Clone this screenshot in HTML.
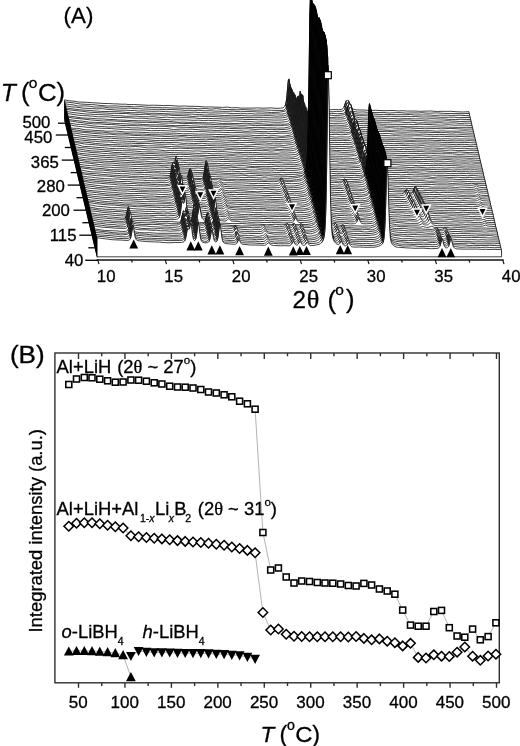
<!DOCTYPE html>
<html><head><meta charset="utf-8"><title>Figure</title>
<style>html,body{margin:0;padding:0;background:#fff}svg{display:block}</style></head>
<body><svg width="520" height="746" viewBox="0 0 520 746">
<rect width="520" height="746" fill="#fff"/>
<g id="waterfall" fill="#fff" stroke="#111" stroke-width="0.80" stroke-linejoin="round">
<path d="M64.5 118.8L64.5 99.9L68.5 100.7L74.0 101.2L78.5 102.0L80.0 102.1L86.5 102.3L104.0 103.5L108.5 103.5L113.5 103.8L117.0 103.9L121.0 104.2L125.5 104.2L129.0 104.6L133.5 104.5L148.5 105.3L153.5 105.2L160.0 105.4L163.5 105.6L168.0 105.4L179.0 106.2L184.5 106.0L190.0 106.3L197.0 106.4L205.5 107.0L209.5 106.9L222.5 107.4L227.5 107.1L231.5 107.7L233.0 107.8L236.0 107.6L241.0 108.1L253.0 108.1L257.5 107.9L263.0 108.2L271.0 107.9L277.0 108.4L280.5 108.2L282.5 107.9L284.0 107.2L284.5 106.7L285.0 106.1L285.5 104.9L286.0 103.0L286.5 100.0L287.0 95.5L288.0 83.9L288.5 79.6L289.0 79.2L289.5 82.9L291.0 99.4L291.5 102.7L292.0 104.9L292.5 106.1L293.0 106.8L293.5 107.2L294.5 107.7L296.0 108.1L299.5 108.6L304.5 109.0L317.0 109.3L322.5 109.2L330.5 109.7L335.0 109.5L338.5 109.7L340.0 109.6L341.5 109.3L342.5 108.9L343.5 107.9L344.5 105.9L346.0 101.4L346.5 100.7L347.0 100.4L347.5 100.4L348.0 100.5L348.5 100.9L349.0 101.9L350.5 106.4L351.5 108.1L352.0 108.6L353.0 109.1L355.0 109.6L357.0 109.9L363.5 110.0L371.0 110.5L375.5 110.3L385.0 110.7L393.0 110.5L398.5 110.9L403.0 110.7L407.5 111.1L414.0 111.0L419.5 111.3L430.5 111.0L437.5 111.5L442.0 111.3L446.5 111.4L450.5 111.3L456.0 111.7L462.5 112.0L469.0 111.7L469.1 118.8Z"/>
<path d="M285.0 106.1L285.5 104.9L286.0 103.0L286.5 100.0L287.0 95.5L288.0 83.9L288.5 79.6L289.0 79.2L289.5 82.9L290.5 94.6L291.0 99.4L291.5 102.7L292.0 104.9L292.5 106.1M344.0 107.1L344.5 105.9L346.0 101.4L346.5 100.7M348.0 100.5L348.5 100.9L349.0 101.9L350.5 106.4L351.0 107.4" fill="none" stroke="#1a1a1a" stroke-width="1.15"/>
<path d="M65.0 120.7L65.0 101.9L73.0 102.8L77.0 103.5L80.5 104.0L87.0 104.4L91.5 104.5L103.0 105.7L108.0 106.0L116.0 105.9L121.0 106.3L128.0 106.4L134.5 106.9L141.0 106.6L145.5 107.1L152.0 107.4L157.5 107.4L162.5 107.8L167.0 107.7L171.0 108.0L179.0 108.1L183.0 108.3L192.5 108.3L198.5 108.8L205.5 108.5L211.0 109.1L216.5 108.6L218.0 108.8L222.5 109.4L228.5 109.5L237.5 109.8L243.0 109.6L256.5 110.2L261.0 110.0L265.5 110.0L271.5 110.3L282.0 110.5L283.5 110.2L285.0 109.4L285.5 108.9L286.0 108.0L286.5 106.4L287.0 103.9L287.5 100.2L289.0 84.9L289.5 83.2L290.0 85.7L291.5 101.1L292.0 104.6L292.5 106.9L293.0 108.3L293.5 109.1L294.0 109.6L295.0 110.2L296.5 110.6L306.5 111.1L311.5 111.2L322.5 111.0L332.0 111.8L336.5 111.4L340.0 111.4L342.0 111.2L343.0 110.9L344.0 110.2L344.5 109.5L345.0 108.4L346.5 104.1L347.0 103.2L347.5 102.8L348.0 102.7L348.5 102.8L349.0 103.0L349.5 103.8L351.5 109.4L352.0 110.2L352.5 110.8L353.0 111.2L354.0 111.5L357.5 112.0L359.0 112.1L363.0 111.9L367.5 112.3L376.0 112.6L383.0 112.4L389.0 113.0L395.5 112.6L401.0 112.7L406.5 113.1L414.0 112.9L418.0 113.0L422.0 112.7L428.0 113.2L437.5 112.9L443.5 113.4L463.0 113.7L467.0 113.5L469.5 113.6L469.6 120.7Z"/>
<path d="M286.0 108.0L286.5 106.4L287.0 103.9L287.5 100.2L289.0 84.9L289.5 83.2L290.0 85.7L291.5 101.1L292.0 104.6L292.5 106.9L293.0 108.3M344.5 109.5L345.0 108.4L346.5 104.1L347.0 103.2L347.5 102.8M348.5 102.8L349.0 103.0L349.5 103.8L351.0 108.2L351.5 109.4" fill="none" stroke="#1a1a1a" stroke-width="1.15"/>
<path d="M65.4 122.7L65.4 103.8L69.4 104.5L73.4 104.9L76.9 105.8L78.4 106.0L84.9 105.9L89.9 106.3L94.9 107.1L96.9 107.1L102.4 106.9L104.9 107.2L108.4 107.8L109.9 107.9L114.9 107.8L123.9 108.3L129.9 108.1L134.9 108.6L138.9 108.7L143.4 109.0L146.9 109.0L151.4 109.3L159.9 109.3L166.4 109.6L171.4 109.5L181.4 110.0L184.9 110.4L188.9 110.2L193.4 110.4L198.4 110.3L202.9 110.7L211.4 110.8L214.9 111.1L218.9 111.1L222.9 111.4L233.4 111.2L240.4 111.7L243.9 111.6L252.4 111.6L257.9 112.0L262.4 111.9L271.4 112.5L279.4 112.2L283.9 111.4L285.4 111.0L285.9 110.6L286.4 109.9L286.9 108.7L287.4 106.6L287.9 103.3L289.4 88.0L289.9 85.4L290.4 86.7L291.9 101.7L292.4 105.5L292.9 108.1L293.4 109.6L293.9 110.5L294.4 111.0L295.4 111.6L296.9 112.0L301.9 112.8L303.4 113.0L310.9 113.3L315.4 113.1L326.4 113.5L331.4 113.4L337.4 113.7L342.4 113.5L343.4 113.3L344.4 112.7L345.4 111.3L346.9 107.5L347.4 106.6L347.9 106.1L348.9 106.0L349.4 106.1L349.9 106.6L351.9 111.2L352.9 112.6L353.9 113.2L354.9 113.5L359.4 114.2L372.4 114.0L379.9 114.5L383.4 114.4L386.9 114.6L391.4 114.5L396.9 114.7L405.9 114.7L410.4 114.5L414.9 115.0L423.9 114.9L430.4 115.1L434.9 115.4L440.9 115.1L443.9 115.3L447.4 115.2L451.4 115.5L455.9 115.3L460.4 115.3L465.9 115.6L469.9 115.7L470.0 122.7Z"/>
<path d="M286.4 109.9L286.9 108.7L287.4 106.6L287.9 103.3L289.4 88.0L289.9 85.4L290.4 86.7L291.9 101.7L292.4 105.5L292.9 108.1L293.4 109.6L293.9 110.5M345.4 111.3L346.9 107.5L347.4 106.6L347.9 106.1M349.4 106.1L349.9 106.6L350.4 107.6L351.9 111.2" fill="none" stroke="#1a1a1a" stroke-width="1.15"/>
<path d="M65.9 124.6L65.9 105.9L71.9 106.9L75.4 107.1L83.9 108.2L91.9 108.6L96.9 108.9L102.4 108.7L106.9 109.3L118.4 110.1L125.9 110.2L130.4 110.5L134.4 110.5L138.4 111.0L142.9 110.9L151.9 111.3L159.4 111.2L165.4 111.6L178.4 112.1L182.9 112.1L186.9 112.4L194.9 112.2L200.4 112.6L206.4 112.7L209.9 113.0L215.4 112.9L221.9 113.2L226.4 113.1L233.4 113.5L240.4 113.7L244.4 113.6L247.4 113.8L250.9 113.6L255.4 114.1L261.4 113.8L267.4 114.0L271.4 113.9L276.9 113.9L280.4 114.1L281.9 114.1L284.4 113.7L285.9 113.2L286.4 112.9L286.9 112.3L287.4 111.2L287.9 109.4L288.4 106.4L289.9 91.2L290.4 87.6L290.9 87.7L291.4 91.5L292.9 106.7L293.4 109.6L293.9 111.4L294.4 112.4L294.9 112.9L295.4 113.3L296.9 113.9L298.9 114.4L303.9 114.6L307.4 114.9L311.9 114.8L321.9 115.2L327.9 114.9L334.4 115.6L337.4 115.5L342.9 114.9L344.4 114.5L344.9 114.1L345.4 113.5L346.4 111.2L347.9 106.4L348.4 105.6L348.9 105.4L349.4 105.4L349.9 105.5L350.4 106.0L350.9 107.1L352.4 112.1L352.9 113.2L353.4 114.0L353.9 114.5L354.9 115.0L358.9 115.7L362.9 115.7L385.4 116.5L390.4 116.3L400.9 116.7L407.9 116.4L411.4 116.6L415.4 116.5L422.9 117.0L433.9 116.9L440.9 117.3L448.4 117.3L453.4 117.2L458.4 117.6L470.4 117.4L470.5 124.6Z"/>
<path d="M286.9 112.3L287.4 111.2L287.9 109.4L288.4 106.4L288.9 102.1L289.9 91.2L290.4 87.6L290.9 87.7L291.4 91.5L292.4 102.4L292.9 106.7L293.4 109.6L293.9 111.4L294.4 112.4M345.4 113.5L345.9 112.6L346.4 111.2L347.9 106.4L348.4 105.6L348.9 105.4M349.9 105.5L350.4 106.0L350.9 107.1L351.9 110.6L352.4 112.1L352.9 113.2" fill="none" stroke="#1a1a1a" stroke-width="1.15"/>
<path d="M66.3 126.6L66.3 108.0L79.8 109.8L86.8 110.3L90.3 110.4L93.8 110.9L97.3 111.1L100.3 111.4L116.8 111.7L121.8 112.0L126.3 112.4L131.3 112.7L140.8 112.7L149.3 113.3L156.3 113.3L171.3 114.0L178.8 114.1L183.3 114.0L186.8 114.2L191.3 114.1L195.3 114.4L199.3 114.4L204.8 115.0L211.3 114.8L218.3 115.1L224.3 115.6L231.8 115.2L235.8 115.5L241.3 115.5L248.3 115.9L252.8 115.8L256.8 115.9L263.8 115.7L270.8 115.7L276.8 116.2L283.8 115.8L285.8 115.4L286.8 114.9L287.3 114.3L287.8 113.4L288.3 111.7L288.8 108.9L289.3 104.8L290.8 89.1L291.3 88.0L291.8 91.0L293.3 107.2L293.8 110.7L294.3 112.9L294.8 114.3L295.3 115.0L295.8 115.5L296.8 116.0L298.3 116.3L304.3 116.8L313.8 117.1L318.3 117.0L323.8 117.7L332.3 117.5L336.8 117.2L340.8 117.3L343.3 117.0L344.8 116.4L345.3 116.0L345.8 115.3L346.3 114.1L346.8 112.5L348.3 105.9L348.8 104.6L349.3 104.1L349.8 104.0L350.3 104.1L350.8 104.6L351.3 105.8L352.8 112.4L353.3 114.1L353.8 115.3L354.3 116.0L354.8 116.5L355.8 116.9L359.8 117.8L364.8 118.1L368.8 118.0L373.3 118.4L377.8 118.1L388.3 118.7L393.8 118.5L398.8 118.9L407.3 118.6L415.8 118.9L421.3 118.8L425.8 119.1L430.8 118.7L440.8 119.0L444.8 119.0L448.8 119.4L451.8 119.4L455.3 119.5L460.3 119.3L470.8 119.5L470.9 126.6Z"/>
<path d="M287.3 114.3L287.8 113.4L288.3 111.7L288.8 108.9L289.3 104.8L290.3 93.7L290.8 89.1L291.3 88.0L291.8 91.0L293.3 107.2L293.8 110.7L294.3 112.9L294.8 114.3M345.8 115.3L346.3 114.1L346.8 112.5L348.3 105.9L348.8 104.6L349.3 104.1M350.3 104.1L350.8 104.6L351.3 105.8L352.8 112.4L353.3 114.1L353.8 115.3" fill="none" stroke="#1a1a1a" stroke-width="1.15"/>
<path d="M66.8 128.5L66.8 109.4L70.8 110.1L82.8 111.3L88.3 112.1L101.3 112.9L106.8 113.1L110.3 113.4L114.3 113.3L118.3 113.5L125.8 113.5L134.3 114.3L139.8 114.5L145.8 114.2L151.3 114.9L153.8 115.0L159.3 114.9L163.3 115.2L168.3 114.9L174.3 115.5L186.8 115.8L192.8 116.5L199.3 116.1L204.3 116.4L211.8 116.4L223.8 117.1L229.8 117.0L244.8 117.6L254.3 117.7L263.3 117.6L278.8 118.0L282.3 117.8L285.8 117.3L287.3 116.7L287.8 116.3L288.3 115.5L288.8 114.0L289.3 111.6L289.8 108.0L291.3 91.9L291.8 89.5L292.3 91.3L293.8 107.3L294.3 111.2L294.8 113.7L295.3 115.3L295.8 116.2L296.3 116.8L297.8 117.5L299.8 118.0L309.3 118.8L313.8 118.6L317.8 118.8L321.3 118.8L325.8 119.0L332.3 118.9L340.3 119.1L344.3 118.7L345.3 118.4L345.8 118.1L346.3 117.5L346.8 116.6L347.3 115.3L348.8 109.6L349.3 108.1L349.8 107.5L350.3 107.4L350.8 107.4L351.3 107.7L351.8 108.6L353.8 115.9L354.3 117.1L354.8 117.9L355.3 118.4L356.3 118.9L361.3 119.8L363.3 119.9L370.3 119.7L377.8 120.2L390.8 120.4L409.3 120.1L414.8 120.6L422.3 120.6L425.8 120.9L435.8 121.1L441.3 121.1L448.3 120.7L452.3 121.1L455.8 121.2L459.8 121.5L471.3 121.2L471.4 128.5Z"/>
<path d="M287.8 116.3L288.3 115.5L288.8 114.0L289.3 111.6L289.8 108.0L291.3 91.9L291.8 89.5L292.3 91.3L293.8 107.3L294.3 111.2L294.8 113.7L295.3 115.3L295.8 116.2M346.8 116.6L347.3 115.3L347.8 113.6L348.8 109.6L349.3 108.1L349.8 107.5M350.8 107.4L351.3 107.7L351.8 108.6L352.3 110.2L353.3 114.3L353.8 115.9L354.3 117.1" fill="none" stroke="#1a1a1a" stroke-width="1.15"/>
<path d="M67.2 130.5L67.2 111.5L71.2 112.3L86.7 114.1L90.7 114.1L94.7 114.5L98.7 114.6L109.7 115.1L114.7 115.7L120.2 115.7L125.7 116.3L134.7 116.2L138.7 116.4L142.2 116.7L148.7 116.8L153.2 116.7L161.2 117.5L166.7 117.1L170.2 117.5L177.7 117.8L186.7 117.7L193.2 117.9L195.2 118.0L200.2 118.5L208.7 118.4L213.7 118.7L219.2 118.7L224.2 119.1L229.7 118.9L242.2 119.2L246.2 119.5L253.2 119.5L258.7 119.8L263.7 119.7L274.7 120.1L282.7 120.0L286.2 119.4L287.7 118.9L288.2 118.5L288.7 117.8L289.2 116.5L289.7 114.4L290.2 111.0L291.7 94.7L292.2 91.2L292.7 91.9L293.2 96.3L294.2 107.9L294.7 112.3L295.2 115.3L295.7 117.1L296.2 118.2L296.7 118.8L297.7 119.4L299.7 119.9L301.7 120.2L307.2 120.5L311.2 120.8L315.2 120.9L319.7 121.2L326.7 120.9L340.2 121.2L345.2 120.8L346.2 120.5L346.7 120.1L347.2 119.4L348.2 117.0L349.7 112.0L350.2 111.3L350.7 111.1L351.2 111.1L351.7 111.2L352.2 111.8L352.7 113.0L354.2 118.1L354.7 119.3L355.2 120.1L356.2 120.9L357.7 121.3L365.2 121.9L370.7 121.8L382.2 122.3L386.7 122.3L393.7 121.9L398.7 121.9L406.2 122.5L412.2 122.2L417.7 123.0L423.7 122.7L429.2 123.0L439.2 122.7L444.7 123.1L450.2 122.8L456.2 123.0L460.7 123.5L464.7 123.1L471.7 123.3L471.8 130.5Z"/>
<path d="M288.7 117.8L289.2 116.5L289.7 114.4L290.2 111.0L290.7 106.3L291.7 94.7L292.2 91.2L292.7 91.9L293.2 96.3L294.2 107.9L294.7 112.3L295.2 115.3L295.7 117.1L296.2 118.2M347.2 119.4L347.7 118.4L348.2 117.0L349.2 113.5L349.7 112.0L350.2 111.3M351.7 111.2L352.2 111.8L352.7 113.0L353.7 116.6L354.2 118.1L354.7 119.3" fill="none" stroke="#1a1a1a" stroke-width="1.15"/>
<path d="M67.7 132.4L67.7 113.6L78.2 115.2L83.2 115.6L87.2 115.8L92.7 116.2L98.2 116.8L107.2 116.8L115.2 117.5L123.2 117.5L126.2 117.7L130.2 117.8L136.7 118.3L142.2 118.2L145.7 118.4L149.7 118.9L155.7 118.9L164.2 119.5L167.7 119.5L171.7 120.0L176.2 119.8L186.2 119.9L193.2 120.3L198.7 120.2L203.7 120.6L208.2 120.3L212.2 120.6L216.7 120.6L222.2 121.2L228.2 121.2L235.2 120.9L241.7 121.4L247.7 121.4L255.7 122.0L258.2 122.0L263.7 121.6L270.7 122.1L278.7 122.3L281.2 122.2L286.2 121.7L287.7 121.3L288.7 120.7L289.2 120.1L289.7 119.0L290.2 117.1L290.7 114.2L292.7 94.0L293.2 93.4L293.7 96.8L295.2 113.2L295.7 116.5L296.2 118.7L296.7 119.9L297.2 120.6L297.7 121.0L299.2 121.7L301.2 122.2L302.7 122.4L308.2 122.6L313.2 122.4L319.2 122.7L325.2 123.1L333.7 123.4L339.2 123.2L343.2 123.3L344.7 123.1L345.7 122.9L346.7 122.5L347.2 122.1L347.7 121.5L348.7 119.3L350.2 114.1L350.7 113.1L351.2 112.8L351.7 112.7L352.2 112.8L352.7 113.2L353.2 114.3L354.7 119.5L355.7 121.7L356.2 122.3L357.2 122.9L360.2 123.5L363.7 123.7L368.2 123.6L372.2 123.8L376.2 123.8L383.2 124.3L387.7 124.2L400.2 124.4L408.7 124.3L413.2 124.6L419.2 124.2L433.7 124.7L441.7 125.2L448.7 124.7L454.2 125.2L464.2 125.1L468.2 125.4L472.2 125.4L472.3 132.4Z"/>
<path d="M289.2 120.1L289.7 119.0L290.2 117.1L290.7 114.2L291.2 109.8L292.2 98.3L292.7 94.0L293.2 93.4L293.7 96.8L294.7 108.4L295.2 113.2L295.7 116.5L296.2 118.7L296.7 119.9M348.2 120.6L348.7 119.3L350.2 114.1L350.7 113.1L351.2 112.8M352.2 112.8L352.7 113.2L353.2 114.3L354.7 119.5L355.2 120.8" fill="none" stroke="#1a1a1a" stroke-width="1.15"/>
<path d="M68.2 134.3L68.2 116.0L73.2 116.6L81.7 117.9L87.2 118.2L91.2 118.3L98.2 118.9L102.2 118.9L109.7 119.5L113.7 119.5L118.7 120.0L124.2 120.1L127.7 120.4L133.7 120.5L138.7 120.8L147.2 120.8L152.7 121.2L158.7 121.2L168.2 121.4L179.2 122.3L182.7 122.1L188.7 122.4L193.7 122.3L198.2 122.6L202.2 122.6L208.2 122.9L214.2 122.7L222.7 123.5L228.2 123.3L234.2 123.5L239.7 123.5L246.2 123.2L252.7 123.9L258.2 123.7L263.7 123.9L269.7 124.3L275.2 124.1L280.7 124.1L284.2 124.2L285.7 124.1L287.7 123.7L288.7 123.3L289.2 123.0L289.7 122.4L290.2 121.4L290.7 119.7L291.2 116.9L291.7 112.6L293.2 94.8L293.7 92.7L294.2 95.3L295.7 113.2L296.2 117.4L296.7 120.0L297.2 121.6L297.7 122.5L298.2 123.0L299.2 123.5L300.7 123.9L309.2 124.8L314.7 125.0L318.7 124.8L325.7 125.4L332.7 125.3L336.2 125.1L341.7 125.4L344.7 125.2L347.2 124.6L348.2 123.8L348.7 123.1L349.2 122.0L350.7 117.1L351.2 115.9L351.7 115.4L352.7 115.3L353.2 115.5L353.7 116.3L355.2 121.3L356.2 123.7L356.7 124.4L357.2 124.8L358.2 125.3L359.2 125.4L363.2 125.7L368.7 125.6L372.2 125.9L375.7 125.8L379.7 126.0L383.2 125.9L387.7 126.3L391.7 126.2L395.7 126.3L399.2 126.2L407.2 126.7L419.2 126.7L424.2 126.9L436.2 126.8L440.7 127.1L448.2 127.1L452.2 127.3L458.7 127.4L466.2 127.3L472.7 127.4L472.8 134.3Z"/>
<path d="M290.2 121.4L290.7 119.7L291.2 116.9L291.7 112.6L293.2 94.8L293.7 92.7L294.2 95.3L295.7 113.2L296.2 117.4L296.7 120.0L297.2 121.6M348.7 123.1L349.2 122.0L349.7 120.5L350.7 117.1L351.2 115.9L351.7 115.4M352.7 115.3L353.2 115.5L353.7 116.3L355.7 122.7" fill="none" stroke="#1a1a1a" stroke-width="1.15"/>
<path d="M68.6 136.3L68.6 117.3L75.1 118.3L82.1 118.9L90.6 119.9L102.1 120.9L103.6 121.0L107.6 120.8L113.1 120.9L120.6 121.4L126.1 121.5L131.1 121.9L142.1 122.4L146.6 122.3L152.1 122.6L156.1 122.5L164.1 123.2L168.6 123.1L173.1 123.2L177.6 123.0L182.6 123.6L189.6 123.5L197.6 123.9L209.6 124.2L217.1 124.7L222.1 124.8L228.1 124.7L242.6 125.3L249.1 125.0L255.6 125.6L261.1 125.3L273.6 125.7L280.1 125.7L284.6 125.3L287.6 125.2L289.1 124.9L290.1 124.2L290.6 123.4L291.1 122.0L291.6 119.6L292.1 115.7L293.6 98.0L294.1 94.7L294.6 96.0L296.1 113.6L296.6 118.2L297.1 121.2L297.6 123.1L298.1 124.2L298.6 124.8L299.6 125.4L301.1 125.9L308.6 126.7L312.6 126.5L317.1 126.8L323.1 126.7L328.6 126.8L332.1 127.0L335.6 127.0L340.1 127.1L343.1 127.0L347.1 126.7L348.1 126.4L348.6 126.0L349.1 125.4L350.1 123.2L351.6 118.9L352.1 118.3L353.1 118.1L353.6 118.2L354.1 118.8L354.6 119.9L356.1 124.5L357.1 126.3L358.1 127.1L359.6 127.5L366.6 127.6L375.6 127.9L382.1 128.0L390.6 127.7L395.1 128.1L399.6 128.2L409.1 127.9L414.1 128.3L420.1 128.5L424.6 128.7L436.6 128.5L441.6 128.8L450.1 128.4L463.6 129.1L473.1 129.1L473.2 136.3Z"/>
<path d="M290.6 123.4L291.1 122.0L291.6 119.6L292.1 115.7L293.6 98.0L294.1 94.7L294.6 96.0L295.1 101.1L296.1 113.6L296.6 118.2L297.1 121.2L297.6 123.1L298.1 124.2M349.6 124.5L350.1 123.2L351.1 120.2L351.6 118.9L352.1 118.3M353.6 118.2L354.1 118.8L354.6 119.9L355.6 123.1L356.1 124.5L356.6 125.6" fill="none" stroke="#1a1a1a" stroke-width="1.15"/>
<path d="M69.1 138.2L69.1 119.5L76.1 120.6L82.6 121.2L88.6 122.1L107.1 122.9L116.6 123.5L127.1 123.8L132.1 124.2L137.6 124.1L142.6 124.5L150.6 124.8L161.1 124.8L169.1 125.4L175.6 125.7L186.6 125.4L191.1 125.9L195.6 125.9L200.6 126.3L207.6 126.2L213.1 126.3L221.1 126.8L227.1 126.6L235.1 127.2L240.1 127.0L244.6 127.0L251.1 127.6L258.1 127.4L267.1 127.8L272.6 127.8L277.6 128.1L284.6 127.9L288.1 127.2L289.6 126.7L290.6 125.9L291.1 125.1L291.6 123.8L292.1 121.6L292.6 118.0L294.1 99.7L294.6 95.1L295.1 95.0L295.6 99.6L296.6 113.0L297.1 118.4L297.6 122.2L298.1 124.6L298.6 126.0L299.1 126.8L299.6 127.3L300.1 127.6L301.1 128.0L302.6 128.2L306.6 128.2L310.6 128.6L316.1 128.5L320.1 128.9L324.1 129.0L328.1 128.9L332.6 129.1L336.6 128.9L341.1 129.0L345.6 128.9L347.6 128.7L348.6 128.4L349.1 128.0L349.6 127.4L350.6 125.2L352.1 120.3L352.6 119.4L353.1 119.2L353.6 119.1L354.1 119.2L354.6 119.7L355.1 120.7L356.6 125.7L357.1 126.9L357.6 127.7L358.1 128.3L358.6 128.6L359.6 129.0L363.6 129.5L365.6 129.7L370.6 129.5L391.6 130.3L395.6 130.2L401.6 129.9L405.6 130.2L413.6 130.2L417.1 130.6L421.1 130.6L424.1 130.8L429.6 130.7L435.6 131.1L438.6 131.1L442.6 130.9L446.1 131.1L457.1 131.2L462.1 130.9L465.1 130.8L470.6 131.2L473.6 131.2L473.7 138.2Z"/>
<path d="M290.6 125.9L291.1 125.1L291.6 123.8L292.1 121.6L292.6 118.0L293.1 112.9L294.1 99.7L294.6 95.1L295.1 95.0L295.6 99.6L296.6 113.0L297.1 118.4L297.6 122.2L298.1 124.6L298.6 126.0M350.1 126.5L350.6 125.2L352.1 120.3L352.6 119.4L353.1 119.2M354.1 119.2L354.6 119.7L355.1 120.7L356.6 125.7L357.1 126.9" fill="none" stroke="#1a1a1a" stroke-width="1.15"/>
<path d="M69.5 140.2L69.5 120.9L72.5 121.3L77.5 122.2L82.0 122.6L85.5 123.2L90.0 123.4L93.5 123.9L95.0 124.0L99.0 123.8L107.0 124.5L111.5 124.4L122.0 125.5L126.5 125.5L139.5 125.8L143.5 125.8L155.5 126.4L159.5 126.3L164.5 126.4L170.0 126.9L174.0 126.7L179.0 127.2L187.0 127.3L192.0 127.6L197.0 127.4L202.5 127.8L206.0 127.7L209.5 128.0L213.5 128.0L218.5 128.4L224.0 128.1L228.5 128.4L242.5 128.8L248.5 128.8L255.0 129.4L264.0 129.1L268.0 129.5L272.0 129.3L276.5 129.7L285.5 129.4L288.0 129.1L290.0 128.5L291.0 127.9L291.5 127.3L292.0 126.3L292.5 124.5L293.0 121.6L293.5 117.3L295.0 100.1L295.5 98.7L296.0 101.8L297.5 119.4L298.0 123.2L298.5 125.7L299.0 127.2L299.5 128.0L300.5 128.8L302.0 129.3L309.0 130.2L319.5 130.1L327.5 130.9L336.5 130.8L341.0 131.0L347.5 130.6L349.0 130.2L350.0 129.5L351.0 127.8L352.5 123.5L353.0 122.5L353.5 122.1L354.0 122.1L354.5 122.1L355.0 122.3L355.5 123.0L357.5 128.5L358.5 130.0L359.0 130.4L360.0 130.9L362.0 131.2L365.5 131.4L371.0 131.3L377.5 131.6L387.5 131.3L395.0 131.9L405.0 132.2L414.5 131.9L423.5 132.3L428.0 132.2L432.0 132.5L436.0 132.4L440.5 132.6L445.5 132.6L451.5 133.0L456.5 132.7L464.0 132.9L470.0 133.2L474.0 133.1L474.1 140.2Z"/>
<path d="M291.5 127.3L292.0 126.3L292.5 124.5L293.0 121.6L293.5 117.3L295.0 100.1L295.5 98.7L296.0 101.8L297.0 114.0L297.5 119.4L298.0 123.2L298.5 125.7L299.0 127.2L299.5 128.0M350.5 128.8L351.0 127.8L352.5 123.5L353.0 122.5L353.5 122.1M355.0 122.3L355.5 123.0L357.5 128.5" fill="none" stroke="#1a1a1a" stroke-width="1.15"/>
<path d="M70.0 142.1L70.0 123.2L76.5 124.3L80.5 124.4L83.5 124.7L86.5 124.9L92.0 125.8L100.0 126.5L104.5 126.7L108.5 127.0L114.0 126.9L120.0 127.3L126.5 127.3L132.0 127.9L137.0 127.9L145.5 128.4L150.5 128.3L154.5 128.6L158.5 128.4L166.5 128.5L168.5 128.7L171.5 129.3L173.5 129.5L181.5 129.1L186.5 129.3L191.0 129.2L202.0 130.0L207.0 130.0L217.5 130.5L223.0 130.2L228.0 130.5L233.0 130.5L237.0 130.8L241.0 130.8L246.0 131.4L251.5 131.0L261.0 131.6L268.5 131.7L274.0 131.4L280.0 131.8L287.0 131.4L290.0 130.8L291.5 130.1L292.0 129.5L292.5 128.6L293.0 127.0L293.5 124.4L294.0 120.3L295.5 102.2L296.0 99.4L296.5 101.2L298.0 119.3L298.5 123.8L299.0 126.7L299.5 128.5L300.0 129.5L300.5 130.1L301.0 130.5L302.0 131.0L304.5 131.7L307.0 132.0L311.5 132.3L315.5 132.2L319.0 132.4L323.0 132.3L328.0 132.7L331.5 132.6L335.5 132.8L339.5 132.7L345.5 132.8L348.5 132.5L350.0 132.1L350.5 131.7L351.0 131.1L352.0 128.8L353.5 124.4L354.0 123.7L355.0 123.6L355.5 123.7L356.0 124.3L358.0 130.3L358.5 131.3L359.0 132.0L359.5 132.5L360.5 132.9L361.5 133.1L368.0 133.2L373.5 133.7L382.0 133.7L387.0 133.4L389.5 133.5L394.0 134.1L402.0 133.9L407.5 134.2L414.0 134.1L418.5 134.3L423.5 134.1L434.0 134.7L439.5 134.4L451.0 134.9L458.0 134.9L463.0 134.6L467.5 134.9L474.5 135.1L474.6 142.1Z"/>
<path d="M292.0 129.5L292.5 128.6L293.0 127.0L293.5 124.4L294.0 120.3L295.5 102.2L296.0 99.4L296.5 101.2L298.0 119.3L298.5 123.8L299.0 126.7L299.5 128.5L300.0 129.5M351.0 131.1L351.5 130.1L352.0 128.8L353.0 125.6L353.5 124.4L354.0 123.7M355.5 123.7L356.0 124.3L356.5 125.6L357.5 128.9L358.0 130.3L358.5 131.3" fill="none" stroke="#1a1a1a" stroke-width="1.15"/>
<path d="M70.5 144.1L70.5 124.9L74.5 125.8L78.5 126.4L82.5 126.7L87.0 127.3L91.0 127.4L94.0 127.8L99.0 128.2L102.5 128.4L106.5 128.4L111.5 128.6L116.5 129.0L123.5 129.4L128.0 129.5L133.0 129.8L145.0 130.1L151.5 130.7L160.5 130.5L169.5 130.9L174.0 131.3L178.0 131.1L182.0 131.3L186.0 131.3L192.5 131.6L203.5 131.6L211.5 132.2L216.5 132.1L230.5 132.6L241.0 132.6L245.0 132.9L253.0 133.0L257.5 133.3L265.5 133.2L271.0 133.7L281.0 133.2L289.0 133.2L290.5 132.9L292.0 132.1L292.5 131.6L293.0 130.8L293.5 129.4L294.0 126.9L294.5 123.0L296.0 103.5L296.5 99.1L297.0 99.6L297.5 104.7L298.5 118.6L299.0 123.9L299.5 127.5L300.0 129.8L300.5 131.1L301.0 131.9L302.0 132.7L304.0 133.3L306.5 133.7L310.0 134.1L314.0 134.1L329.0 134.7L336.0 134.3L340.5 134.7L342.5 134.7L347.5 134.3L349.5 134.0L350.5 133.4L351.0 132.9L351.5 132.0L352.0 130.6L352.5 128.6L354.0 121.2L354.5 119.9L355.0 119.5L355.5 119.5L356.0 119.6L356.5 120.2L357.0 121.9L358.5 129.4L359.0 131.2L359.5 132.5L360.0 133.3L361.0 134.1L362.5 134.7L364.5 135.1L367.0 135.3L377.0 135.4L381.5 135.6L386.0 135.6L391.0 135.8L396.5 135.7L402.5 136.0L411.0 136.0L414.5 135.8L421.5 135.9L426.5 136.3L430.5 136.2L434.5 136.5L438.0 136.3L444.5 136.4L454.5 136.8L461.0 136.4L465.0 136.7L475.0 137.0L475.1 144.1Z"/>
<path d="M292.5 131.6L293.0 130.8L293.5 129.4L294.0 126.9L294.5 123.0L295.0 117.4L296.0 103.5L296.5 99.1L297.0 99.6L297.5 104.7L298.5 118.6L299.0 123.9L299.5 127.5L300.0 129.8L300.5 131.1L301.0 131.9M351.0 132.9L351.5 132.0L352.0 130.6L352.5 128.6L354.0 121.2L354.5 119.9L355.0 119.5M356.0 119.6L356.5 120.2L357.0 121.9L358.5 129.4L359.0 131.2L359.5 132.5" fill="none" stroke="#1a1a1a" stroke-width="1.15"/>
<path d="M70.9 146.0L70.9 127.8L73.4 128.3L76.4 128.3L77.9 128.4L85.9 129.9L90.4 129.9L94.4 130.4L101.4 130.7L106.9 131.2L110.4 131.2L115.4 131.0L125.4 132.0L137.4 132.1L141.9 132.4L146.4 132.5L150.9 132.9L159.4 132.8L176.4 133.3L183.4 133.8L190.4 133.7L198.4 134.1L204.4 134.0L208.4 134.3L211.9 134.3L228.9 134.8L233.4 135.1L239.9 134.9L245.4 135.1L249.4 135.0L255.9 135.7L262.9 135.3L264.9 135.4L268.4 135.9L273.9 135.6L280.9 136.2L282.9 136.2L285.4 135.9L289.9 135.2L291.9 134.5L292.9 133.7L293.4 133.0L293.9 131.6L294.4 129.3L294.9 125.4L296.9 98.1L297.4 96.9L297.9 101.3L299.4 123.1L299.9 127.8L300.4 130.7L300.9 132.4L301.4 133.4L301.9 134.0L302.9 134.8L303.9 135.3L306.4 136.1L308.9 136.4L312.9 136.2L317.4 136.5L321.4 136.4L325.9 136.7L331.4 136.7L335.9 137.1L340.4 136.8L346.9 137.0L348.4 136.9L349.9 136.6L350.9 136.0L351.4 135.5L351.9 134.7L352.4 133.3L352.9 131.4L354.4 123.6L354.9 121.9L355.4 121.3L355.9 121.1L356.4 121.2L356.9 121.6L357.4 123.0L358.9 130.7L359.9 134.3L360.4 135.3L360.9 135.9L361.4 136.3L362.4 136.8L363.4 137.0L367.9 137.2L371.4 137.7L373.4 137.9L378.4 137.5L382.9 137.9L386.9 137.8L391.4 138.0L400.4 137.9L406.4 138.2L409.9 138.1L414.4 138.4L421.9 138.4L427.4 138.7L434.9 138.5L440.4 138.9L447.4 138.7L451.9 139.1L457.4 138.8L460.9 139.0L465.4 138.9L470.9 139.1L475.4 139.1L475.5 146.0Z"/>
<path d="M292.9 133.7L293.4 133.0L293.9 131.6L294.4 129.3L294.9 125.4L295.4 119.6L296.4 104.2L296.9 98.1L297.4 96.9L297.9 101.3L298.9 116.7L299.4 123.1L299.9 127.8L300.4 130.7L300.9 132.4L301.4 133.4M351.9 134.7L352.4 133.3L352.9 131.4L354.4 123.6L354.9 121.9L355.4 121.3M356.4 121.2L356.9 121.6L357.4 123.0L358.9 130.7L359.4 132.8L359.9 134.3" fill="none" stroke="#1a1a1a" stroke-width="1.15"/>
<path d="M71.4 148.0L71.4 129.4L76.9 130.1L82.9 131.1L86.9 131.6L92.4 131.7L98.4 132.2L102.4 132.1L109.9 133.0L114.9 133.2L122.4 133.2L134.4 134.1L143.9 134.1L151.4 134.7L157.9 134.7L161.9 134.9L169.4 134.7L173.4 135.1L177.4 135.2L180.9 135.5L188.4 135.4L192.4 135.7L198.9 135.9L210.9 136.1L215.4 136.5L219.4 136.4L222.4 136.5L226.4 136.3L230.4 136.6L235.9 136.5L241.4 136.8L247.9 136.7L249.9 136.8L254.4 137.4L262.9 137.3L266.9 137.6L271.4 137.5L276.4 137.9L281.4 137.5L284.4 137.4L291.4 136.7L292.9 136.3L293.4 135.9L293.9 135.3L294.4 134.2L294.9 132.1L295.4 128.7L295.9 123.5L297.4 101.3L297.9 98.4L298.4 101.3L299.9 123.4L300.4 128.5L300.9 131.9L301.4 133.9L301.9 135.0L302.4 135.7L302.9 136.1L303.9 136.6L305.9 137.3L307.4 137.5L311.4 137.8L315.9 138.5L318.9 138.7L328.9 138.6L336.9 138.9L341.4 138.8L345.9 139.1L347.9 139.0L349.4 138.6L350.4 138.3L351.4 137.8L351.9 137.3L352.4 136.5L352.9 135.4L353.4 133.6L354.9 125.9L355.4 123.9L355.9 123.0L356.4 122.8L356.9 122.9L357.4 123.2L357.9 124.3L359.9 134.3L360.4 135.9L360.9 137.0L361.4 137.7L361.9 138.1L362.9 138.6L364.4 138.9L368.9 139.2L373.9 139.2L378.4 139.6L385.4 139.8L394.4 139.7L411.9 140.3L416.9 140.0L423.4 140.2L428.9 140.1L436.9 140.5L441.4 140.4L445.9 140.7L449.9 140.7L454.4 140.9L459.9 140.7L464.4 140.9L470.4 140.6L473.9 140.9L475.9 140.9L476.0 148.0Z"/>
<path d="M293.9 135.3L294.4 134.2L294.9 132.1L295.4 128.7L295.9 123.5L297.4 101.3L297.9 98.4L298.4 101.3L299.9 123.4L300.4 128.5L300.9 131.9L301.4 133.9L301.9 135.0L302.4 135.7M352.4 136.5L352.9 135.4L353.4 133.6L354.9 125.9L355.4 123.9L355.9 123.0L356.4 122.8L356.9 122.9L357.4 123.2L357.9 124.3L358.4 126.5L359.4 132.0L359.9 134.3L360.4 135.9L360.9 137.0" fill="none" stroke="#1a1a1a" stroke-width="1.15"/>
<path d="M71.8 149.9L71.8 130.9L74.3 131.4L79.3 132.0L85.3 132.5L90.3 133.1L104.8 134.2L109.3 134.1L117.8 135.0L123.3 134.9L129.8 135.1L133.8 135.4L138.8 135.5L142.3 135.8L146.8 135.7L161.3 136.3L164.8 136.5L170.8 136.6L175.8 137.0L180.3 136.8L182.3 136.8L189.8 137.5L196.3 137.4L201.8 137.9L206.3 137.8L212.8 138.1L216.8 137.9L226.3 137.9L235.3 138.6L242.3 138.2L252.3 139.1L258.3 139.0L262.8 139.2L267.8 139.1L279.8 139.5L286.3 139.3L289.8 139.0L292.3 138.4L293.3 137.9L293.8 137.5L294.3 136.8L294.8 135.8L295.3 133.9L295.8 130.6L296.3 125.5L297.8 100.8L298.3 96.0L298.8 97.3L300.3 121.5L300.8 127.9L301.3 132.2L301.8 134.9L302.3 136.4L302.8 137.3L303.8 138.2L305.3 138.9L308.3 139.4L313.3 140.0L323.8 140.5L328.3 140.4L332.3 140.4L336.3 140.6L343.8 140.4L347.8 140.6L350.8 140.3L351.8 139.9L352.3 139.5L352.8 138.9L353.3 137.9L354.3 134.4L355.8 127.1L356.3 125.9L356.8 125.5L357.3 125.5L357.8 125.7L358.3 126.4L358.8 128.1L360.3 135.5L360.8 137.3L361.3 138.5L361.8 139.4L362.3 139.9L363.3 140.4L364.3 140.6L368.8 141.0L373.3 141.0L377.3 141.3L382.3 141.2L395.8 141.5L402.3 141.9L409.8 141.6L432.3 142.2L437.3 142.0L442.3 142.4L447.3 142.4L455.8 142.7L464.3 142.5L470.3 142.6L474.3 142.8L476.3 142.8L476.4 149.9Z"/>
<path d="M293.8 137.5L294.3 136.8L294.8 135.8L295.3 133.9L295.8 130.6L296.3 125.5L296.8 118.2L297.8 100.8L298.3 96.0L298.8 97.3L299.3 104.2L300.3 121.5L300.8 127.9L301.3 132.2L301.8 134.9L302.3 136.4L302.8 137.3M352.8 138.9L353.3 137.9L353.8 136.4L354.3 134.4L355.8 127.1L356.3 125.9L356.8 125.5M357.8 125.7L358.3 126.4L358.8 128.1L360.3 135.5L360.8 137.3L361.3 138.5" fill="none" stroke="#1a1a1a" stroke-width="1.15"/>
<path d="M72.3 151.8L72.3 133.0L76.3 133.3L83.8 134.6L103.8 136.3L111.3 136.5L118.3 137.0L125.3 137.1L130.3 137.5L152.3 138.1L160.3 138.6L169.8 138.5L180.8 139.2L193.8 139.3L205.8 139.9L210.8 139.4L214.3 139.7L218.3 139.8L222.3 140.1L226.8 140.1L233.3 140.6L239.3 140.3L242.8 140.5L247.8 140.6L255.8 141.0L265.8 141.2L274.8 141.3L278.8 141.5L283.3 141.2L288.8 141.3L290.3 141.1L291.8 140.7L292.8 140.3L294.3 139.4L294.8 138.8L295.3 137.8L295.8 136.1L296.3 133.2L296.8 128.4L297.3 121.4L298.3 103.3L298.8 96.7L299.3 96.1L299.8 101.9L301.3 127.4L301.8 132.6L302.3 135.9L302.8 137.8L303.3 138.9L303.8 139.6L304.8 140.4L306.8 141.2L309.3 141.7L312.3 141.9L323.8 142.2L329.3 142.5L334.8 142.4L338.8 142.6L342.8 142.5L348.8 142.7L350.8 142.5L351.8 142.2L352.8 141.7L353.3 141.2L353.8 140.5L354.3 139.3L354.8 137.6L356.3 130.8L356.8 129.3L357.3 128.8L357.8 128.7L358.3 128.8L358.8 129.2L359.3 130.5L360.8 137.5L361.3 139.3L361.8 140.6L362.3 141.4L362.8 141.9L363.8 142.4L364.8 142.6L370.8 143.0L374.8 142.9L381.3 143.0L384.8 143.3L389.8 143.4L393.8 143.7L398.8 143.5L404.8 143.9L410.8 143.7L416.3 144.0L424.8 143.8L430.3 144.1L438.3 144.0L442.3 144.3L447.3 144.2L456.3 144.7L460.8 144.4L464.8 144.4L470.8 144.9L476.8 144.5L476.9 151.8Z"/>
<path d="M294.3 139.4L294.8 138.8L295.3 137.8L295.8 136.1L296.3 133.2L296.8 128.4L297.3 121.4L298.3 103.3L298.8 96.7L299.3 96.1L299.8 101.9L300.8 120.0L301.3 127.4L301.8 132.6L302.3 135.9L302.8 137.8L303.3 138.9L303.8 139.6M353.8 140.5L354.3 139.3L354.8 137.6L356.3 130.8L356.8 129.3L357.3 128.8M358.3 128.8L358.8 129.2L359.3 130.5L360.8 137.5L361.3 139.3L361.8 140.6" fill="none" stroke="#1a1a1a" stroke-width="1.15"/>
<path d="M72.7 153.8L72.7 134.8L80.7 136.2L89.2 137.0L91.7 137.2L96.2 137.2L104.7 138.2L110.7 138.2L119.2 138.9L128.2 139.1L132.7 139.7L143.7 139.5L155.2 140.4L160.2 140.6L163.7 140.6L168.7 140.4L175.7 140.7L179.7 140.6L184.2 140.9L189.2 141.0L193.7 141.3L203.2 141.5L206.2 141.7L209.2 141.6L213.7 141.9L219.7 141.8L226.2 142.3L231.7 142.1L239.2 142.6L245.2 142.6L250.2 142.4L257.2 143.0L265.2 142.9L269.7 143.4L273.7 143.1L278.7 143.3L283.7 143.1L289.2 143.1L291.2 142.9L293.7 142.2L294.7 141.6L295.2 141.1L295.7 140.3L296.2 138.9L296.7 136.3L297.2 132.0L297.7 125.6L299.2 99.7L299.7 97.0L300.2 101.2L301.7 127.3L302.2 133.2L302.7 137.0L303.2 139.3L303.7 140.6L304.2 141.4L305.2 142.2L307.2 143.0L309.7 143.5L311.7 143.7L316.7 143.8L320.2 144.2L324.2 144.1L327.7 144.4L331.2 144.3L341.2 144.6L345.7 144.4L349.2 144.4L352.2 144.1L353.2 143.7L353.7 143.3L354.2 142.6L354.7 141.5L355.2 139.9L356.7 132.7L357.2 130.9L357.7 130.1L358.2 130.0L358.7 130.0L359.2 130.3L359.7 131.4L361.7 140.5L362.2 142.0L362.7 143.0L363.2 143.6L364.2 144.2L368.2 144.8L370.2 145.0L374.7 145.0L384.2 145.5L388.2 145.3L393.7 145.6L399.2 145.3L417.2 146.0L422.2 145.5L427.2 146.2L433.2 146.0L439.2 146.2L443.2 146.0L453.7 146.4L461.7 146.3L473.7 146.6L477.2 146.9L477.3 153.8Z"/>
<path d="M295.2 141.1L295.7 140.3L296.2 138.9L296.7 136.3L297.2 132.0L297.7 125.6L299.2 99.7L299.7 97.0L300.2 101.2L301.7 127.3L302.2 133.2L302.7 137.0L303.2 139.3L303.7 140.6L304.2 141.4M354.2 142.6L354.7 141.5L355.2 139.9L356.7 132.7L357.2 130.9L357.7 130.1M358.7 130.0L359.2 130.3L359.7 131.4L361.7 140.5L362.2 142.0L362.7 143.0" fill="none" stroke="#1a1a1a" stroke-width="1.15"/>
<path d="M73.2 155.7L73.2 137.2L81.2 138.1L85.7 138.9L92.7 139.5L98.2 139.6L103.2 140.2L106.7 140.2L110.7 140.5L114.7 140.5L119.2 140.9L122.7 141.0L127.2 141.3L131.2 141.4L138.7 142.0L151.2 141.7L159.2 142.5L165.7 142.4L178.2 142.7L183.7 143.4L188.2 143.2L193.7 143.6L198.7 143.4L202.2 143.3L207.2 143.8L211.2 143.9L220.7 143.9L228.2 144.3L239.7 144.3L246.7 145.0L256.2 144.5L264.7 145.0L269.2 145.0L273.7 145.3L279.7 145.1L283.7 145.5L285.2 145.4L288.2 144.9L291.2 144.7L292.7 144.5L293.7 144.2L294.7 143.7L295.7 142.7L296.2 141.9L296.7 140.4L297.2 137.9L297.7 133.6L298.2 126.8L299.7 96.5L300.2 91.4L300.7 94.1L302.2 124.2L302.7 131.8L303.2 136.8L303.7 139.9L304.2 141.7L304.7 142.7L305.7 143.7L306.7 144.3L307.7 144.6L310.7 145.4L316.2 145.9L319.2 146.0L325.2 145.9L334.2 146.6L342.2 146.5L349.2 146.7L350.7 146.6L352.2 146.3L353.2 145.9L354.2 145.1L354.7 144.4L355.2 143.3L356.2 139.2L357.7 131.1L358.2 129.8L358.7 129.4L359.2 129.4L359.7 129.6L360.2 130.5L360.7 132.5L362.2 141.0L362.7 142.9L363.2 144.3L363.7 145.1L364.2 145.7L365.2 146.2L366.2 146.5L373.2 147.1L381.7 147.1L389.2 147.6L395.2 147.7L399.2 147.5L404.2 147.7L409.2 147.6L413.7 147.9L419.7 147.7L423.2 147.8L427.2 148.2L432.7 148.0L441.7 148.4L449.2 148.0L456.2 148.5L464.7 148.3L469.7 148.7L474.7 148.8L477.7 148.7L477.8 155.7Z"/>
<path d="M295.2 143.3L295.7 142.7L296.2 141.9L296.7 140.4L297.2 137.9L297.7 133.6L298.2 126.8L299.7 96.5L300.2 91.4L300.7 94.1L302.2 124.2L302.7 131.8L303.2 136.8L303.7 139.9L304.2 141.7L304.7 142.7L305.2 143.3M354.7 144.4L355.2 143.3L355.7 141.6L357.7 131.1L358.2 129.8L358.7 129.4L359.2 129.4L359.7 129.6L360.2 130.5L360.7 132.5L362.2 141.0L362.7 142.9L363.2 144.3" fill="none" stroke="#1a1a1a" stroke-width="1.15"/>
<path d="M73.7 157.7L73.7 138.8L79.2 139.8L91.2 141.1L95.7 141.3L100.7 141.9L109.2 142.0L118.7 143.0L122.7 142.9L126.7 143.2L131.2 143.2L135.2 143.5L145.7 143.5L152.2 143.7L156.7 144.1L163.2 144.3L169.7 144.2L171.7 144.3L174.7 144.8L176.2 145.0L181.2 144.7L186.7 145.1L197.2 145.2L202.2 145.5L207.7 145.4L216.7 145.9L224.7 145.8L229.7 146.2L236.2 146.3L243.7 146.7L251.2 146.5L262.7 147.2L267.2 147.1L272.7 147.4L280.2 146.9L284.7 147.4L286.2 147.4L288.7 147.3L290.7 147.0L293.7 146.3L294.7 145.9L295.7 145.3L296.7 144.2L297.2 143.0L297.7 141.0L298.2 137.5L298.7 131.9L300.2 103.6L300.7 96.9L301.2 97.2L301.7 104.3L303.2 132.4L303.7 137.9L304.2 141.3L304.7 143.2L305.2 144.4L305.7 145.1L306.7 145.9L308.2 146.6L313.7 147.7L316.2 148.1L317.7 148.1L321.2 148.0L326.2 148.4L331.2 148.2L339.2 148.5L346.7 148.4L353.7 147.7L354.7 147.2L355.2 146.7L355.7 145.8L356.2 144.5L356.7 142.5L358.2 134.8L358.7 133.2L359.2 132.7L359.7 132.6L360.2 132.6L360.7 133.2L361.2 134.7L362.7 142.5L363.2 144.4L363.7 145.9L364.2 146.8L364.7 147.4L365.2 147.7L366.2 148.1L367.7 148.4L371.2 148.8L376.2 148.7L383.2 149.3L388.2 149.4L392.7 149.3L398.2 149.7L404.2 149.3L415.7 149.9L423.2 150.0L428.2 149.9L433.7 150.2L439.2 149.9L445.2 150.4L450.7 150.0L455.7 150.5L458.2 150.6L467.2 150.3L473.7 150.3L478.2 150.5L478.3 157.7Z"/>
<path d="M296.2 144.9L296.7 144.2L297.2 143.0L297.7 141.0L298.2 137.5L298.7 131.9L299.2 123.8L300.2 103.6L300.7 96.9L301.2 97.2L301.7 104.3L302.7 124.5L303.2 132.4L303.7 137.9L304.2 141.3L304.7 143.2L305.2 144.4L305.7 145.1M355.7 145.8L356.2 144.5L356.7 142.5L358.2 134.8L358.7 133.2L359.2 132.7M360.2 132.6L360.7 133.2L361.2 134.7L362.7 142.5L363.2 144.4L363.7 145.9L364.2 146.8" fill="none" stroke="#1a1a1a" stroke-width="1.15"/>
<path d="M74.1 159.6L74.1 141.0L81.6 142.1L85.1 142.2L90.1 142.6L95.6 143.5L100.6 143.8L104.1 144.2L110.1 144.6L117.6 144.7L122.6 145.0L129.6 145.1L133.6 145.4L139.1 145.2L148.1 145.9L153.6 145.8L156.6 146.0L161.1 146.0L167.1 146.5L171.6 146.5L175.1 146.8L179.1 146.7L186.6 147.2L190.6 147.1L195.1 147.3L203.1 147.3L208.6 147.6L214.1 147.6L217.6 147.8L222.1 147.6L230.1 148.3L236.1 148.1L240.6 148.5L248.1 148.4L255.1 148.8L260.6 148.8L265.1 149.2L273.1 149.0L279.6 149.5L289.1 149.1L293.6 148.6L294.6 148.3L295.6 147.9L296.6 147.1L297.1 146.4L297.6 145.3L298.1 143.4L298.6 140.1L299.1 134.7L299.6 126.7L301.1 96.2L301.6 94.2L302.1 100.1L303.6 131.2L304.1 137.8L304.6 142.0L305.1 144.5L305.6 145.9L306.1 146.8L306.6 147.3L307.6 148.0L309.6 148.8L311.1 149.2L312.6 149.4L322.1 149.9L329.1 149.8L336.6 150.6L341.6 150.4L346.1 150.5L354.1 149.9L355.1 149.5L355.6 149.0L356.1 148.2L356.6 146.9L357.1 145.1L358.6 137.2L359.1 135.3L359.6 134.4L360.1 134.3L360.6 134.3L361.1 134.6L361.6 135.8L363.6 145.7L364.1 147.3L364.6 148.4L365.1 149.1L366.1 149.8L367.1 150.2L368.6 150.5L374.6 151.2L378.6 151.0L385.6 151.1L389.6 151.1L403.6 151.5L407.6 151.4L411.1 151.6L416.1 151.7L420.6 151.5L426.1 152.0L440.1 151.8L446.6 152.3L452.6 152.4L454.6 152.4L459.1 152.0L469.6 152.6L474.6 152.3L478.6 152.4L478.7 159.6Z"/>
<path d="M296.6 147.1L297.1 146.4L297.6 145.3L298.1 143.4L298.6 140.1L299.1 134.7L299.6 126.7L300.6 105.0L301.1 96.2L301.6 94.2L302.1 100.1L303.1 121.8L303.6 131.2L304.1 137.8L304.6 142.0L305.1 144.5L305.6 145.9L306.1 146.8L306.6 147.3M356.1 148.2L356.6 146.9L357.1 145.1L358.6 137.2L359.1 135.3L359.6 134.4L360.1 134.3L360.6 134.3L361.1 134.6L361.6 135.8L363.6 145.7L364.1 147.3L364.6 148.4" fill="none" stroke="#1a1a1a" stroke-width="1.15"/>
<path d="M74.6 161.6L74.6 142.6L79.1 143.0L84.6 144.0L88.1 144.3L92.1 144.5L95.6 144.9L98.6 145.1L102.6 145.7L107.6 145.8L112.6 146.3L116.1 146.2L120.6 146.5L124.6 146.5L129.6 146.9L135.6 146.5L140.1 146.9L148.6 148.0L155.1 147.7L158.6 147.8L162.1 147.7L171.6 148.5L180.1 148.2L185.6 148.5L189.6 148.5L195.1 148.9L203.1 148.9L207.6 149.2L211.1 149.2L217.6 149.8L222.6 149.9L228.1 149.6L243.6 150.4L252.1 150.5L257.6 150.4L262.1 150.7L266.1 150.6L271.1 151.1L277.1 150.6L282.1 151.0L285.6 151.0L291.1 150.8L293.1 150.5L294.6 150.1L296.1 149.5L297.1 148.7L297.6 148.1L298.1 147.2L298.6 145.6L299.1 142.8L299.6 138.2L300.1 131.0L301.6 100.2L302.1 95.8L302.6 99.6L304.1 130.5L304.6 137.9L305.1 142.8L305.6 145.7L306.1 147.4L306.6 148.3L307.1 148.9L308.1 149.7L310.6 150.7L313.1 151.3L315.6 151.6L323.1 151.6L328.6 152.0L338.1 151.9L343.1 152.4L349.6 152.2L353.1 151.9L354.6 151.6L355.6 151.2L356.1 150.8L356.6 150.1L357.1 149.1L358.1 145.5L359.6 138.3L360.1 137.2L360.6 136.9L361.1 136.9L361.6 137.1L362.1 138.0L362.6 139.8L364.1 147.3L364.6 149.0L365.1 150.2L365.6 150.9L366.6 151.7L367.6 152.0L369.1 152.3L372.6 152.6L380.6 152.8L390.1 153.2L400.6 153.4L406.6 153.3L426.1 153.8L431.6 153.6L441.6 153.8L446.6 153.7L452.6 153.9L456.1 154.2L460.6 154.4L466.6 153.9L472.1 154.2L479.1 154.3L479.2 161.6Z"/>
<path d="M297.1 148.7L297.6 148.1L298.1 147.2L298.6 145.6L299.1 142.8L299.6 138.2L300.1 131.0L301.6 100.2L302.1 95.8L302.6 99.6L304.1 130.5L304.6 137.9L305.1 142.8L305.6 145.7L306.1 147.4L306.6 148.3L307.1 148.9M356.6 150.1L357.1 149.1L357.6 147.6L359.6 138.3L360.1 137.2L360.6 136.9L361.1 136.9L361.6 137.1L362.1 138.0L362.6 139.8L364.1 147.3L364.6 149.0L365.1 150.2" fill="none" stroke="#1a1a1a" stroke-width="1.15"/>
<path d="M75.0 163.5L75.0 144.5L77.5 144.7L82.5 146.2L84.5 146.5L90.0 146.6L94.0 147.1L100.0 147.6L104.5 147.7L109.5 148.4L116.5 148.7L121.0 148.6L126.5 148.9L131.5 149.2L138.0 149.2L150.0 150.0L155.0 149.7L157.0 149.8L165.5 150.7L170.5 150.5L174.5 150.6L179.0 150.6L183.0 150.8L188.0 150.7L193.0 151.1L197.5 150.9L205.0 151.4L212.0 151.4L217.5 151.7L223.0 151.6L233.5 152.4L237.0 152.3L241.0 152.5L248.5 152.4L252.5 152.6L256.0 152.5L261.0 153.0L272.0 153.0L277.0 153.3L282.0 152.9L286.5 153.1L292.5 152.7L294.5 152.5L296.5 151.8L297.5 151.1L298.0 150.5L298.5 149.7L299.0 148.2L299.5 145.7L300.0 141.4L300.5 134.6L302.0 101.8L302.5 95.0L303.0 96.4L303.5 105.3L304.5 128.4L305.0 137.2L305.5 143.2L306.0 146.8L306.5 149.0L307.0 150.3L308.0 151.6L309.5 152.4L311.5 152.9L316.0 153.6L321.5 153.9L328.5 153.9L333.0 154.2L336.5 154.0L340.0 154.2L348.0 154.2L351.5 154.3L353.0 154.2L354.5 154.0L355.5 153.7L356.5 153.0L357.0 152.4L357.5 151.5L358.0 150.0L358.5 148.0L360.0 140.1L360.5 138.6L361.0 138.1L361.5 138.0L362.0 138.1L362.5 138.7L363.0 140.4L364.5 148.4L365.0 150.4L365.5 151.8L366.0 152.7L366.5 153.2L367.0 153.6L369.0 154.1L375.0 154.8L382.5 155.1L389.0 155.2L393.0 155.1L397.0 155.4L402.5 155.5L407.0 155.5L414.0 155.8L422.5 155.5L429.5 156.0L434.0 155.7L437.5 155.9L452.5 156.4L458.0 156.1L471.0 156.4L477.0 156.1L479.5 156.2L479.6 163.5Z"/>
<path d="M297.5 151.1L298.0 150.5L298.5 149.7L299.0 148.2L299.5 145.7L300.0 141.4L300.5 134.6L302.0 101.8L302.5 95.0L303.0 96.4L303.5 105.3L304.5 128.4L305.0 137.2L305.5 143.2L306.0 146.8L306.5 149.0L307.0 150.3L307.5 151.0M357.0 152.4L357.5 151.5L358.0 150.0L358.5 148.0L360.0 140.1L360.5 138.6L361.0 138.1M362.0 138.1L362.5 138.7L363.0 140.4L364.5 148.4L365.0 150.4L365.5 151.8" fill="none" stroke="#1a1a1a" stroke-width="1.15"/>
<path d="M75.5 165.4L75.5 146.8L81.0 147.7L85.5 147.9L92.0 148.8L97.0 149.1L106.5 150.0L115.5 150.4L119.5 150.6L122.5 150.6L126.0 150.8L130.5 150.8L138.0 151.3L142.5 151.8L164.5 152.1L169.0 152.5L183.0 152.9L186.5 152.9L199.0 153.4L203.0 153.2L207.5 153.3L213.0 153.8L217.0 153.7L224.0 153.9L232.0 154.3L239.0 153.9L244.5 154.4L249.0 154.2L252.5 154.4L258.0 154.4L263.5 154.7L276.0 154.8L280.0 155.1L283.5 154.9L288.0 155.1L293.0 154.7L295.5 154.4L297.0 154.0L298.0 153.4L298.5 152.9L299.0 152.2L299.5 151.1L300.0 149.1L300.5 145.7L301.0 140.1L303.0 102.2L303.5 101.1L304.0 107.7L305.5 138.2L306.0 144.4L306.5 148.4L307.0 150.7L307.5 152.0L308.0 152.8L309.0 153.6L311.0 154.5L313.5 155.2L316.0 155.6L321.0 155.8L325.0 156.2L330.0 156.0L334.0 156.2L343.5 156.3L349.5 156.1L354.5 155.7L356.0 155.5L357.0 155.0L357.5 154.5L358.0 153.7L358.5 152.4L359.0 150.5L360.5 142.2L361.0 140.3L361.5 139.5L362.0 139.4L362.5 139.4L363.0 139.8L363.5 141.1L365.5 151.4L366.0 153.1L366.5 154.1L367.0 154.8L368.0 155.6L369.5 156.1L372.0 156.6L374.0 156.8L379.0 156.9L384.5 156.8L388.0 157.1L391.5 157.1L394.5 157.3L404.5 157.1L407.0 157.2L411.5 157.7L416.0 157.5L425.5 157.7L429.0 157.6L434.0 158.0L442.0 157.9L450.0 158.1L460.0 157.9L471.0 158.3L475.0 158.2L480.0 158.4L480.1 165.4Z"/>
<path d="M298.5 152.9L299.0 152.2L299.5 151.1L300.0 149.1L300.5 145.7L301.0 140.1L301.5 131.9L302.5 110.3L303.0 102.2L303.5 101.1L304.0 107.7L305.0 129.3L305.5 138.2L306.0 144.4L306.5 148.4L307.0 150.7L307.5 152.0L308.0 152.8M358.0 153.7L358.5 152.4L359.0 150.5L360.5 142.2L361.0 140.3L361.5 139.5M362.5 139.4L363.0 139.8L363.5 141.1L365.0 149.2L365.5 151.4L366.0 153.1L366.5 154.1" fill="none" stroke="#1a1a1a" stroke-width="1.15"/>
<path d="M75.9 167.4L75.9 148.8L77.9 149.1L81.9 149.4L86.4 150.2L91.4 150.9L99.4 151.3L102.9 151.4L108.4 151.6L114.9 152.6L118.9 152.5L123.9 152.9L129.4 152.7L134.4 153.1L139.9 153.3L144.4 153.8L149.9 153.4L160.9 154.1L164.9 154.0L168.4 154.3L175.4 154.5L180.4 154.3L183.9 154.5L188.4 154.5L194.9 155.2L199.4 155.2L206.9 155.5L217.4 155.5L224.9 156.0L232.9 155.7L234.4 155.8L237.9 156.2L245.4 156.1L248.9 156.3L256.4 156.3L267.4 156.9L271.4 156.8L276.9 157.0L280.9 156.9L284.9 157.1L288.4 157.0L291.9 157.1L293.9 156.9L296.4 156.1L298.4 155.1L299.4 154.1L299.9 153.2L300.4 151.5L300.9 148.7L301.4 143.9L301.9 136.5L303.4 106.3L303.9 102.9L304.4 107.5L305.9 137.8L306.4 144.8L306.9 149.2L307.4 151.9L307.9 153.4L308.4 154.3L309.4 155.3L311.4 156.2L314.4 156.9L317.4 157.5L319.9 157.7L323.9 157.8L327.4 158.1L332.4 157.9L335.9 158.1L339.4 158.1L343.4 158.3L348.9 158.2L352.9 158.5L354.4 158.4L355.9 158.1L356.9 157.7L357.9 157.0L358.4 156.3L358.9 155.1L359.9 151.1L360.9 145.7L361.4 143.5L361.9 142.5L362.4 142.2L362.9 142.3L363.4 142.5L363.9 143.5L364.4 145.5L365.9 153.3L366.4 155.0L366.9 156.2L367.4 157.0L368.4 157.7L369.4 158.1L370.9 158.4L375.9 158.7L379.9 158.7L392.9 159.2L400.4 159.1L406.9 159.4L413.9 159.3L418.9 159.6L423.4 159.5L428.9 159.6L436.9 160.0L446.9 159.5L453.9 160.1L458.4 159.9L463.9 160.2L469.4 159.9L480.4 160.4L480.5 167.4Z"/>
<path d="M298.9 154.7L299.4 154.1L299.9 153.2L300.4 151.5L300.9 148.7L301.4 143.9L301.9 136.5L303.4 106.3L303.9 102.9L304.4 107.5L305.9 137.8L306.4 144.8L306.9 149.2L307.4 151.9L307.9 153.4L308.4 154.3L308.9 154.9M358.4 156.3L358.9 155.1L359.4 153.4L360.9 145.7L361.4 143.5L361.9 142.5L362.4 142.2L362.9 142.3L363.4 142.5L363.9 143.5L364.4 145.5L365.9 153.3L366.4 155.0L366.9 156.2" fill="none" stroke="#1a1a1a" stroke-width="1.15"/>
<path d="M76.4 169.3L76.4 150.5L83.4 151.6L87.4 151.9L92.9 152.6L98.9 152.9L102.9 153.4L107.4 153.6L112.9 154.0L116.9 154.0L126.4 154.7L139.9 155.0L145.4 155.4L153.4 155.4L158.4 155.8L164.4 155.8L169.9 156.3L175.9 156.3L179.4 156.5L183.4 156.4L188.9 156.7L196.4 156.9L202.4 156.7L209.4 157.4L219.9 157.4L225.9 157.9L230.4 157.9L240.9 158.1L244.9 158.4L248.4 158.2L253.4 158.3L256.9 158.6L268.9 158.5L275.4 158.8L284.4 159.0L288.9 158.9L295.4 158.5L296.9 158.3L297.9 158.0L298.9 157.5L299.9 156.5L300.4 155.6L300.9 154.2L301.4 151.6L301.9 147.2L302.4 140.4L303.9 109.2L304.4 103.5L304.9 105.8L306.4 136.7L306.9 144.7L307.4 150.0L307.9 153.3L308.4 155.2L308.9 156.2L309.4 156.9L310.4 157.7L312.4 158.5L315.4 159.3L318.4 159.6L330.4 159.5L335.4 159.9L340.4 159.9L345.4 160.1L352.9 160.1L355.4 159.9L356.9 159.6L357.9 159.2L358.4 158.8L358.9 158.2L359.4 157.2L359.9 155.6L360.4 153.5L361.9 145.3L362.4 143.9L362.9 143.4L363.4 143.3L363.9 143.5L364.4 144.1L364.9 145.9L366.4 154.1L366.9 156.1L367.4 157.6L367.9 158.5L368.9 159.4L369.9 159.9L371.4 160.2L379.9 161.0L384.4 160.8L390.9 161.1L398.9 161.0L402.4 161.2L416.4 161.2L421.4 161.6L428.4 161.4L430.9 161.4L434.4 161.8L438.4 161.6L444.4 161.8L448.9 161.6L456.4 162.1L460.9 162.0L466.4 162.1L470.9 161.9L474.9 162.2L480.9 162.2L481.0 169.3Z"/>
<path d="M299.9 156.5L300.4 155.6L300.9 154.2L301.4 151.6L301.9 147.2L302.4 140.4L302.9 131.0L303.9 109.2L304.4 103.5L304.9 105.8L305.4 114.9L306.4 136.7L306.9 144.7L307.4 150.0L307.9 153.3L308.4 155.2L308.9 156.2L309.4 156.9M358.9 158.2L359.4 157.2L359.9 155.6L360.4 153.5L361.9 145.3L362.4 143.9L362.9 143.4M363.9 143.5L364.4 144.1L364.9 145.9L366.4 154.1L366.9 156.1L367.4 157.6L367.9 158.5" fill="none" stroke="#1a1a1a" stroke-width="1.15"/>
<path d="M76.9 171.3L76.9 152.6L79.9 153.2L86.4 154.0L91.4 154.3L97.9 155.0L100.9 155.4L106.4 155.5L110.4 155.8L114.4 155.7L121.4 156.6L127.4 156.5L135.4 157.3L140.4 157.2L146.9 157.5L156.4 157.6L160.9 158.1L165.9 157.7L172.9 158.4L183.4 158.6L192.9 159.0L196.4 158.9L203.9 159.0L206.9 158.9L212.4 159.2L217.9 159.2L223.4 159.6L226.9 159.6L230.4 159.9L236.9 159.9L243.4 160.2L248.4 160.0L252.9 160.2L258.4 160.6L271.4 160.6L278.9 161.0L283.4 160.7L291.4 160.9L297.4 160.1L299.4 159.4L300.4 158.7L300.9 158.0L301.4 156.8L301.9 154.7L302.4 151.0L302.9 145.2L304.4 115.3L304.9 108.0L305.4 107.9L305.9 115.1L307.4 144.8L307.9 150.7L308.4 154.4L308.9 156.5L309.4 157.7L309.9 158.5L310.4 159.1L311.4 159.8L313.4 160.7L315.4 161.1L322.4 161.8L334.4 161.6L335.9 161.6L339.9 162.2L345.4 162.0L349.9 162.4L355.4 162.1L356.9 161.9L357.9 161.5L358.9 160.8L359.4 160.2L359.9 159.3L360.4 157.9L360.9 155.9L362.4 147.9L362.9 146.1L363.4 145.5L363.9 145.4L364.4 145.5L364.9 146.0L365.4 147.4L366.9 155.6L367.4 157.8L367.9 159.4L368.4 160.4L368.9 161.0L369.9 161.6L371.4 161.9L379.4 162.6L383.4 162.5L386.4 162.7L391.9 162.9L396.9 162.7L401.9 162.8L406.9 163.2L417.9 163.1L423.4 163.5L429.4 163.6L433.4 163.8L443.9 163.7L451.9 163.8L458.4 164.1L465.9 163.8L471.4 164.1L476.9 163.8L481.4 164.1L481.5 171.3Z"/>
<path d="M300.4 158.7L300.9 158.0L301.4 156.8L301.9 154.7L302.4 151.0L302.9 145.2L303.4 136.8L304.4 115.3L304.9 108.0L305.4 107.9L305.9 115.1L306.9 136.4L307.4 144.8L307.9 150.7L308.4 154.4L308.9 156.5L309.4 157.7L309.9 158.5M359.4 160.2L359.9 159.3L360.4 157.9L360.9 155.9L362.4 147.9L362.9 146.1L363.4 145.5M364.4 145.5L364.9 146.0L365.4 147.4L366.9 155.6L367.4 157.8L367.9 159.4L368.4 160.4" fill="none" stroke="#1a1a1a" stroke-width="1.15"/>
<path d="M77.3 173.2L77.3 154.2L79.8 154.5L83.8 155.4L87.8 155.9L100.8 157.1L115.8 157.9L121.8 158.4L127.8 158.2L133.3 158.8L137.8 158.9L141.8 159.2L151.3 159.2L160.3 159.7L167.8 160.0L179.3 160.1L186.8 160.5L190.8 160.3L194.8 160.7L200.8 160.7L205.3 161.1L210.3 161.0L214.3 161.3L218.3 161.2L222.3 161.5L227.3 161.5L238.8 161.8L243.8 162.0L247.8 162.0L252.8 162.5L259.8 162.2L267.8 162.5L281.3 162.7L285.8 163.0L293.8 162.8L296.3 162.5L299.3 161.7L300.3 161.1L300.8 160.6L301.3 160.0L301.8 158.9L302.3 157.1L302.8 153.9L303.3 148.6L303.8 140.7L305.3 109.6L305.8 107.0L306.3 112.6L307.8 144.1L308.3 151.0L308.8 155.4L309.3 158.0L309.8 159.5L310.3 160.3L311.3 161.4L312.3 162.0L313.3 162.4L314.8 162.8L317.3 163.1L329.8 164.0L336.3 164.1L339.8 163.9L344.3 163.8L349.3 164.1L355.8 163.7L357.3 163.5L358.3 163.2L359.3 162.7L359.8 162.2L360.3 161.3L360.8 160.0L361.8 155.4L362.8 149.0L363.3 146.7L363.8 145.5L364.3 145.3L364.8 145.3L365.3 145.6L365.8 146.8L367.8 158.3L368.3 160.3L368.8 161.6L369.3 162.4L370.3 163.1L371.8 163.6L374.3 164.2L376.3 164.5L380.3 164.6L389.8 164.5L396.8 164.6L405.8 165.4L412.8 165.3L418.3 165.7L426.3 165.5L433.8 165.6L438.8 165.3L443.8 165.7L451.3 165.5L462.3 166.1L466.3 166.0L470.8 166.1L475.3 165.9L481.8 166.2L481.9 173.2Z"/>
<path d="M300.8 160.6L301.3 160.0L301.8 158.9L302.3 157.1L302.8 153.9L303.3 148.6L303.8 140.7L305.3 109.6L305.8 107.0L306.3 112.6L307.3 134.6L307.8 144.1L308.3 151.0L308.8 155.4L309.3 158.0L309.8 159.5L310.3 160.3L310.8 160.9M359.8 162.2L360.3 161.3L360.8 160.0L361.3 158.0L362.8 149.0L363.3 146.7L363.8 145.5L364.3 145.3L364.8 145.3L365.3 145.6L365.8 146.8L366.3 149.3L367.8 158.3L368.3 160.3L368.8 161.6" fill="none" stroke="#1a1a1a" stroke-width="1.15"/>
<path d="M77.8 175.2L77.8 156.7L80.3 157.1L85.8 157.7L90.8 158.4L103.3 159.3L108.8 159.3L114.8 160.0L119.8 160.1L130.8 160.7L137.8 161.2L144.3 161.1L150.8 161.7L156.8 161.8L163.8 161.7L170.3 162.3L172.8 162.4L176.8 162.2L180.3 162.4L183.8 162.3L188.3 162.8L191.8 162.7L195.8 163.0L202.8 162.8L209.8 163.3L217.3 163.4L222.3 163.8L227.3 163.5L231.8 164.0L235.3 163.7L240.3 163.9L245.3 163.7L252.3 164.4L254.8 164.6L266.8 164.6L271.3 164.4L276.3 164.9L279.3 164.8L282.8 164.9L286.8 164.7L294.8 164.7L297.8 164.4L299.3 164.0L300.3 163.5L301.3 162.8L301.8 162.2L302.3 161.3L302.8 159.8L303.3 157.2L303.8 152.7L304.3 145.7L305.8 115.2L306.3 110.5L306.8 113.9L308.3 144.3L308.8 151.8L309.3 156.7L309.8 159.6L310.3 161.3L310.8 162.2L311.3 162.8L312.3 163.6L315.3 164.8L316.8 165.2L318.3 165.5L322.8 165.8L331.3 165.8L335.8 165.9L340.8 165.7L351.8 166.1L356.3 166.0L358.8 165.7L359.8 165.3L360.3 165.0L360.8 164.4L361.3 163.4L362.3 159.8L363.8 152.0L364.3 150.7L364.8 150.3L365.3 150.2L365.8 150.3L366.3 151.1L366.8 152.8L368.3 160.7L368.8 162.5L369.3 163.8L369.8 164.7L370.8 165.5L371.8 165.8L373.8 166.2L379.8 166.7L383.8 166.7L387.3 166.9L390.3 166.8L394.3 167.1L400.8 166.9L410.8 167.6L415.8 167.2L417.8 167.2L427.3 167.9L431.8 167.7L436.3 167.8L440.3 167.7L445.3 168.0L451.3 167.7L455.3 167.9L460.8 167.8L465.8 168.1L474.8 167.9L482.3 168.2L482.4 175.2Z"/>
<path d="M301.8 162.2L302.3 161.3L302.8 159.8L303.3 157.2L303.8 152.7L304.3 145.7L305.8 115.2L306.3 110.5L306.8 113.9L308.3 144.3L308.8 151.8L309.3 156.7L309.8 159.6L310.3 161.3L310.8 162.2L311.3 162.8M361.3 163.4L361.8 161.9L362.3 159.8L363.8 152.0L364.3 150.7L364.8 150.3M365.8 150.3L366.3 151.1L366.8 152.8L368.3 160.7L368.8 162.5L369.3 163.8" fill="none" stroke="#1a1a1a" stroke-width="1.15"/>
<path d="M78.2 177.1L78.2 158.4L85.7 159.8L87.2 159.9L90.7 159.9L95.7 160.5L99.7 160.9L108.2 161.4L115.2 161.6L125.7 162.4L131.7 162.3L135.7 162.8L139.7 162.8L144.7 163.2L150.2 163.4L157.2 163.3L165.7 163.9L169.2 163.8L173.2 164.2L183.2 164.5L187.7 164.5L191.2 164.4L195.7 164.7L199.7 164.5L205.7 164.9L214.2 165.1L218.7 165.4L225.7 165.4L229.2 165.6L233.2 166.0L237.7 165.7L244.2 165.7L254.7 166.7L261.2 166.5L265.7 166.6L275.7 166.4L280.2 166.7L289.7 166.7L293.2 166.5L299.2 165.9L300.2 165.7L301.2 165.2L302.2 164.3L302.7 163.5L303.2 162.1L303.7 159.7L304.2 155.7L304.7 149.2L306.2 117.5L306.7 110.5L307.2 111.4L309.2 151.0L309.7 156.9L310.2 160.6L310.7 162.7L311.2 163.9L311.7 164.6L312.2 165.2L313.2 165.9L315.2 166.8L316.7 167.2L318.2 167.3L322.7 167.2L327.2 167.4L332.2 167.9L334.7 168.1L339.2 167.9L343.7 168.1L348.2 168.0L358.2 167.5L359.7 167.3L360.7 166.8L361.2 166.3L361.7 165.5L362.2 164.2L362.7 162.4L364.2 155.2L364.7 153.7L365.2 153.1L365.7 153.0L366.2 153.1L366.7 153.6L367.2 155.0L368.7 162.3L369.2 164.2L369.7 165.6L370.2 166.4L370.7 167.0L371.7 167.5L376.7 168.3L379.2 168.5L393.2 168.7L398.7 168.9L403.7 168.9L408.2 169.3L420.7 169.2L424.7 169.3L427.7 169.3L437.2 169.7L449.7 169.7L453.7 170.0L457.7 169.7L461.7 169.9L466.7 169.8L470.7 169.9L474.7 169.7L479.7 170.1L482.7 170.1L482.8 177.1Z"/>
<path d="M302.2 164.3L302.7 163.5L303.2 162.1L303.7 159.7L304.2 155.7L304.7 149.2L305.2 140.0L306.2 117.5L306.7 110.5L307.2 111.4L307.7 119.8L308.7 142.4L309.2 151.0L309.7 156.9L310.2 160.6L310.7 162.7L311.2 163.9L311.7 164.6M361.7 165.5L362.2 164.2L362.7 162.4L364.2 155.2L364.7 153.7L365.2 153.1M366.2 153.1L366.7 153.6L367.2 155.0L368.7 162.3L369.2 164.2L369.7 165.6" fill="none" stroke="#1a1a1a" stroke-width="1.15"/>
<path d="M78.7 179.1L78.7 160.2L83.2 160.8L87.2 161.6L92.7 162.2L98.7 162.3L104.2 163.0L112.7 163.2L120.7 164.0L130.2 164.2L136.2 164.6L142.2 164.6L146.7 165.1L151.2 165.0L155.2 165.2L158.7 165.2L163.2 165.7L168.2 165.7L173.7 166.1L180.2 166.0L185.2 166.4L189.2 166.2L193.2 166.4L199.2 166.3L205.7 166.8L215.2 166.8L223.2 167.3L230.7 167.2L241.7 168.0L244.7 168.0L248.7 167.6L250.7 167.6L255.2 167.7L262.2 168.2L270.2 168.2L275.2 168.6L279.7 168.6L283.7 168.9L289.2 168.5L296.2 168.4L298.7 168.2L300.2 167.8L301.2 167.4L302.2 166.7L302.7 166.2L303.2 165.5L303.7 164.3L304.2 162.3L304.7 158.9L305.2 153.2L307.2 114.0L307.7 112.5L308.2 119.0L309.7 150.7L310.2 157.3L310.7 161.5L311.2 163.9L311.7 165.4L312.2 166.2L313.2 167.2L314.2 167.8L315.2 168.2L317.7 168.7L324.2 169.4L328.2 169.4L338.7 169.7L343.7 169.5L347.7 169.8L351.2 169.6L358.2 169.6L360.2 169.3L361.2 168.9L361.7 168.4L362.2 167.6L362.7 166.3L363.2 164.5L364.7 156.1L365.2 154.0L365.7 153.0L366.2 152.8L366.7 152.8L367.2 153.1L367.7 154.2L369.7 164.8L370.2 166.5L370.7 167.7L371.2 168.5L372.2 169.2L373.2 169.6L374.7 169.9L376.7 170.1L380.7 170.2L384.7 170.5L393.2 170.6L402.2 170.6L406.7 171.0L410.7 170.8L416.2 171.1L423.7 170.8L433.7 171.6L442.2 171.4L452.7 171.6L456.7 171.4L461.2 171.7L465.7 171.6L469.7 171.9L474.2 171.7L483.2 172.0L483.3 179.1Z"/>
<path d="M302.7 166.2L303.2 165.5L303.7 164.3L304.2 162.3L304.7 158.9L305.2 153.2L305.7 144.9L306.7 122.7L307.2 114.0L307.7 112.5L308.2 119.0L309.2 141.3L309.7 150.7L310.2 157.3L310.7 161.5L311.2 163.9L311.7 165.4L312.2 166.2L312.7 166.8M362.2 167.6L362.7 166.3L363.2 164.5L364.7 156.1L365.2 154.0L365.7 153.0L366.2 152.8L366.7 152.8L367.2 153.1L367.7 154.2L368.2 156.5L369.2 162.4L369.7 164.8L370.2 166.5L370.7 167.7" fill="none" stroke="#1a1a1a" stroke-width="1.15"/>
<path d="M79.1 181.0L79.1 162.3L90.6 163.4L102.1 164.9L111.6 165.2L121.1 165.9L129.6 166.1L137.6 166.6L148.6 166.8L153.1 167.2L156.6 167.2L164.1 167.1L169.6 167.9L174.6 167.8L184.6 168.2L193.6 168.3L198.6 168.0L203.1 168.5L206.6 168.6L210.6 168.9L215.6 168.9L219.6 169.2L225.1 168.9L231.6 169.4L235.1 169.4L238.1 169.5L242.6 169.4L249.6 169.9L255.6 170.0L259.6 169.7L264.1 170.1L268.1 170.0L271.6 170.2L274.6 170.1L279.1 170.5L294.1 170.4L297.1 170.2L300.1 169.7L302.1 169.0L303.1 168.2L303.6 167.6L304.1 166.5L304.6 164.8L305.1 161.7L305.6 156.6L306.1 148.8L307.6 116.2L308.1 112.1L308.6 116.6L310.1 149.5L310.6 157.2L311.1 162.2L311.6 165.2L312.1 167.0L312.6 168.0L313.6 169.1L315.1 169.8L319.1 170.7L324.1 171.3L326.6 171.5L331.6 171.4L339.1 171.8L343.6 171.7L348.6 171.9L355.1 171.7L358.6 171.4L360.6 171.1L361.6 170.8L362.1 170.4L362.6 169.8L363.1 168.8L364.1 165.1L365.6 157.4L366.1 156.2L366.6 155.8L367.1 155.8L367.6 156.0L368.1 156.8L368.6 158.6L370.1 166.5L370.6 168.3L371.1 169.6L371.6 170.4L372.6 171.2L373.6 171.6L375.1 172.0L382.1 172.4L386.1 172.5L390.1 172.3L395.1 172.6L406.6 172.5L409.6 172.8L414.1 172.7L425.6 173.3L430.1 173.0L433.6 173.2L436.6 173.2L440.1 173.3L444.6 173.2L450.1 173.7L457.1 173.4L466.6 173.5L471.1 173.8L478.6 173.7L483.6 174.0L483.7 181.0Z"/>
<path d="M303.1 168.2L303.6 167.6L304.1 166.5L304.6 164.8L305.1 161.7L305.6 156.6L306.1 148.8L307.6 116.2L308.1 112.1L308.6 116.6L310.1 149.5L310.6 157.2L311.1 162.2L311.6 165.2L312.1 167.0L312.6 168.0L313.1 168.6M362.6 169.8L363.1 168.8L363.6 167.2L364.1 165.1L365.6 157.4L366.1 156.2L366.6 155.8M367.6 156.0L368.1 156.8L368.6 158.6L370.1 166.5L370.6 168.3L371.1 169.6" fill="none" stroke="#1a1a1a" stroke-width="1.15"/>
<path d="M79.6 182.9L79.6 164.3L84.6 165.1L90.6 165.7L95.6 165.8L99.6 166.5L105.1 167.1L109.1 167.2L114.6 167.6L128.6 168.1L132.6 168.4L143.6 168.8L149.6 168.9L153.6 169.2L165.6 169.3L176.6 169.9L181.6 170.0L185.1 170.0L188.6 170.2L192.6 170.2L204.6 170.7L210.6 170.7L226.1 171.4L231.6 171.2L240.6 171.7L246.1 171.6L253.6 172.0L260.1 172.0L266.1 172.3L271.6 172.1L276.6 172.6L281.6 172.3L286.1 172.7L293.1 172.4L298.1 172.4L300.1 172.1L301.6 171.7L302.6 171.2L303.6 170.4L304.1 169.8L304.6 168.8L305.1 167.3L305.6 164.6L306.1 160.0L306.6 152.8L308.1 119.0L308.6 112.4L309.1 114.6L310.6 147.9L311.1 156.7L311.6 162.6L312.1 166.3L312.6 168.4L313.1 169.6L314.1 170.9L315.6 171.7L318.6 172.4L327.6 173.6L331.6 173.4L336.6 173.7L340.6 173.6L344.6 173.7L348.1 173.5L357.6 173.6L360.1 173.4L361.6 173.1L362.6 172.5L363.1 171.9L363.6 170.9L364.1 169.3L364.6 167.0L366.1 158.0L366.6 156.1L367.1 155.5L367.6 155.3L368.1 155.4L368.6 156.0L369.1 157.7L370.6 166.7L371.1 169.0L371.6 170.6L372.1 171.6L372.6 172.2L373.6 172.9L375.1 173.3L381.6 174.2L389.1 174.6L396.1 174.4L401.6 174.9L406.6 174.5L412.1 174.7L415.6 174.9L420.6 174.8L425.6 175.1L432.1 175.1L436.6 175.3L442.1 175.3L450.1 175.6L456.1 175.4L460.6 175.4L467.6 175.7L473.6 175.5L481.1 176.1L484.1 176.0L484.2 182.9Z"/>
<path d="M303.6 170.4L304.1 169.8L304.6 168.8L305.1 167.3L305.6 164.6L306.1 160.0L306.6 152.8L307.1 142.7L308.1 119.0L308.6 112.4L309.1 114.6L309.6 124.1L310.6 147.9L311.1 156.7L311.6 162.6L312.1 166.3L312.6 168.4L313.1 169.6L313.6 170.3M363.1 171.9L363.6 170.9L364.1 169.3L364.6 167.0L366.1 158.0L366.6 156.1L367.1 155.5M368.1 155.4L368.6 156.0L369.1 157.7L370.6 166.7L371.1 169.0L371.6 170.6L372.1 171.6" fill="none" stroke="#1a1a1a" stroke-width="1.15"/>
<path d="M80.1 184.9L80.1 166.3L86.1 167.2L91.6 167.8L102.1 168.6L110.6 169.6L134.6 170.3L140.1 170.8L144.6 170.5L149.1 171.0L154.1 171.1L157.1 171.4L161.6 171.3L167.1 171.4L171.1 171.6L178.6 171.8L189.1 172.3L193.6 172.3L208.1 173.0L218.6 172.8L225.1 173.3L231.1 173.4L239.1 173.3L244.1 173.9L249.6 173.5L261.6 174.0L269.1 174.0L273.6 174.3L278.6 174.3L283.1 174.8L288.1 174.5L295.6 174.3L298.6 174.0L300.6 173.7L303.1 172.9L304.1 172.2L304.6 171.7L305.1 170.9L305.6 169.5L306.1 167.2L306.6 163.1L307.1 156.5L307.6 146.9L308.6 122.2L309.1 113.3L309.6 112.8L310.1 120.8L311.6 155.6L312.1 162.6L312.6 166.9L313.1 169.5L313.6 170.9L314.1 171.8L315.1 172.8L316.6 173.5L319.6 174.5L321.6 174.9L326.6 175.2L331.6 175.7L338.1 175.2L344.6 175.7L354.6 175.4L359.6 175.5L361.1 175.3L362.1 175.1L363.1 174.6L363.6 174.0L364.1 173.1L364.6 171.6L365.1 169.5L366.6 160.4L367.1 158.2L367.6 157.2L368.1 157.0L368.6 157.0L369.1 157.4L369.6 158.8L371.6 170.3L372.1 172.1L372.6 173.4L373.1 174.2L374.1 175.0L375.1 175.4L376.6 175.7L379.1 176.0L383.6 176.3L392.6 176.5L399.6 176.8L406.1 176.6L411.6 176.9L419.6 176.7L423.1 176.9L427.1 176.7L432.6 177.5L434.6 177.4L438.1 177.0L442.1 177.0L449.6 177.5L453.1 177.3L458.1 177.3L465.1 177.7L469.6 177.4L474.1 177.8L484.6 177.9L484.7 184.9Z"/>
<path d="M304.1 172.2L304.6 171.7L305.1 170.9L305.6 169.5L306.1 167.2L306.6 163.1L307.1 156.5L307.6 146.9L308.6 122.2L309.1 113.3L309.6 112.8L310.1 120.8L311.1 145.6L311.6 155.6L312.1 162.6L312.6 166.9L313.1 169.5L313.6 170.9L314.1 171.8L314.6 172.4M364.1 173.1L364.6 171.6L365.1 169.5L366.6 160.4L367.1 158.2L367.6 157.2L368.1 157.0L368.6 157.0L369.1 157.4L369.6 158.8L371.6 170.3L372.1 172.1L372.6 173.4" fill="none" stroke="#1a1a1a" stroke-width="1.15"/>
<path d="M80.5 186.8L80.5 167.8L88.0 168.7L93.5 169.6L99.5 170.1L103.5 170.2L113.5 171.3L117.5 171.3L120.5 171.6L124.0 171.5L129.5 172.0L134.0 172.1L138.0 172.4L150.0 172.6L153.5 172.8L157.0 172.8L160.0 173.1L167.5 173.3L172.0 173.8L176.5 173.6L197.5 174.2L202.0 174.0L206.5 174.5L210.5 174.7L215.0 174.6L219.0 174.9L228.5 174.9L237.5 175.3L243.0 175.2L248.5 175.8L255.5 175.7L260.0 175.5L264.5 176.0L268.5 175.7L275.5 176.2L280.0 176.1L292.5 176.5L294.5 176.4L297.5 175.8L300.5 175.7L302.0 175.4L303.0 175.1L304.0 174.5L305.0 173.5L305.5 172.7L306.0 171.5L306.5 169.4L307.0 165.7L307.5 159.7L308.0 150.5L309.5 113.8L310.0 110.3L310.5 116.4L312.0 153.5L312.5 161.8L313.0 167.1L313.5 170.3L314.0 172.2L314.5 173.4L315.5 174.6L317.0 175.5L320.0 176.3L323.0 176.8L326.0 177.0L330.0 177.0L334.5 177.2L339.0 177.1L346.5 177.4L353.5 177.5L360.5 177.1L362.5 176.7L363.5 176.2L364.0 175.7L364.5 174.8L365.0 173.5L366.0 168.6L367.5 158.8L368.0 157.3L368.5 156.8L369.0 156.8L369.5 157.0L370.0 158.1L370.5 160.6L372.0 170.7L372.5 173.0L373.0 174.6L373.5 175.6L374.0 176.2L374.5 176.5L376.0 177.1L378.0 177.6L381.0 178.0L396.0 178.5L407.5 178.3L412.5 178.9L422.5 179.0L426.5 178.7L431.5 178.7L437.5 179.1L442.5 179.0L446.5 179.1L450.0 178.9L457.5 179.5L464.0 179.3L470.0 179.5L473.5 179.4L485.0 179.8L485.1 186.8Z"/>
<path d="M306.0 171.5L306.5 169.4L307.0 165.7L307.5 159.7L308.0 150.5L309.5 113.8L310.0 110.3L310.5 116.4L312.0 153.5L312.5 161.8L313.0 167.1L313.5 170.3M365.5 171.4L367.5 158.8L368.0 157.3L368.5 156.8L369.0 156.8L369.5 157.0L370.0 158.1L370.5 160.6L372.0 170.7L372.5 173.0" fill="none" stroke="#000" stroke-width="1.25"/>
<path d="M304.5 174.1L305.0 173.5L305.5 172.7L306.0 171.5M313.5 170.3L314.0 172.2L314.5 173.4L315.0 174.1M364.0 175.7L364.5 174.8L365.0 173.5L365.5 171.4M372.5 173.0L373.0 174.6L373.5 175.6" fill="none" stroke="#1a1a1a" stroke-width="1.15"/>
<path d="M81.0 188.8L81.0 170.0L91.0 171.8L102.0 172.2L108.0 172.8L121.5 173.7L127.5 173.7L131.5 174.2L140.5 174.2L144.5 174.6L148.5 174.7L152.0 175.0L158.0 175.1L161.5 175.1L169.5 175.6L173.0 175.6L178.0 175.4L184.0 176.1L194.5 176.1L198.0 176.3L202.5 176.2L208.5 176.6L212.5 176.5L215.5 176.7L219.0 176.8L224.5 177.1L232.0 177.0L239.5 177.3L244.0 177.7L249.0 177.3L253.0 177.6L256.5 177.7L260.0 178.0L264.5 177.7L269.5 178.2L282.0 178.1L287.5 178.4L294.0 177.9L298.0 177.3L300.5 176.7L301.5 176.3L302.5 175.7L303.5 174.8L304.5 173.4L305.5 171.2L306.0 169.5L306.5 166.8L307.0 162.3L307.5 154.3L308.0 140.3L308.5 117.6L310.0 12.1L310.5 -3.8L311.0 9.4L312.5 114.9L313.0 138.5L313.5 153.4L314.0 161.9L314.5 166.7L315.0 169.6L315.5 171.4L316.0 172.7L316.5 173.7L317.5 175.0L319.0 176.2L320.5 177.0L322.5 177.7L325.0 178.3L329.0 178.7L333.5 178.8L343.0 179.6L351.0 179.3L356.0 179.5L358.5 179.4L360.0 179.0L362.0 178.1L363.5 177.2L364.5 176.3L365.0 175.6L365.5 174.4L366.0 172.3L366.5 168.6L367.0 162.2L367.5 152.0L369.0 108.2L369.5 103.9L370.0 111.6L371.0 142.6L371.5 155.6L372.0 164.7L372.5 170.3L373.0 173.6L373.5 175.4L374.0 176.5L374.5 177.2L375.5 178.1L377.0 178.8L379.5 179.3L383.5 179.5L386.5 179.8L390.0 179.9L397.5 180.4L401.0 180.4L407.0 180.7L412.0 180.5L416.0 180.8L420.5 180.6L429.5 181.2L445.5 181.0L455.0 181.3L459.5 181.1L467.5 181.5L476.5 181.8L479.5 181.9L485.5 181.6L485.6 188.8Z"/>
<path d="M305.0 172.5L305.5 171.2L306.0 169.5L306.5 166.8L307.0 162.3L307.5 154.3L308.0 140.3L308.5 117.6L310.0 12.1L310.5 -3.8L311.0 9.4L312.5 114.9L313.0 138.5L313.5 153.4L314.0 161.9L314.5 166.7L315.0 169.6L315.5 171.4L316.0 172.7M365.5 174.4L366.0 172.3L366.5 168.6L367.0 162.2L367.5 152.0L369.0 108.2L369.5 103.9L370.0 111.6L371.5 155.6L372.0 164.7L372.5 170.3L373.0 173.6" fill="none" stroke="#000" stroke-width="1.25"/>
<path d="M303.5 174.8L304.5 173.4L305.0 172.5M364.0 176.8L364.5 176.3L365.0 175.6L365.5 174.4" fill="none" stroke="#1a1a1a" stroke-width="0.95"/>
<path d="M81.4 190.7L81.4 172.1L84.4 172.8L86.9 173.1L97.9 173.9L102.9 174.5L108.4 174.8L113.4 175.3L117.9 175.4L122.4 175.8L126.9 175.7L131.4 176.3L138.4 176.3L144.4 176.7L148.4 176.6L155.9 177.3L163.4 177.1L169.9 177.2L179.4 177.7L191.9 178.5L196.9 178.3L201.9 178.6L207.4 178.3L212.9 178.7L218.9 178.7L228.4 179.3L238.4 179.3L242.9 179.6L259.4 179.7L263.9 180.1L268.9 179.9L281.9 180.0L290.9 180.3L296.4 179.7L298.9 179.4L301.4 178.7L302.9 177.8L303.9 177.0L304.9 175.6L305.9 173.4L306.4 171.7L306.9 169.1L307.4 164.7L307.9 157.1L308.4 143.6L308.9 121.8L310.4 15.7L310.9 -2.9L311.4 7.5L312.9 113.4L313.4 138.2L313.9 154.0L314.4 163.1L314.9 168.2L315.4 171.2L315.9 173.1L316.4 174.4L316.9 175.4L317.9 176.9L318.9 177.8L320.4 178.7L322.4 179.4L324.4 180.0L328.4 180.6L333.9 180.9L338.4 181.3L344.9 181.1L349.9 181.5L357.9 181.2L360.4 180.9L362.4 180.4L363.9 179.6L364.9 178.6L365.4 177.8L365.9 176.7L366.4 174.7L366.9 171.1L367.4 165.0L367.9 155.1L369.4 111.1L369.9 105.6L370.4 112.2L371.9 156.3L372.4 165.8L372.9 171.7L373.4 175.1L373.9 177.0L374.4 178.1L374.9 178.8L375.9 179.8L377.4 180.6L378.9 181.0L385.9 182.0L387.4 182.2L398.4 182.3L410.9 182.7L420.9 182.6L426.9 182.9L431.4 182.6L438.4 183.1L447.4 183.0L452.4 183.5L459.9 183.0L463.4 183.1L467.9 183.6L471.4 183.4L475.4 183.6L485.9 183.7L486.0 190.7Z"/>
<path d="M305.4 174.6L305.9 173.4L306.4 171.7L306.9 169.1L307.4 164.7L307.9 157.1L308.4 143.6L308.9 121.8L309.4 90.4L310.4 15.7L310.9 -2.9L311.4 7.5L312.9 113.4L313.4 138.2L313.9 154.0L314.4 163.1L314.9 168.2L315.4 171.2L315.9 173.1L316.4 174.4M365.9 176.7L366.4 174.7L366.9 171.1L367.4 165.0L367.9 155.1L369.4 111.1L369.9 105.6L370.4 112.2L371.9 156.3L372.4 165.8L372.9 171.7L373.4 175.1" fill="none" stroke="#000" stroke-width="1.25"/>
<path d="M303.9 177.0L304.9 175.6L305.4 174.6M364.4 179.1L364.9 178.6L365.4 177.8L365.9 176.7" fill="none" stroke="#1a1a1a" stroke-width="0.95"/>
<path d="M81.9 192.7L81.9 173.7L85.9 174.4L96.4 175.6L102.9 176.0L106.4 176.1L112.9 176.6L116.9 177.1L121.9 177.3L125.9 177.2L131.4 177.7L141.9 178.1L145.9 178.4L151.9 178.3L159.4 178.8L164.9 178.7L167.9 178.2L168.9 177.8L169.4 177.3L169.9 176.4L170.4 174.8L170.9 172.5L171.9 166.3L172.4 164.3L172.9 164.4L173.9 166.8L174.4 166.6L175.4 163.2L175.9 163.0L176.4 165.1L177.4 171.7L177.9 174.3L178.4 176.0L178.9 177.1L179.4 177.7L179.9 178.1L180.9 178.5L182.4 178.8L183.9 178.9L185.4 178.8L186.4 178.4L186.9 178.0L187.4 177.2L187.9 175.9L189.4 169.9L189.9 169.3L190.4 170.5L191.9 176.7L192.4 177.8L192.9 178.5L193.4 178.9L194.4 179.3L196.4 179.5L199.9 179.5L200.9 179.3L201.9 178.9L202.4 178.5L202.9 177.7L203.4 176.4L203.9 174.2L205.4 165.2L205.9 165.0L206.4 167.2L207.4 173.9L207.9 176.3L208.4 177.8L208.9 178.7L209.4 179.2L209.9 179.4L210.9 179.6L216.4 179.9L217.4 179.6L218.9 178.6L219.4 178.6L220.9 179.6L221.9 180.0L227.4 180.7L231.4 180.6L236.4 181.0L241.9 180.9L251.9 181.3L256.4 181.3L268.4 181.6L274.4 181.6L277.4 181.4L278.4 181.2L278.9 180.9L279.4 180.4L280.9 178.1L281.4 177.9L281.9 178.4L282.9 180.0L283.4 180.6L283.9 181.0L284.9 181.2L289.4 181.7L293.9 181.2L297.9 181.1L299.4 180.9L301.9 180.2L302.9 179.8L303.9 179.1L304.9 178.1L305.9 176.4L306.9 173.6L307.4 171.2L307.9 167.1L308.4 159.9L308.9 147.1L309.4 126.1L310.9 19.9L311.4 -1.5L311.9 6.0L313.4 111.7L313.9 137.6L314.4 154.2L314.9 163.9L315.4 169.3L315.9 172.5L316.4 174.5L316.9 176.0L317.9 177.9L318.9 179.2L319.9 180.1L320.9 180.7L322.4 181.4L323.9 181.8L330.4 182.5L334.9 182.4L339.4 182.9L341.4 182.7L342.4 182.2L343.4 180.9L344.4 179.1L344.9 178.7L345.4 179.0L346.9 181.6L347.4 182.1L348.4 182.8L349.9 183.1L350.9 183.1L354.4 182.8L359.4 182.7L361.4 182.6L362.4 182.3L363.4 181.9L364.4 181.3L365.4 180.3L365.9 179.6L366.4 178.5L366.9 176.6L367.4 173.3L367.9 167.5L368.4 158.0L369.9 113.8L370.4 107.2L370.9 112.6L372.4 156.9L372.9 166.7L373.4 172.9L373.9 176.5L374.4 178.5L374.9 179.6L375.4 180.4L376.9 181.7L378.4 182.5L380.4 183.1L385.4 183.5L389.9 184.1L393.4 184.0L396.4 184.1L399.9 184.0L403.9 184.2L410.4 184.4L416.9 184.8L431.9 184.5L436.4 184.8L447.9 184.9L451.9 185.1L459.9 184.8L466.9 185.2L470.9 185.3L473.4 185.2L475.9 184.3L476.4 184.4L478.4 185.2L479.4 185.3L486.4 185.4L486.5 192.7Z"/>
<path d="M305.9 176.4L306.4 175.2L306.9 173.6L307.4 171.2L307.9 167.1L308.4 159.9L308.9 147.1L309.4 126.1L309.9 95.4L310.9 19.9L311.4 -1.5L311.9 6.0L313.4 111.7L313.9 137.6L314.4 154.2L314.9 163.9L315.4 169.3L315.9 172.5L316.4 174.5L316.9 176.0M366.4 178.5L366.9 176.6L367.4 173.3L367.9 167.5L368.4 158.0L369.9 113.8L370.4 107.2L370.9 112.6L372.4 156.9L372.9 166.7L373.4 172.9L373.9 176.5L374.4 178.5" fill="none" stroke="#000" stroke-width="1.25"/>
<path d="M169.9 176.4L170.4 174.8L170.9 172.5L171.9 166.3L172.4 164.3L172.9 164.4M173.9 166.8L174.4 166.6L175.4 163.2L175.9 163.0M187.4 177.2L187.9 175.9L189.4 169.9L189.9 169.3M202.9 177.7L203.4 176.4L203.9 174.2L204.9 167.7L205.4 165.2L205.9 165.0M279.9 179.6L280.9 178.1M304.4 178.7L305.4 177.3L305.9 176.4M343.4 180.9L344.4 179.1L344.9 178.7M364.9 180.9L365.9 179.6L366.4 178.5" fill="none" stroke="#1a1a1a" stroke-width="0.95"/>
<path d="M82.4 194.6L82.4 176.0L87.4 176.9L91.4 177.2L95.4 177.7L104.4 178.6L112.9 179.0L117.4 179.0L122.9 179.5L135.9 179.8L139.9 180.1L143.4 180.2L147.4 180.6L150.9 180.6L154.9 180.8L163.9 180.8L166.9 180.5L168.4 180.0L169.4 179.4L169.9 178.7L170.4 177.6L170.9 175.6L171.4 172.6L172.4 164.8L172.9 162.2L173.4 162.1L173.9 163.4L174.4 164.1L174.9 162.8L175.9 156.5L176.4 156.0L176.9 159.2L177.9 169.8L178.4 173.9L178.9 176.6L179.4 178.2L179.9 179.0L180.9 179.9L182.4 180.4L184.4 180.6L185.9 180.5L186.9 180.1L187.4 179.6L187.9 178.6L188.4 176.8L189.9 168.9L190.4 168.2L190.9 169.9L192.4 177.9L192.9 179.4L193.4 180.3L193.9 180.7L194.9 181.1L198.4 181.4L200.9 181.2L201.9 180.9L202.4 180.6L202.9 180.0L203.4 178.9L203.9 177.0L204.4 173.8L205.9 160.7L206.4 160.3L206.9 163.5L207.9 173.1L208.4 176.5L208.9 178.8L209.4 180.0L209.9 180.7L210.9 181.4L212.4 181.9L214.9 182.3L216.9 182.2L217.9 181.7L219.4 180.4L219.9 180.4L221.9 182.3L222.9 182.7L223.9 182.9L228.9 182.7L234.9 182.9L241.4 182.9L248.4 183.2L252.9 183.6L258.4 183.4L262.4 183.5L266.9 183.5L271.4 183.9L273.4 183.9L277.4 183.7L278.9 183.2L279.4 182.9L279.9 182.2L281.4 179.0L281.9 178.4L282.4 178.8L283.9 182.0L284.4 182.7L284.9 183.1L285.9 183.4L291.4 183.7L297.4 183.5L299.4 183.2L301.4 182.7L302.9 182.1L303.9 181.5L304.9 180.6L305.9 179.3L306.9 177.2L307.4 175.6L307.9 173.3L308.4 169.4L308.9 162.6L309.4 150.5L309.9 130.3L311.4 24.4L311.9 0.6L312.4 5.0L313.9 110.3L314.4 137.4L314.9 155.0L315.4 165.3L315.9 171.1L316.4 174.5L316.9 176.6L317.4 178.0L318.4 180.0L319.4 181.3L320.4 182.1L321.4 182.7L322.9 183.2L324.9 183.7L327.9 184.2L335.4 185.0L337.9 185.1L341.4 184.9L342.4 184.6L342.9 184.3L343.4 183.7L343.9 182.8L344.9 180.4L345.4 179.5L345.9 179.5L347.4 183.0L347.9 183.9L348.4 184.5L348.9 184.8L349.9 185.1L357.4 185.0L361.4 184.6L362.9 184.3L364.4 183.7L365.4 183.0L366.4 181.9L366.9 180.8L367.4 179.1L367.9 175.9L368.4 170.3L368.9 161.2L369.4 148.1L370.4 117.0L370.9 109.2L371.4 113.5L372.9 157.8L373.4 168.2L373.9 174.9L374.4 178.7L374.9 180.9L375.4 182.1L375.9 182.9L376.9 183.9L377.9 184.4L378.9 184.7L382.4 185.4L388.9 185.8L392.4 185.9L396.9 186.4L398.9 186.4L402.4 186.2L406.9 186.6L409.9 186.5L413.4 186.6L417.9 186.4L422.9 186.6L427.9 186.6L430.9 187.0L432.9 187.1L440.4 187.0L445.4 187.1L449.4 186.9L455.4 187.5L459.9 187.1L461.9 187.0L471.4 187.5L472.9 187.4L473.9 187.2L475.9 186.0L476.4 185.9L476.9 186.0L478.9 187.1L479.9 187.3L484.9 187.7L486.9 187.7L487.0 194.6Z"/>
<path d="M306.4 178.4L306.9 177.2L307.4 175.6L307.9 173.3L308.4 169.4L308.9 162.6L309.4 150.5L309.9 130.3L310.4 100.5L311.4 24.4L311.9 0.6L312.4 5.0L312.9 34.8L313.9 110.3L314.4 137.4L314.9 155.0L315.4 165.3L315.9 171.1L316.4 174.5L316.9 176.6L317.4 178.0M367.4 179.1L367.9 175.9L368.4 170.3L368.9 161.2L370.4 117.0L370.9 109.2L371.4 113.5L372.9 157.8L373.4 168.2L373.9 174.9L374.4 178.7L374.9 180.9" fill="none" stroke="#000" stroke-width="1.25"/>
<path d="M169.9 178.7L170.4 177.6L170.9 175.6L171.4 172.6L172.4 164.8L172.9 162.2L173.4 162.1M174.4 164.1L174.9 162.8L175.9 156.5L176.4 156.0M187.4 179.6L187.9 178.6L188.4 176.8L189.9 168.9L190.4 168.2M202.9 180.0L203.4 178.9L203.9 177.0L204.4 173.8L205.4 164.4L205.9 160.7L206.4 160.3M280.4 181.3L281.4 179.0L281.9 178.4M304.9 180.6L305.9 179.3L306.4 178.4M343.9 182.8L344.9 180.4L345.4 179.5M365.9 182.6L366.4 181.9L366.9 180.8L367.4 179.1" fill="none" stroke="#1a1a1a" stroke-width="0.95"/>
<path d="M82.8 196.5L82.8 177.8L89.3 179.2L107.8 180.6L112.8 180.9L118.8 181.6L127.8 181.4L133.8 182.1L141.8 182.4L145.8 182.3L151.3 182.7L156.3 182.8L161.3 182.5L165.3 182.7L167.3 182.5L168.8 182.1L169.8 181.5L170.3 180.9L170.8 179.8L171.3 178.0L171.8 175.2L172.8 167.8L173.3 165.4L173.8 165.3L174.3 166.5L174.8 167.2L175.3 166.1L176.3 160.5L176.8 160.1L177.3 163.1L178.3 172.9L178.8 176.7L179.3 179.2L179.8 180.6L180.3 181.5L180.8 181.9L181.8 182.4L183.3 182.8L184.8 182.9L186.3 182.7L187.3 182.2L187.8 181.5L188.3 180.4L188.8 178.6L190.3 170.6L190.8 169.9L191.3 171.5L192.8 179.7L193.3 181.2L193.8 182.1L194.3 182.6L194.8 182.9L195.8 183.3L196.8 183.4L200.8 183.3L201.8 183.1L202.8 182.6L203.3 182.0L203.8 180.9L204.3 179.0L204.8 176.0L206.3 163.7L206.8 163.3L207.3 166.4L208.3 175.4L208.8 178.7L209.3 180.8L209.8 182.0L210.3 182.7L211.3 183.4L212.8 183.9L214.8 184.1L217.3 183.9L218.3 183.4L219.8 182.0L220.3 182.0L221.8 183.5L222.8 184.1L223.8 184.4L227.8 184.8L241.3 185.0L246.8 185.4L251.3 185.2L257.8 185.5L266.3 185.5L270.8 185.9L272.8 186.0L278.8 185.5L279.8 185.2L280.3 184.7L280.8 184.0L282.3 180.9L282.8 180.8L283.3 181.6L284.3 183.8L284.8 184.7L285.3 185.2L285.8 185.5L286.8 185.8L288.8 186.0L290.3 186.0L294.8 185.9L299.3 185.1L302.8 184.2L304.8 183.1L305.8 182.2L306.8 180.7L307.8 178.1L308.3 175.9L308.8 172.2L309.3 165.8L309.8 154.2L310.3 134.9L310.8 105.9L311.8 29.5L312.3 3.3L312.8 4.7L313.3 32.6L314.3 108.8L314.8 137.0L315.3 155.5L315.8 166.5L316.3 172.7L316.8 176.2L317.3 178.4L317.8 179.9L318.8 181.9L319.8 183.1L321.3 184.4L322.8 185.1L324.3 185.6L326.8 186.1L329.8 186.6L339.8 187.0L341.8 186.9L342.8 186.7L343.3 186.4L343.8 186.0L344.3 185.2L345.8 181.7L346.3 181.3L346.8 181.9L348.3 185.4L348.8 186.1L349.3 186.4L350.3 186.7L355.3 187.0L361.3 186.7L362.8 186.6L364.3 186.2L365.3 185.7L366.3 184.8L366.8 184.2L367.3 183.1L367.8 181.4L368.3 178.4L368.8 173.0L369.3 164.2L370.8 119.9L371.3 110.9L371.8 114.0L373.3 158.1L373.8 169.0L374.3 176.0L374.8 180.1L375.3 182.4L375.8 183.8L376.3 184.7L376.8 185.3L377.8 186.2L379.3 186.8L382.3 187.5L384.3 187.8L388.8 188.1L394.3 188.0L400.8 188.4L405.3 188.3L408.8 188.5L415.8 188.7L420.3 188.4L425.3 188.9L428.3 188.7L431.8 188.8L447.3 188.8L454.8 189.1L465.3 189.4L473.8 189.3L474.8 189.1L476.3 188.4L476.8 188.3L477.3 188.4L478.8 189.1L479.8 189.3L483.8 189.3L487.3 189.4L487.4 196.5Z"/>
<path d="M307.3 179.6L307.8 178.1L308.3 175.9L308.8 172.2L309.3 165.8L309.8 154.2L310.3 134.9L310.8 105.9L311.8 29.5L312.3 3.3L312.8 4.7L313.3 32.6L314.3 108.8L314.8 137.0L315.3 155.5L315.8 166.5L316.3 172.7L316.8 176.2L317.3 178.4L317.8 179.9M367.8 181.4L368.3 178.4L368.8 173.0L369.3 164.2L369.8 151.4L370.8 119.9L371.3 110.9L371.8 114.0L373.3 158.1L373.8 169.0L374.3 176.0L374.8 180.1L375.3 182.4" fill="none" stroke="#000" stroke-width="1.25"/>
<path d="M170.3 180.9L170.8 179.8L171.3 178.0L171.8 175.2L172.8 167.8L173.3 165.4L173.8 165.3M174.8 167.2L175.3 166.1L176.3 160.5L176.8 160.1M187.8 181.5L188.3 180.4L188.8 178.6L190.3 170.6L190.8 169.9M203.3 182.0L203.8 180.9L204.3 179.0L204.8 176.0L205.8 167.2L206.3 163.7L206.8 163.3M280.8 184.0L281.8 181.8L282.3 180.9M305.8 182.2L306.8 180.7L307.3 179.6M344.3 185.2L345.8 181.7L346.3 181.3M366.3 184.8L366.8 184.2L367.3 183.1L367.8 181.4" fill="none" stroke="#1a1a1a" stroke-width="0.95"/>
<path d="M83.3 198.5L83.3 179.8L88.3 180.8L92.3 180.9L96.3 181.5L100.8 181.7L107.8 182.4L111.8 182.5L116.3 183.0L120.3 183.1L127.8 183.6L133.8 183.5L138.8 184.1L143.8 183.9L157.3 184.7L160.8 184.6L164.8 184.8L168.3 184.3L169.3 184.1L170.3 183.5L170.8 182.9L171.3 181.7L171.8 179.7L172.3 176.7L173.3 168.8L173.8 166.2L174.3 166.0L174.8 167.4L175.3 168.1L175.8 166.9L176.8 160.9L177.3 160.5L177.8 163.6L178.8 174.0L179.3 178.1L179.8 180.7L180.3 182.3L180.8 183.2L181.3 183.7L182.3 184.2L183.8 184.7L185.3 184.8L186.8 184.6L187.8 184.0L188.3 183.4L188.8 182.2L189.3 180.3L190.8 171.8L191.3 171.0L191.8 172.7L193.3 181.4L193.8 183.0L194.3 183.9L194.8 184.5L195.8 185.0L198.3 185.4L201.3 185.3L202.3 185.0L203.3 184.5L203.8 183.9L204.3 182.7L204.8 180.6L205.3 177.1L206.8 163.1L207.3 162.7L207.8 166.1L208.8 176.2L209.3 179.8L209.8 182.2L210.3 183.5L210.8 184.3L211.8 185.0L213.3 185.6L215.8 185.9L217.8 185.8L218.8 185.3L220.3 184.0L220.8 184.0L222.8 185.9L223.8 186.3L224.8 186.4L232.8 186.9L245.8 187.2L251.3 187.0L256.3 187.3L262.8 187.3L270.8 187.8L277.8 187.7L279.8 187.4L280.8 186.8L281.8 185.4L282.8 183.3L283.3 182.9L283.8 183.3L285.3 186.3L285.8 186.9L286.3 187.3L287.3 187.6L288.3 187.7L293.3 187.7L298.8 187.3L300.3 187.1L302.8 186.2L304.3 185.5L305.3 184.8L306.3 183.9L307.3 182.4L308.3 179.9L308.8 177.7L309.3 174.2L309.8 168.0L310.3 157.1L310.8 138.6L311.3 110.5L312.3 34.1L312.8 5.7L313.3 3.9L313.8 29.9L314.8 106.6L315.3 135.9L315.8 155.4L316.3 167.1L316.8 173.7L317.3 177.5L317.8 179.8L318.3 181.4L319.3 183.5L320.3 184.8L321.3 185.7L322.3 186.3L324.3 187.0L330.8 188.1L335.8 188.6L342.3 188.5L343.8 188.3L344.3 188.0L344.8 187.5L345.3 186.7L346.3 184.6L346.8 184.0L347.3 184.2L348.8 187.2L349.3 187.9L350.3 188.5L351.8 188.8L359.3 189.2L362.3 189.0L363.8 188.6L365.3 188.0L366.3 187.2L367.3 186.1L367.8 185.1L368.3 183.4L368.8 180.5L369.3 175.4L369.8 167.0L370.3 154.6L371.3 122.9L371.8 112.9L372.3 114.8L373.8 158.7L374.3 170.0L374.8 177.3L375.3 181.6L375.8 184.0L376.3 185.4L376.8 186.3L377.3 186.8L378.3 187.6L380.3 188.6L382.8 189.2L386.3 189.5L391.8 189.6L397.3 190.2L402.3 190.1L407.8 190.4L412.3 190.2L417.3 190.6L422.3 190.8L427.8 190.4L433.3 190.8L439.3 190.6L447.3 190.9L454.3 190.8L460.8 191.3L465.8 191.1L473.8 191.1L475.3 190.8L476.8 190.1L477.3 189.9L477.8 190.1L479.3 190.8L480.8 191.2L483.8 191.3L487.8 191.3L487.9 198.5Z"/>
<path d="M307.3 182.4L307.8 181.4L308.3 179.9L308.8 177.7L309.3 174.2L309.8 168.0L310.3 157.1L310.8 138.6L311.3 110.5L312.3 34.1L312.8 5.7L313.3 3.9L313.8 29.9L314.8 106.6L315.3 135.9L315.8 155.4L316.3 167.1L316.8 173.7L317.3 177.5L317.8 179.8L318.3 181.4L318.8 182.6M368.3 183.4L368.8 180.5L369.3 175.4L369.8 167.0L370.3 154.6L371.3 122.9L371.8 112.9L372.3 114.8L372.8 127.2L373.8 158.7L374.3 170.0L374.8 177.3L375.3 181.6L375.8 184.0" fill="none" stroke="#000" stroke-width="1.25"/>
<path d="M170.8 182.9L171.3 181.7L171.8 179.7L172.3 176.7L173.3 168.8L173.8 166.2L174.3 166.0M175.3 168.1L175.8 166.9L176.8 160.9L177.3 160.5M188.3 183.4L188.8 182.2L189.3 180.3L190.8 171.8L191.3 171.0M203.8 183.9L204.3 182.7L204.8 180.6L205.3 177.1L206.3 167.1L206.8 163.1L207.3 162.7M281.8 185.4L282.8 183.3L283.3 182.9M306.3 183.9L307.3 182.4M345.3 186.7L346.3 184.6L346.8 184.0M366.8 186.7L367.3 186.1L367.8 185.1L368.3 183.4" fill="none" stroke="#1a1a1a" stroke-width="0.95"/>
<path d="M83.7 200.4L83.7 181.4L92.2 182.8L100.7 183.3L109.2 184.1L114.2 184.3L117.7 184.9L119.7 185.1L123.7 185.1L133.2 185.6L138.7 185.7L142.7 185.6L149.2 186.0L153.2 186.1L155.7 186.3L159.7 186.1L163.7 186.1L169.2 185.6L170.2 185.4L170.7 185.0L171.2 184.5L171.7 183.4L172.2 181.6L172.7 178.8L173.7 171.6L174.2 169.2L174.7 169.0L175.2 170.1L175.7 170.6L176.2 169.2L177.2 163.1L177.7 162.6L178.2 165.7L179.2 176.0L179.7 180.0L180.2 182.6L180.7 184.1L181.2 185.0L182.2 185.7L183.2 186.0L185.2 186.1L187.2 186.0L188.2 185.6L188.7 185.1L189.2 184.0L189.7 182.1L191.2 173.6L191.7 172.8L192.2 174.5L193.7 183.0L194.2 184.5L194.7 185.4L195.2 185.9L196.2 186.3L198.2 186.7L199.7 186.9L201.2 186.9L202.2 186.8L203.2 186.4L203.7 186.0L204.2 185.4L204.7 184.2L205.2 182.1L205.7 178.7L207.2 164.9L207.7 164.5L208.2 167.9L209.2 177.9L209.7 181.5L210.2 183.9L210.7 185.2L211.2 186.0L212.2 186.6L213.7 187.1L216.7 187.5L218.2 187.4L219.2 187.0L220.7 185.7L221.2 185.7L222.7 187.3L223.7 188.0L224.7 188.2L226.2 188.4L235.2 188.6L243.2 189.1L255.2 189.0L259.7 189.4L265.7 188.9L270.2 189.4L276.7 189.9L279.7 189.5L281.2 189.0L281.7 188.6L282.2 188.0L283.7 185.6L284.2 185.6L285.7 187.9L286.2 188.5L286.7 188.9L287.7 189.2L289.2 189.3L293.7 189.5L300.2 189.0L303.2 188.2L304.7 187.5L305.7 186.8L306.7 185.8L307.7 184.4L308.7 181.9L309.2 179.8L309.7 176.5L310.2 170.8L310.7 160.4L311.2 142.8L311.7 115.7L313.2 9.3L313.7 4.4L314.2 28.2L315.7 135.4L316.2 155.9L316.7 168.2L317.2 175.2L317.7 179.1L318.2 181.5L318.7 183.1L319.7 185.2L320.7 186.5L321.7 187.3L323.2 188.3L325.2 189.1L327.2 189.6L329.7 190.0L340.2 190.6L343.2 190.4L344.2 190.2L344.7 189.9L345.2 189.5L345.7 188.7L347.2 185.4L347.7 185.3L348.2 186.1L349.2 188.5L349.7 189.4L350.2 190.0L350.7 190.3L351.7 190.5L358.2 190.8L362.7 190.4L364.2 190.1L365.7 189.5L366.7 188.9L367.7 187.8L368.2 186.9L368.7 185.4L369.2 182.7L369.7 177.9L370.2 169.8L370.7 157.8L371.7 126.0L372.2 115.1L372.7 115.7L373.2 127.3L374.2 159.0L374.7 170.8L375.2 178.5L375.7 183.1L376.2 185.6L376.7 187.1L377.2 188.0L377.7 188.6L378.7 189.4L379.7 189.9L381.2 190.5L384.7 191.2L396.2 191.8L402.2 191.8L409.2 192.2L418.7 192.3L422.7 192.3L429.7 192.6L434.7 192.3L439.2 192.7L443.7 192.4L447.2 192.6L450.7 192.5L458.7 193.0L472.7 193.1L475.2 192.8L477.2 191.9L477.7 191.8L478.2 192.0L479.7 192.7L480.7 192.9L484.2 193.2L488.2 193.2L488.3 200.4Z"/>
<path d="M307.7 184.4L308.2 183.3L308.7 181.9L309.2 179.8L309.7 176.5L310.2 170.8L310.7 160.4L311.2 142.8L311.7 115.7L312.7 39.6L313.2 9.3L313.7 4.4L314.2 28.2L315.2 105.1L315.7 135.4L316.2 155.9L316.7 168.2L317.2 175.2L317.7 179.1L318.2 181.5L318.7 183.1L319.2 184.2M368.7 185.4L369.2 182.7L369.7 177.9L370.2 169.8L370.7 157.8L371.7 126.0L372.2 115.1L372.7 115.7L373.2 127.3L374.2 159.0L374.7 170.8L375.2 178.5L375.7 183.1L376.2 185.6" fill="none" stroke="#000" stroke-width="1.25"/>
<path d="M171.2 184.5L171.7 183.4L172.2 181.6L172.7 178.8L173.7 171.6L174.2 169.2L174.7 169.0M175.7 170.6L176.2 169.2L177.2 163.1L177.7 162.6M188.7 185.1L189.2 184.0L189.7 182.1L191.2 173.6L191.7 172.8M204.2 185.4L204.7 184.2L205.2 182.1L205.7 178.7L206.7 168.8L207.2 164.9L207.7 164.5M282.7 187.2L283.2 186.3L283.7 185.6M306.7 185.8L307.7 184.4M345.7 188.7L347.2 185.4M367.2 188.5L367.7 187.8L368.2 186.9L368.7 185.4" fill="none" stroke="#1a1a1a" stroke-width="0.95"/>
<path d="M84.2 202.4L84.2 183.7L95.2 185.2L108.7 186.7L113.2 186.7L117.2 187.0L128.2 187.3L134.7 188.0L140.7 188.0L148.2 188.3L156.2 188.4L160.2 188.6L168.2 188.3L169.7 188.2L170.7 187.8L171.2 187.5L171.7 186.8L172.2 185.6L172.7 183.6L173.2 180.6L174.2 172.7L174.7 170.1L175.2 169.9L175.7 171.2L176.2 171.7L176.7 170.4L177.7 163.9L178.2 163.4L178.7 166.7L179.7 177.5L180.2 181.7L180.7 184.5L181.2 186.1L181.7 187.1L182.7 187.9L183.7 188.3L185.7 188.4L187.7 188.2L188.7 187.8L189.2 187.1L189.7 186.0L190.2 184.1L191.7 175.2L192.2 174.5L192.7 176.3L194.2 185.3L194.7 186.9L195.2 187.9L195.7 188.4L196.7 188.9L199.7 189.4L201.2 189.5L202.7 189.3L203.7 189.0L204.2 188.7L204.7 188.0L205.2 186.9L205.7 184.9L206.2 181.7L207.7 168.6L208.2 168.3L208.7 171.5L209.7 181.1L210.2 184.6L210.7 186.8L211.2 188.0L211.7 188.7L212.2 189.1L213.2 189.4L216.7 189.9L218.7 189.8L219.7 189.4L221.2 188.2L221.7 188.2L223.2 189.5L224.2 190.1L225.7 190.5L228.7 190.8L232.2 190.9L237.2 190.7L243.2 190.8L249.2 191.4L254.2 191.5L257.7 191.8L263.2 191.3L269.2 191.5L273.2 191.9L275.2 191.9L280.2 191.5L281.7 191.1L282.2 190.7L282.7 190.1L284.2 187.3L284.7 186.9L285.2 187.4L286.2 189.4L287.2 190.8L288.2 191.3L289.2 191.5L294.7 191.6L300.7 191.3L302.2 191.0L303.7 190.6L305.7 189.5L307.2 188.0L308.2 186.5L309.2 184.1L309.7 182.1L310.2 179.0L310.7 173.5L311.2 163.8L311.7 147.0L312.2 120.8L313.7 13.0L314.2 5.0L314.7 26.3L315.7 103.2L316.2 134.6L316.7 156.1L317.2 169.2L317.7 176.6L318.2 180.8L318.7 183.4L319.2 185.1L320.2 187.3L321.2 188.7L322.2 189.7L323.2 190.3L324.7 191.0L326.7 191.6L328.2 191.8L334.2 192.4L339.2 192.6L343.7 192.4L345.2 192.1L345.7 191.7L346.2 191.0L347.7 187.6L348.2 187.0L348.7 187.5L349.7 190.0L350.2 191.1L350.7 191.8L351.7 192.5L352.7 192.7L354.7 192.9L359.2 192.9L361.2 192.8L362.7 192.6L364.7 192.1L366.2 191.5L367.2 190.8L368.2 189.8L368.7 188.9L369.2 187.5L369.7 185.0L370.2 180.5L370.7 172.9L371.2 161.3L372.2 129.6L372.7 117.8L373.2 117.1L373.7 127.8L374.7 159.7L375.2 171.8L375.7 179.9L376.2 184.8L376.7 187.5L377.2 189.1L377.7 190.0L378.2 190.7L379.2 191.6L380.2 192.2L381.7 192.8L383.7 193.3L385.2 193.5L394.2 194.0L401.7 193.7L403.2 193.4L404.2 192.7L406.2 189.5L406.7 189.5L408.2 192.3L408.7 192.9L409.2 193.3L409.7 193.5L410.7 193.6L411.7 193.3L412.2 192.9L412.7 192.3L413.2 191.2L414.2 188.2L414.7 187.2L415.2 187.2L415.7 188.3L416.7 191.3L417.2 192.4L417.7 193.1L418.2 193.4L419.2 193.7L426.2 194.4L429.7 194.4L433.2 194.6L437.2 194.4L445.7 195.0L453.2 194.8L459.2 195.0L463.2 195.4L467.7 195.1L475.2 195.3L476.2 195.1L477.7 194.3L478.2 194.2L478.7 194.3L480.2 195.0L481.2 195.3L488.7 195.5L488.8 202.4Z"/>
<path d="M308.7 185.5L309.2 184.1L309.7 182.1L310.2 179.0L310.7 173.5L311.2 163.8L311.7 147.0L312.2 120.8L313.7 13.0L314.2 5.0L314.7 26.3L315.7 103.2L316.2 134.6L316.7 156.1L317.2 169.2L317.7 176.6L318.2 180.8L318.7 183.4L319.2 185.1L319.7 186.4M369.2 187.5L369.7 185.0L370.2 180.5L370.7 172.9L371.2 161.3L372.2 129.6L372.7 117.8L373.2 117.1L373.7 127.8L374.7 159.7L375.2 171.8L375.7 179.9L376.2 184.8L376.7 187.5" fill="none" stroke="#000" stroke-width="1.25"/>
<path d="M171.7 186.8L172.2 185.6L172.7 183.6L173.2 180.6L174.2 172.7L174.7 170.1L175.2 169.9M176.2 171.7L176.7 170.4L177.7 163.9L178.2 163.4M189.2 187.1L189.7 186.0L190.2 184.1L191.7 175.2L192.2 174.5M204.7 188.0L205.2 186.9L205.7 184.9L206.2 181.7L207.2 172.4L207.7 168.6L208.2 168.3M283.2 189.3L284.2 187.3L284.7 186.9M306.7 188.6L307.7 187.4L308.7 185.5M346.2 191.0L347.7 187.6L348.2 187.0M367.7 190.4L368.2 189.8L368.7 188.9L369.2 187.5M404.7 192.0L405.7 190.1L406.2 189.5M412.7 192.3L413.2 191.2L414.2 188.2L414.7 187.2" fill="none" stroke="#1a1a1a" stroke-width="0.95"/>
<path d="M84.6 204.3L84.6 185.6L94.1 186.7L98.6 187.6L105.6 187.8L112.6 188.7L136.1 189.6L140.1 190.0L146.1 190.3L149.6 190.1L158.1 190.3L162.6 190.2L166.6 190.3L168.1 190.2L169.6 190.0L170.6 189.7L171.6 189.0L172.1 188.3L172.6 187.1L173.1 184.9L173.6 181.8L174.6 173.5L175.1 170.8L175.6 170.7L176.1 172.2L176.6 173.2L177.1 172.3L178.1 166.7L178.6 166.3L179.1 169.4L180.1 179.8L180.6 183.8L181.1 186.5L181.6 188.1L182.1 189.0L183.1 189.9L184.6 190.4L186.6 190.4L188.1 190.2L189.1 189.7L189.6 189.0L190.1 187.8L190.6 185.8L192.1 176.5L192.6 175.7L193.1 177.6L194.6 186.9L195.1 188.7L195.6 189.6L196.1 190.2L196.6 190.5L197.6 190.8L199.1 191.0L200.6 191.0L202.6 190.7L203.6 190.5L204.6 190.0L205.1 189.4L205.6 188.4L206.1 186.4L206.6 183.4L208.1 170.7L208.6 170.4L209.1 173.6L210.1 183.0L210.6 186.4L211.1 188.6L211.6 189.9L212.1 190.6L213.1 191.2L214.1 191.6L215.1 191.8L216.6 191.8L219.1 191.5L220.1 190.9L221.6 189.6L222.1 189.6L223.6 191.3L224.6 192.0L225.6 192.3L227.1 192.4L229.6 192.5L233.6 192.3L240.1 192.8L244.1 192.7L249.1 192.9L255.6 192.8L267.1 193.6L273.1 193.4L279.1 193.5L281.6 193.2L282.6 192.8L283.1 192.4L283.6 191.7L284.6 189.7L285.1 189.0L285.6 189.2L287.1 192.0L287.6 192.7L288.1 193.1L289.1 193.4L290.6 193.5L294.6 193.2L298.1 193.3L300.1 193.2L302.6 192.8L304.1 192.5L305.1 192.1L306.1 191.5L307.6 190.0L308.6 188.5L309.6 186.0L310.1 184.1L310.6 181.0L311.1 175.9L311.6 166.6L312.1 150.6L312.6 125.3L314.1 16.6L314.6 5.6L315.1 24.4L316.6 133.5L317.1 156.1L317.6 170.0L318.1 177.9L318.6 182.3L319.1 185.0L320.1 188.0L320.6 188.9L321.6 190.4L322.6 191.4L323.6 192.1L324.6 192.6L326.1 193.1L334.6 194.3L339.1 194.3L342.6 194.7L344.6 194.6L345.6 194.3L346.1 194.0L346.6 193.5L347.1 192.7L348.1 190.5L348.6 189.8L349.1 189.9L350.6 192.8L351.1 193.5L351.6 193.9L352.6 194.2L355.1 194.3L359.1 194.9L361.1 194.9L363.1 194.7L365.1 194.4L366.6 193.8L367.6 193.2L368.6 192.1L369.1 191.2L369.6 189.8L370.1 187.4L370.6 183.1L371.1 175.8L371.6 164.5L373.1 120.3L373.6 118.2L374.1 128.0L375.6 172.7L376.1 181.2L376.6 186.3L377.1 189.3L377.6 190.9L378.1 191.9L378.6 192.6L380.1 193.9L381.1 194.4L382.6 195.0L384.6 195.4L386.6 195.6L391.1 195.6L397.6 195.9L399.6 195.8L403.6 195.2L404.6 194.8L405.1 194.3L405.6 193.5L407.1 189.9L407.6 189.9L408.1 190.8L409.1 193.3L409.6 194.2L410.1 194.8L410.6 195.0L411.1 195.1L412.1 195.0L412.6 194.8L413.1 194.3L413.6 193.4L414.1 192.0L415.1 187.9L415.6 186.3L416.1 186.2L416.6 187.8L417.6 192.0L418.1 193.5L418.6 194.5L419.1 195.1L419.6 195.4L421.6 196.0L432.1 196.7L438.6 196.5L447.6 196.9L452.6 196.5L456.6 196.8L460.1 196.7L467.1 196.9L475.6 196.7L476.6 196.5L478.1 195.8L478.6 195.8L480.6 196.9L481.6 197.1L486.1 196.9L489.1 197.0L489.2 204.3Z"/>
<path d="M309.1 187.4L309.6 186.0L310.1 184.1L310.6 181.0L311.1 175.9L311.6 166.6L312.1 150.6L312.6 125.3L314.1 16.6L314.6 5.6L315.1 24.4L316.1 101.1L316.6 133.5L317.1 156.1L317.6 170.0L318.1 177.9L318.6 182.3L319.1 185.0L319.6 186.7L320.1 188.0M369.6 189.8L370.1 187.4L370.6 183.1L371.1 175.8L371.6 164.5L372.6 132.9L373.1 120.3L373.6 118.2L374.1 128.0L375.1 160.0L375.6 172.7L376.1 181.2L376.6 186.3L377.1 189.3" fill="none" stroke="#000" stroke-width="1.25"/>
<path d="M172.1 188.3L172.6 187.1L173.1 184.9L173.6 181.8L174.6 173.5L175.1 170.8L175.6 170.7M176.6 173.2L177.1 172.3L178.1 166.7L178.6 166.3M189.6 189.0L190.1 187.8L190.6 185.8L192.1 176.5L192.6 175.7M205.1 189.4L205.6 188.4L206.1 186.4L206.6 183.4L207.6 174.3L208.1 170.7L208.6 170.4M283.6 191.7L284.6 189.7L285.1 189.0M307.1 190.6L308.1 189.3L309.1 187.4M347.1 192.7L348.1 190.5L348.6 189.8M368.1 192.7L368.6 192.1L369.1 191.2L369.6 189.8M405.6 193.5L406.6 190.9L407.1 189.9M413.6 193.4L414.1 192.0L415.1 187.9L415.6 186.3L416.1 186.2" fill="none" stroke="#1a1a1a" stroke-width="0.95"/>
<path d="M85.1 206.3L85.1 187.4L91.1 188.4L101.1 189.1L105.1 189.7L113.1 190.2L117.6 190.8L120.6 190.8L124.1 191.1L127.6 191.0L131.1 191.4L134.6 191.4L138.6 191.6L158.6 192.1L162.1 192.3L167.6 192.2L169.6 191.9L171.1 191.4L172.1 190.7L172.6 190.0L173.1 188.8L173.6 186.8L174.1 183.7L175.1 175.7L175.6 173.1L176.1 173.0L176.6 174.4L177.1 175.1L177.6 174.0L178.6 168.0L179.1 167.5L179.6 170.7L180.6 181.3L181.1 185.4L181.6 188.1L182.1 189.7L182.6 190.6L183.1 191.1L184.1 191.7L185.6 192.2L187.1 192.3L188.6 192.2L189.6 191.8L190.1 191.3L190.6 190.3L191.1 188.6L192.6 180.8L193.1 180.1L193.6 181.6L195.1 189.3L195.6 190.8L196.1 191.6L197.1 192.4L198.1 192.7L199.6 193.0L203.1 193.0L204.1 192.8L205.1 192.4L205.6 191.9L206.1 190.8L206.6 188.9L207.1 185.9L208.6 173.4L209.1 173.1L209.6 176.2L210.6 185.3L211.1 188.6L211.6 190.7L212.1 191.8L212.6 192.4L213.6 193.0L214.6 193.2L218.1 193.8L219.6 193.8L220.6 193.3L222.1 192.0L222.6 191.9L223.1 192.2L224.1 193.1L225.1 193.7L227.1 194.1L229.1 194.3L235.6 194.6L239.1 194.5L244.6 194.5L249.6 194.9L260.6 195.3L265.1 195.6L276.1 195.3L281.1 195.3L282.6 195.1L283.6 194.5L284.1 193.8L285.6 191.0L286.1 190.7L286.6 191.2L288.1 194.1L288.6 194.6L289.6 195.1L293.1 195.1L296.6 195.4L303.6 194.8L305.6 194.3L307.1 193.3L308.1 192.3L309.1 190.8L310.1 188.4L310.6 186.5L311.1 183.6L311.6 178.6L312.1 169.8L312.6 154.5L313.1 130.1L314.6 20.6L315.1 6.6L315.6 22.7L317.1 132.4L317.6 156.1L318.1 170.8L318.6 179.3L319.1 184.0L319.6 186.8L320.6 190.0L321.1 191.0L322.1 192.4L323.1 193.3L324.6 194.2L326.6 194.9L328.6 195.4L344.1 196.5L345.1 196.4L346.1 196.2L346.6 195.9L347.1 195.5L347.6 194.7L349.1 191.3L349.6 191.0L350.1 191.6L351.6 195.0L352.1 195.6L353.1 196.2L354.1 196.4L360.1 196.6L364.1 196.2L365.6 195.8L367.1 195.2L368.1 194.5L369.1 193.5L369.6 192.7L370.1 191.4L370.6 189.2L371.1 185.1L371.6 178.2L372.1 167.3L373.6 122.4L374.1 119.1L374.6 128.0L375.6 160.0L376.1 173.1L376.6 182.0L377.1 187.5L377.6 190.6L378.1 192.3L378.6 193.4L379.1 194.1L380.1 194.9L381.6 195.7L384.1 196.6L385.6 197.1L387.1 197.3L392.1 197.3L400.1 197.6L404.1 197.4L405.1 197.2L405.6 196.9L406.1 196.4L406.6 195.5L408.1 192.0L408.6 191.9L409.1 192.8L410.1 195.3L410.6 196.2L411.1 196.7L411.6 197.1L412.1 197.2L413.1 197.2L413.6 197.0L414.1 196.6L414.6 195.8L415.1 194.5L416.6 188.9L417.1 188.8L417.6 190.2L418.6 194.3L419.1 195.7L419.6 196.6L420.1 197.1L420.6 197.4L422.1 197.7L431.6 198.5L435.6 198.2L437.1 198.2L442.1 198.8L447.6 198.5L453.1 198.6L457.1 198.4L462.6 198.8L467.1 198.5L474.1 199.1L475.6 199.0L476.6 198.8L478.6 197.8L479.1 197.7L479.6 197.8L481.1 198.5L482.6 198.8L489.6 199.1L489.7 206.3Z"/>
<path d="M309.6 189.8L310.1 188.4L310.6 186.5L311.1 183.6L311.6 178.6L312.1 169.8L312.6 154.5L313.1 130.1L314.6 20.6L315.1 6.6L315.6 22.7L317.1 132.4L317.6 156.1L318.1 170.8L318.6 179.3L319.1 184.0L319.6 186.8L320.1 188.7L320.6 190.0M370.1 191.4L370.6 189.2L371.1 185.1L371.6 178.2L372.1 167.3L373.6 122.4L374.1 119.1L374.6 128.0L375.6 160.0L376.1 173.1L376.6 182.0L377.1 187.5L377.6 190.6" fill="none" stroke="#000" stroke-width="1.25"/>
<path d="M172.6 190.0L173.1 188.8L173.6 186.8L174.1 183.7L175.1 175.7L175.6 173.1L176.1 173.0M177.1 175.1L177.6 174.0L178.6 168.0L179.1 167.5M190.1 191.3L190.6 190.3L191.1 188.6L192.6 180.8L193.1 180.1M205.6 191.9L206.1 190.8L206.6 188.9L207.1 185.9L208.1 177.0L208.6 173.4L209.1 173.1M284.6 192.9L285.6 191.0M307.6 192.9L308.6 191.7L309.6 189.8M347.6 194.7L349.1 191.3L349.6 191.0M368.6 194.1L369.1 193.5L369.6 192.7L370.1 191.4M406.6 195.5L407.6 193.0L408.1 192.0M414.6 195.8L415.1 194.5L416.1 190.5L416.6 188.9L417.1 188.8" fill="none" stroke="#1a1a1a" stroke-width="0.95"/>
<path d="M85.6 208.2L85.6 189.6L89.1 190.3L91.1 190.6L102.6 191.5L108.1 192.1L114.6 192.4L119.1 193.0L123.6 193.1L131.1 193.6L142.1 193.4L149.6 194.0L154.6 194.1L161.6 194.6L165.1 194.4L168.6 194.4L170.1 194.2L171.6 193.8L172.6 193.1L173.1 192.4L173.6 191.1L174.1 189.1L174.6 186.0L175.6 177.9L176.1 175.3L176.6 175.4L177.6 178.4L178.1 177.9L179.1 173.3L179.6 173.0L180.1 175.8L181.1 185.1L181.6 188.6L182.1 191.0L182.6 192.4L183.1 193.2L183.6 193.7L184.6 194.2L185.6 194.4L188.1 194.6L189.6 194.4L190.1 194.0L190.6 193.4L191.1 192.3L191.6 190.3L193.1 181.5L193.6 180.7L194.1 182.5L195.6 191.2L196.1 192.8L196.6 193.8L197.1 194.3L197.6 194.6L198.6 194.9L201.1 195.2L203.6 195.2L204.6 194.9L205.6 194.4L206.1 193.7L206.6 192.6L207.1 190.6L207.6 187.3L209.1 173.9L209.6 173.5L210.1 176.8L211.1 186.5L211.6 190.0L212.1 192.3L212.6 193.6L213.1 194.3L214.1 195.0L215.1 195.3L218.6 195.8L220.1 195.7L221.1 195.2L222.6 193.8L223.1 193.8L225.1 195.7L226.1 196.1L227.1 196.2L231.6 196.2L237.6 196.8L243.1 196.5L249.1 197.0L261.1 197.3L266.6 197.1L272.6 197.5L280.1 197.5L283.1 197.3L284.1 196.9L284.6 196.3L285.1 195.5L286.1 193.4L286.6 192.7L287.1 192.9L288.6 195.9L289.1 196.6L289.6 197.0L290.1 197.3L291.1 197.5L295.6 197.5L297.6 197.4L301.1 196.7L304.6 196.3L306.1 195.9L307.6 195.1L308.6 194.1L309.6 192.7L310.6 190.3L311.1 188.5L311.6 185.7L312.1 181.1L312.6 172.8L313.1 158.3L313.6 134.9L315.1 25.0L315.6 8.1L316.1 21.4L317.6 131.3L318.1 156.1L318.6 171.6L319.1 180.6L319.6 185.6L320.1 188.5L321.1 191.8L321.6 192.9L322.6 194.4L323.6 195.4L325.1 196.3L326.6 197.0L328.6 197.6L330.6 197.9L340.1 198.6L346.1 198.6L347.1 198.4L347.6 198.0L348.1 197.4L349.6 193.7L350.1 192.9L350.6 193.2L352.1 196.8L352.6 197.5L353.1 198.0L354.1 198.3L360.6 198.8L363.1 198.8L365.1 198.4L367.1 197.8L368.6 197.0L369.6 196.1L370.1 195.3L370.6 194.1L371.1 192.0L371.6 188.1L372.1 181.5L372.6 171.0L374.1 125.5L374.6 120.9L375.1 128.7L376.1 160.6L376.6 174.2L377.1 183.6L377.6 189.4L378.1 192.7L378.6 194.6L379.1 195.7L379.6 196.5L380.6 197.4L381.6 198.0L383.1 198.5L389.6 199.4L393.1 199.6L401.1 199.6L405.1 199.4L406.1 199.3L406.6 199.1L407.1 198.7L407.6 198.0L409.1 195.0L409.6 194.8L410.1 195.6L411.1 197.8L411.6 198.7L412.1 199.2L412.6 199.5L413.6 199.5L414.6 199.2L415.1 198.7L415.6 197.8L416.1 196.3L417.6 190.2L418.1 190.0L418.6 191.4L419.6 195.8L420.1 197.4L420.6 198.4L421.1 199.0L421.6 199.3L422.6 199.5L426.6 200.1L430.1 200.4L435.6 200.3L446.1 200.8L451.1 200.6L454.6 200.8L459.6 200.9L464.1 200.6L469.6 201.0L475.1 200.9L476.6 200.7L477.6 200.4L479.1 199.6L479.6 199.5L480.1 199.6L481.6 200.3L483.1 200.7L490.1 201.1L490.2 208.2Z"/>
<path d="M310.1 191.7L310.6 190.3L311.1 188.5L311.6 185.7L312.1 181.1L312.6 172.8L313.1 158.3L313.6 134.9L314.1 101.6L315.1 25.0L315.6 8.1L316.1 21.4L317.6 131.3L318.1 156.1L318.6 171.6L319.1 180.6L319.6 185.6L320.1 188.5L320.6 190.5L321.1 191.8M370.6 194.1L371.1 192.0L371.6 188.1L372.1 181.5L372.6 171.0L374.1 125.5L374.6 120.9L375.1 128.7L376.6 174.2L377.1 183.6L377.6 189.4L378.1 192.7" fill="none" stroke="#000" stroke-width="1.25"/>
<path d="M173.1 192.4L173.6 191.1L174.1 189.1L174.6 186.0L175.6 177.9L176.1 175.3L176.6 175.4M177.6 178.4L178.1 177.9L179.1 173.3L179.6 173.0M190.6 193.4L191.1 192.3L191.6 190.3L193.1 181.5L193.6 180.7M206.1 193.7L206.6 192.6L207.1 190.6L207.6 187.3L208.6 177.7L209.1 173.9L209.6 173.5M285.1 195.5L286.1 193.4L286.6 192.7M308.6 194.1L309.6 192.7L310.1 191.7M348.6 196.3L349.6 193.7L350.1 192.9M369.1 196.6L369.6 196.1L370.1 195.3L370.6 194.1M407.6 198.0L409.1 195.0M415.6 197.8L416.1 196.3L417.6 190.2L418.1 190.0" fill="none" stroke="#1a1a1a" stroke-width="0.95"/>
<path d="M86.0 210.2L86.0 191.5L96.5 192.6L102.0 193.4L108.5 194.1L114.0 194.3L126.0 195.2L134.5 195.4L139.5 195.5L146.0 196.0L152.0 196.0L160.5 196.7L171.0 196.0L172.0 195.8L173.0 195.1L173.5 194.5L174.0 193.4L174.5 191.5L175.0 188.7L176.0 181.3L176.5 178.9L177.0 178.9L177.5 180.4L178.0 181.4L178.5 180.8L179.5 176.2L180.0 175.8L180.5 178.5L181.5 187.3L182.0 190.7L182.5 193.0L183.0 194.3L183.5 195.0L184.0 195.4L185.0 195.9L187.5 196.4L188.5 196.5L189.5 196.4L190.5 195.9L191.0 195.3L191.5 194.3L192.0 192.5L193.5 184.7L194.0 184.0L194.5 185.6L196.0 193.5L196.5 195.0L197.0 195.9L197.5 196.4L198.0 196.7L199.0 197.0L201.0 197.0L204.0 196.8L205.0 196.6L206.0 196.1L206.5 195.6L207.0 194.5L207.5 192.5L208.0 189.4L209.5 176.3L210.0 176.0L210.5 179.2L211.5 188.8L212.0 192.3L212.5 194.5L213.0 195.8L213.5 196.5L214.5 197.1L215.5 197.4L219.0 197.7L220.5 197.7L221.5 197.1L223.0 195.6L223.5 195.6L224.0 195.9L225.0 197.0L226.0 197.7L227.0 197.9L229.0 198.2L238.0 198.6L247.0 198.6L259.5 199.1L264.5 199.1L277.0 199.6L280.5 199.3L283.5 199.2L284.5 198.8L285.0 198.4L285.5 197.7L287.0 194.4L287.5 194.1L288.0 194.8L289.5 198.1L290.0 198.7L291.0 199.2L293.0 199.3L297.0 199.3L302.0 198.8L304.5 198.6L306.0 198.3L307.5 197.4L309.0 196.0L310.0 194.5L311.0 192.3L311.5 190.6L312.0 188.0L312.5 183.6L313.0 175.7L313.5 161.9L314.0 139.4L315.5 29.5L316.0 9.8L316.5 20.1L318.0 130.0L318.5 155.8L319.0 172.3L319.5 181.8L320.0 187.1L320.5 190.2L321.0 192.1L321.5 193.5L322.0 194.5L323.0 195.9L324.0 196.9L325.0 197.6L326.0 198.2L327.5 198.8L331.0 199.7L336.0 200.3L341.0 200.2L346.0 200.3L347.5 200.1L348.0 199.9L348.5 199.5L349.0 198.8L350.5 195.9L351.0 195.9L353.0 199.7L353.5 200.2L354.5 200.6L361.0 200.8L365.5 200.5L367.0 200.0L368.0 199.6L369.0 198.9L370.0 197.9L370.5 197.1L371.0 195.9L371.5 193.8L372.0 190.1L372.5 183.8L373.0 173.6L374.5 128.0L375.0 122.1L375.5 128.9L377.0 174.7L377.5 184.6L378.0 190.8L378.5 194.3L379.0 196.2L379.5 197.3L380.0 198.1L381.0 199.0L382.5 199.7L385.0 200.4L391.0 201.1L394.5 201.3L398.5 201.3L404.5 201.6L406.0 201.5L407.0 201.2L407.5 200.9L408.0 200.3L408.5 199.5L410.0 195.8L410.5 195.6L411.0 196.4L412.0 199.0L412.5 200.0L413.0 200.6L413.5 200.9L414.0 201.1L415.0 201.0L415.5 200.9L416.0 200.5L416.5 199.7L417.0 198.4L418.5 192.9L419.0 192.6L419.5 193.9L420.5 198.0L421.0 199.5L421.5 200.5L422.0 201.1L422.5 201.4L424.0 201.8L426.0 202.0L431.5 202.2L438.5 202.4L444.0 202.3L449.0 202.8L451.0 202.9L462.5 202.5L467.5 202.8L475.5 202.8L477.5 202.7L479.5 201.9L480.0 201.9L482.5 202.8L490.5 203.1L490.6 210.2Z"/>
<path d="M310.5 193.6L311.0 192.3L311.5 190.6L312.0 188.0L312.5 183.6L313.0 175.7L313.5 161.9L314.0 139.4L314.5 107.0L315.5 29.5L316.0 9.8L316.5 20.1L318.0 130.0L318.5 155.8L319.0 172.3L319.5 181.8L320.0 187.1L320.5 190.2L321.0 192.1L321.5 193.5M371.0 195.9L371.5 193.8L372.0 190.1L372.5 183.8L373.0 173.6L374.5 128.0L375.0 122.1L375.5 128.9L377.0 174.7L377.5 184.6L378.0 190.8L378.5 194.3L379.0 196.2" fill="none" stroke="#000" stroke-width="1.25"/>
<path d="M173.5 194.5L174.0 193.4L174.5 191.5L175.0 188.7L176.0 181.3L176.5 178.9L177.0 178.9M178.0 181.4L178.5 180.8L179.5 176.2L180.0 175.8M191.0 195.3L191.5 194.3L192.0 192.5L193.5 184.7L194.0 184.0M206.5 195.6L207.0 194.5L207.5 192.5L208.0 189.4L209.0 180.1L209.5 176.3L210.0 176.0M285.5 197.7L287.0 194.4L287.5 194.1M309.0 196.0L310.0 194.5L310.5 193.6M349.0 198.8L350.0 196.7L350.5 195.9M369.5 198.5L370.0 197.9L370.5 197.1L371.0 195.9M408.5 199.5L410.0 195.8L410.5 195.6M416.5 199.7L417.0 198.4L418.5 192.9L419.0 192.6" fill="none" stroke="#1a1a1a" stroke-width="0.95"/>
<path d="M86.5 212.1L86.5 193.5L89.0 194.0L92.5 194.2L96.5 194.7L101.0 194.9L109.5 195.8L117.5 196.0L121.5 196.7L123.5 196.9L131.0 197.1L137.5 197.5L142.5 197.4L148.0 197.9L154.5 198.1L158.5 198.0L162.5 198.1L167.5 198.0L170.5 197.7L172.0 197.3L173.0 196.9L173.5 196.5L174.0 195.8L174.5 194.6L175.0 192.6L175.5 189.5L176.5 181.4L177.0 178.8L177.5 178.7L178.0 180.3L178.5 181.1L179.0 180.1L180.0 174.1L180.5 173.7L181.0 176.9L182.0 187.5L182.5 191.5L183.0 194.3L183.5 195.9L184.0 196.8L185.0 197.6L186.5 198.0L188.5 198.2L190.0 198.1L191.0 197.7L191.5 197.2L192.0 196.1L192.5 194.4L194.0 186.5L194.5 185.8L195.0 187.5L196.5 195.6L197.0 197.1L197.5 197.9L198.0 198.4L198.5 198.7L199.5 198.9L201.0 198.9L205.0 198.3L206.0 198.0L206.5 197.7L207.0 197.1L207.5 196.0L208.0 193.9L208.5 190.5L210.0 176.4L210.5 176.0L211.0 179.5L212.0 189.8L212.5 193.6L213.0 196.0L213.5 197.4L214.0 198.2L215.0 198.9L216.0 199.2L218.5 199.3L221.0 199.2L222.0 198.7L223.5 197.4L224.0 197.5L226.0 199.6L227.0 200.1L228.0 200.2L231.5 200.2L247.0 200.7L253.0 200.6L259.0 200.9L263.0 201.0L266.5 201.3L270.5 201.0L275.0 201.2L283.0 201.2L284.5 201.0L285.5 200.5L286.0 200.0L287.5 197.0L288.0 196.4L288.5 196.7L290.0 199.9L290.5 200.5L291.0 200.9L292.0 201.2L298.0 201.2L304.0 200.5L306.5 199.9L307.5 199.5L308.5 198.9L309.5 197.9L310.5 196.5L311.5 194.3L312.0 192.6L312.5 190.1L313.0 185.9L313.5 178.5L314.0 165.4L314.5 143.8L316.0 34.0L316.5 11.6L317.0 18.9L318.5 128.2L319.0 155.2L319.5 172.6L320.0 182.7L320.5 188.4L321.0 191.7L321.5 193.8L322.0 195.2L323.0 197.2L324.0 198.5L325.5 199.7L327.0 200.4L332.5 201.7L335.5 202.1L344.5 202.3L347.0 202.2L348.0 202.0L349.0 201.5L349.5 200.8L351.0 197.5L351.5 197.1L352.0 197.6L353.5 200.8L354.0 201.4L354.5 201.8L355.5 202.1L360.0 202.6L362.5 202.5L368.0 201.5L369.5 200.8L370.5 199.9L371.0 199.1L371.5 198.0L372.0 196.0L372.5 192.6L373.0 186.5L373.5 176.7L374.0 162.9L375.0 130.9L375.5 123.8L376.0 129.4L377.5 175.2L378.0 185.6L378.5 192.1L379.0 195.8L379.5 197.9L380.0 199.1L380.5 199.9L381.5 200.8L383.5 201.7L386.0 202.4L388.0 202.8L393.5 203.3L395.5 203.4L401.5 203.4L407.0 203.0L408.0 202.9L408.5 202.6L409.0 202.2L409.5 201.4L411.0 198.0L411.5 197.8L412.0 198.6L413.0 201.1L413.5 202.1L414.0 202.7L414.5 203.1L415.0 203.2L416.0 203.1L416.5 202.9L417.0 202.5L417.5 201.6L418.0 200.2L419.5 194.1L420.0 193.7L420.5 194.9L422.0 201.0L422.5 202.1L423.0 202.7L423.5 203.1L424.5 203.4L428.5 203.8L432.5 204.0L443.5 204.3L448.0 204.3L463.5 204.8L473.0 204.4L477.0 204.9L478.5 204.6L480.0 203.8L480.5 203.7L481.0 203.7L483.0 204.6L484.0 204.8L488.5 205.1L491.0 205.1L491.1 212.1Z"/>
<path d="M311.0 195.6L311.5 194.3L312.0 192.6L312.5 190.1L313.0 185.9L313.5 178.5L314.0 165.4L314.5 143.8L315.0 112.2L316.0 34.0L316.5 11.6L317.0 18.9L318.5 128.2L319.0 155.2L319.5 172.6L320.0 182.7L320.5 188.4L321.0 191.7L321.5 193.8L322.0 195.2L322.5 196.3M371.5 198.0L372.0 196.0L372.5 192.6L373.0 186.5L373.5 176.7L374.0 162.9L375.0 130.9L375.5 123.8L376.0 129.4L377.5 175.2L378.0 185.6L378.5 192.1L379.0 195.8L379.5 197.9" fill="none" stroke="#000" stroke-width="1.25"/>
<path d="M174.0 195.8L174.5 194.6L175.0 192.6L175.5 189.5L176.5 181.4L177.0 178.8L177.5 178.7M178.5 181.1L179.0 180.1L180.0 174.1L180.5 173.7M191.5 197.2L192.0 196.1L192.5 194.4L194.0 186.5L194.5 185.8M207.0 197.1L207.5 196.0L208.0 193.9L208.5 190.5L209.5 180.4L210.0 176.4L210.5 176.0M286.5 199.1L287.5 197.0L288.0 196.4M309.5 197.9L310.5 196.5L311.0 195.6M349.5 200.8L351.0 197.5L351.5 197.1M370.0 200.4L370.5 199.9L371.0 199.1L371.5 198.0M409.5 201.4L411.0 198.0L411.5 197.8M417.5 201.6L418.0 200.2L419.5 194.1L420.0 193.7" fill="none" stroke="#1a1a1a" stroke-width="0.95"/>
<path d="M86.9 214.0L86.9 195.4L93.9 196.4L104.9 197.5L109.9 197.6L122.9 198.7L127.9 198.8L138.4 199.5L144.9 199.2L149.9 199.8L156.4 199.8L161.9 200.2L170.4 200.0L171.9 199.9L172.9 199.6L173.9 199.0L174.4 198.3L174.9 197.1L175.4 195.1L175.9 192.1L176.9 184.3L177.4 181.8L177.9 181.7L178.4 183.2L178.9 184.0L179.4 183.1L180.4 177.7L180.9 177.3L181.4 180.3L182.4 190.0L182.9 193.8L183.4 196.3L183.9 197.8L184.4 198.7L185.4 199.6L186.9 200.1L188.4 200.2L190.4 200.0L191.4 199.5L191.9 198.9L192.4 197.8L192.9 196.0L194.4 187.6L194.9 186.8L195.4 188.5L196.9 196.9L197.4 198.5L197.9 199.5L198.4 200.0L198.9 200.3L199.9 200.6L201.4 200.7L204.9 200.7L205.9 200.4L206.9 199.9L207.4 199.3L207.9 198.3L208.4 196.4L208.9 193.5L210.4 181.4L210.9 181.0L211.4 184.1L212.4 192.9L212.9 196.1L213.4 198.1L213.9 199.3L214.4 200.0L215.4 200.6L216.4 200.8L219.9 201.2L221.4 201.2L222.4 200.8L223.9 199.5L224.4 199.5L224.9 199.9L225.9 201.0L226.9 201.7L227.9 202.0L229.4 202.2L236.9 202.2L244.4 202.7L250.9 202.5L256.9 202.9L267.9 203.0L273.4 202.8L281.4 203.2L284.4 202.9L285.4 202.6L285.9 202.4L286.4 201.9L286.9 201.2L288.4 198.1L288.9 198.0L289.4 198.7L290.4 201.0L290.9 201.9L291.4 202.4L291.9 202.8L292.9 203.0L294.4 203.1L300.4 203.1L304.4 202.6L305.9 202.3L306.9 201.9L308.9 200.7L309.9 199.8L310.9 198.4L311.9 196.3L312.4 194.7L312.9 192.3L313.4 188.3L313.9 181.3L314.4 168.9L314.9 148.2L316.4 39.1L316.9 14.2L317.4 18.3L318.9 126.7L319.4 154.8L319.9 173.0L320.4 183.8L320.9 189.9L321.4 193.4L321.9 195.5L322.4 197.1L322.9 198.2L323.9 199.7L325.4 201.0L327.4 202.0L332.4 203.6L334.9 204.0L339.9 204.0L347.4 204.4L348.4 204.4L349.4 203.9L349.9 203.3L350.4 202.3L351.4 199.8L351.9 198.9L352.4 199.1L353.9 202.5L354.4 203.3L354.9 203.7L355.9 204.1L358.9 204.4L360.9 204.4L366.9 203.9L368.4 203.5L369.4 203.1L370.4 202.5L370.9 202.0L371.4 201.2L371.9 200.2L372.4 198.3L372.9 195.1L373.4 189.3L373.9 179.9L374.4 166.4L375.4 134.0L375.9 125.7L376.4 130.0L377.9 175.7L378.4 186.5L378.9 193.3L379.4 197.2L379.9 199.4L380.4 200.7L380.9 201.5L382.4 203.0L383.9 203.9L385.4 204.3L390.9 204.9L394.4 205.1L397.9 205.6L399.9 205.6L407.9 205.3L408.9 205.0L409.4 204.8L409.9 204.3L410.4 203.5L411.9 200.0L412.4 199.6L412.9 200.3L414.4 203.7L414.9 204.3L415.9 204.9L416.9 204.9L417.4 204.7L417.9 204.4L418.4 203.6L418.9 202.3L420.4 196.4L420.9 195.9L421.4 197.1L422.9 203.0L423.4 204.2L423.9 204.8L424.4 205.2L425.9 205.6L429.4 205.9L433.9 206.0L439.4 206.4L443.4 206.3L451.9 206.6L462.4 206.4L472.4 206.7L477.9 206.5L478.9 206.2L480.4 205.5L480.9 205.4L481.4 205.6L482.9 206.6L484.4 207.1L486.4 207.3L491.4 206.9L491.5 214.0Z"/>
<path d="M311.4 197.5L311.9 196.3L312.4 194.7L312.9 192.3L313.4 188.3L313.9 181.3L314.4 168.9L314.9 148.2L315.4 117.6L316.4 39.1L316.9 14.2L317.4 18.3L317.9 48.8L318.9 126.7L319.4 154.8L319.9 173.0L320.4 183.8L320.9 189.9L321.4 193.4L321.9 195.5L322.4 197.1L322.9 198.2M372.4 198.3L372.9 195.1L373.4 189.3L373.9 179.9L375.4 134.0L375.9 125.7L376.4 130.0L377.9 175.7L378.4 186.5L378.9 193.3L379.4 197.2L379.9 199.4" fill="none" stroke="#000" stroke-width="1.25"/>
<path d="M174.4 198.3L174.9 197.1L175.4 195.1L175.9 192.1L176.9 184.3L177.4 181.8L177.9 181.7M178.9 184.0L179.4 183.1L180.4 177.7L180.9 177.3M191.9 198.9L192.4 197.8L192.9 196.0L194.4 187.6L194.9 186.8M207.4 199.3L207.9 198.3L208.4 196.4L208.9 193.5L209.9 184.8L210.4 181.4L210.9 181.0M286.9 201.2L288.4 198.1M309.9 199.8L310.9 198.4L311.4 197.5M350.4 202.3L351.4 199.8L351.9 198.9M370.4 202.5L370.9 202.0L371.4 201.2L371.9 200.2L372.4 198.3M410.4 203.5L411.9 200.0L412.4 199.6M418.4 203.6L418.9 202.3L420.4 196.4L420.9 195.9" fill="none" stroke="#1a1a1a" stroke-width="0.95"/>
<path d="M87.4 216.0L87.4 197.1L92.9 198.0L98.9 198.8L108.9 199.5L114.9 200.3L119.4 200.2L123.9 200.8L130.4 200.8L144.9 201.6L155.9 201.7L168.9 202.3L171.4 202.2L172.9 201.7L173.9 201.2L174.4 200.8L174.9 200.2L175.4 199.1L175.9 197.3L176.4 194.6L177.4 187.6L177.9 185.3L178.4 185.1L178.9 186.1L179.4 186.4L179.9 184.9L180.9 178.5L181.4 178.0L181.9 181.2L182.9 191.7L183.4 195.8L183.9 198.4L184.4 200.0L184.9 200.8L185.9 201.5L186.9 201.8L189.4 202.1L190.9 202.0L191.9 201.5L192.4 200.8L192.9 199.5L193.4 197.4L194.9 187.7L195.4 186.9L195.9 188.8L197.4 198.4L197.9 200.2L198.4 201.3L198.9 201.9L199.9 202.5L201.4 202.9L202.9 203.1L204.4 203.1L205.4 202.9L206.4 202.6L207.4 202.0L207.9 201.4L208.4 200.3L208.9 198.4L209.4 195.3L210.9 182.8L211.4 182.4L211.9 185.6L212.9 194.9L213.4 198.3L213.9 200.5L214.4 201.7L214.9 202.4L215.9 203.0L216.9 203.2L219.4 203.4L221.9 203.3L222.9 202.8L224.4 201.4L224.9 201.4L226.9 203.4L227.4 203.6L228.4 203.8L231.9 203.9L237.4 204.4L244.4 204.5L248.9 204.8L257.4 204.6L264.4 205.0L280.4 205.2L285.4 204.9L286.4 204.7L286.9 204.4L287.4 203.9L288.9 201.0L289.4 200.5L289.9 200.9L291.4 203.8L291.9 204.4L292.4 204.7L293.9 205.0L298.4 204.9L302.4 205.1L303.9 204.9L305.9 204.4L308.4 203.5L309.9 202.6L310.9 201.6L311.9 200.0L312.9 197.2L313.4 194.9L313.9 191.1L314.4 184.4L314.9 172.5L315.4 152.7L315.9 122.9L316.9 44.2L317.4 16.9L317.9 17.8L318.4 46.4L319.4 125.0L319.9 154.1L320.4 173.4L320.9 184.9L321.4 191.3L321.9 195.0L322.4 197.4L322.9 199.0L323.9 201.2L324.9 202.6L325.9 203.5L326.9 204.0L327.9 204.4L329.9 204.8L332.4 205.3L337.9 205.9L344.4 206.5L348.4 206.3L349.4 206.1L349.9 205.9L350.4 205.5L350.9 204.8L352.4 201.6L352.9 201.4L353.4 202.0L354.9 205.1L355.4 205.7L356.4 206.1L360.4 206.2L363.4 206.4L367.4 206.1L368.9 205.8L369.9 205.4L370.9 204.6L371.4 204.1L371.9 203.3L372.4 202.2L372.9 200.4L373.4 197.2L373.9 191.7L374.4 182.6L375.9 136.6L376.4 127.2L376.9 130.2L378.4 176.0L378.9 187.3L379.4 194.6L379.9 198.9L380.4 201.3L380.9 202.7L381.4 203.7L381.9 204.3L382.9 205.2L383.9 205.7L385.4 206.2L387.4 206.7L389.4 207.0L392.9 207.2L396.4 207.0L403.4 207.5L408.4 207.3L409.9 206.9L410.4 206.6L410.9 206.1L411.4 205.2L412.9 201.3L413.4 200.8L413.9 201.6L414.9 204.4L415.4 205.5L415.9 206.2L416.4 206.6L416.9 206.8L417.9 206.8L418.4 206.6L418.9 206.2L419.4 205.5L419.9 204.2L421.4 198.3L421.9 197.7L422.4 198.8L423.4 203.2L423.9 205.0L424.4 206.2L424.9 206.9L425.4 207.4L426.4 207.8L427.4 208.0L438.9 208.1L443.4 208.1L447.4 208.4L453.9 208.6L458.4 208.5L463.9 208.7L468.4 208.5L472.4 208.7L478.9 208.4L481.4 207.5L481.9 207.7L483.4 208.4L484.4 208.7L491.9 208.7L492.0 216.0Z"/>
<path d="M311.9 200.0L312.4 198.8L312.9 197.2L313.4 194.9L313.9 191.1L314.4 184.4L314.9 172.5L315.4 152.7L315.9 122.9L316.9 44.2L317.4 16.9L317.9 17.8L318.4 46.4L319.4 125.0L319.9 154.1L320.4 173.4L320.9 184.9L321.4 191.3L321.9 195.0L322.4 197.4L322.9 199.0L323.4 200.2M372.9 200.4L373.4 197.2L373.9 191.7L374.4 182.6L374.9 169.4L375.9 136.6L376.4 127.2L376.9 130.2L378.4 176.0L378.9 187.3L379.4 194.6L379.9 198.9L380.4 201.3" fill="none" stroke="#000" stroke-width="1.25"/>
<path d="M174.9 200.2L175.4 199.1L175.9 197.3L176.4 194.6L177.4 187.6L177.9 185.3L178.4 185.1L178.9 186.1L179.4 186.4L179.9 184.9L180.9 178.5L181.4 178.0M192.4 200.8L192.9 199.5L193.4 197.4L194.9 187.7L195.4 186.9M207.9 201.4L208.4 200.3L208.9 198.4L209.4 195.3L210.4 186.3L210.9 182.8L211.4 182.4M287.9 203.1L288.9 201.0L289.4 200.5M310.4 202.2L311.4 200.9L311.9 200.0M350.9 204.8L352.4 201.6L352.9 201.4M370.9 204.6L371.4 204.1L371.9 203.3L372.4 202.2L372.9 200.4M411.4 205.2L412.9 201.3L413.4 200.8M419.4 205.5L419.9 204.2L421.4 198.3L421.9 197.7" fill="none" stroke="#1a1a1a" stroke-width="0.95"/>
<path d="M87.8 217.9L87.8 199.4L91.8 200.1L96.3 200.3L104.8 201.5L118.8 202.3L124.8 203.0L136.8 203.0L147.3 203.8L152.8 203.9L166.8 203.7L171.3 203.9L173.3 203.7L174.3 203.2L174.8 202.9L175.3 202.2L175.8 200.9L176.3 198.9L176.8 195.8L177.8 187.6L178.3 184.9L178.8 184.6L179.3 185.6L179.8 185.8L180.3 183.9L181.3 176.3L181.8 175.6L182.3 179.2L183.3 191.4L183.8 196.1L184.3 199.2L184.8 201.0L185.3 202.1L185.8 202.6L186.8 203.2L188.3 203.7L189.8 203.9L191.3 203.8L192.3 203.3L192.8 202.7L193.3 201.5L193.8 199.6L195.3 190.7L195.8 189.9L196.3 191.7L197.8 200.7L198.3 202.4L198.8 203.3L199.3 203.9L200.3 204.4L203.3 205.0L205.8 205.0L206.8 204.7L207.8 204.2L208.3 203.6L208.8 202.5L209.3 200.6L209.8 197.4L211.3 184.6L211.8 184.2L212.3 187.3L213.3 196.6L213.8 200.0L214.3 202.2L214.8 203.5L215.3 204.2L216.3 204.8L217.3 205.0L220.3 205.3L222.3 205.2L223.3 204.7L224.8 203.3L225.3 203.3L225.8 203.7L226.8 204.8L227.8 205.6L228.8 205.8L230.3 206.0L236.8 206.4L243.8 206.3L252.8 206.7L258.8 206.7L263.8 207.0L266.8 207.0L270.3 207.2L276.3 207.0L280.3 207.3L283.8 207.3L285.8 207.1L286.8 206.9L287.3 206.6L287.8 206.2L288.3 205.4L289.8 202.6L290.3 202.5L290.8 203.3L291.8 205.4L292.3 206.2L292.8 206.6L293.3 206.9L294.3 207.2L296.8 207.4L299.3 207.2L305.3 206.4L308.3 205.4L310.3 204.3L311.3 203.3L312.3 201.8L313.3 199.3L313.8 197.1L314.3 193.5L314.8 187.3L315.3 176.2L315.8 157.3L316.3 128.5L317.3 49.9L317.8 20.4L318.3 18.2L318.8 44.6L319.8 123.7L320.3 154.0L320.8 174.2L321.3 186.4L321.8 193.2L322.3 197.0L322.8 199.3L323.3 200.9L324.3 202.9L325.3 204.2L326.3 205.1L327.8 206.2L328.8 206.7L330.3 207.1L338.8 208.1L343.8 208.1L347.8 208.5L348.8 208.4L349.8 208.2L350.8 207.6L351.3 206.9L351.8 205.9L352.8 203.5L353.3 202.9L353.8 203.2L355.3 206.5L355.8 207.2L356.8 207.9L359.3 208.4L361.3 208.6L363.8 208.4L368.8 207.7L369.8 207.4L370.8 206.9L371.8 206.0L372.3 205.3L372.8 204.3L373.3 202.6L373.8 199.6L374.3 194.4L374.8 185.7L375.3 172.8L376.3 139.8L376.8 129.3L377.3 131.0L378.8 176.6L379.3 188.4L379.8 196.2L380.3 200.7L380.8 203.3L381.3 204.7L381.8 205.7L382.8 206.7L383.8 207.4L385.3 207.9L394.3 209.4L404.3 209.6L407.3 209.5L410.3 209.1L411.3 208.7L411.8 208.3L412.3 207.5L413.8 204.0L414.3 203.6L414.8 204.2L415.8 206.8L416.3 207.8L416.8 208.5L417.3 208.8L417.8 209.0L418.8 209.0L419.3 208.8L419.8 208.5L420.3 207.8L420.8 206.6L422.3 201.0L422.8 200.3L423.3 201.2L424.3 205.2L424.8 206.9L425.3 208.0L425.8 208.7L426.3 209.0L427.3 209.4L428.3 209.6L436.3 210.2L439.8 210.4L456.8 210.2L472.3 210.7L475.8 210.7L478.3 210.8L479.8 210.6L481.8 209.7L482.3 209.7L483.8 210.4L484.8 210.6L492.3 210.7L492.4 217.9Z"/>
<path d="M312.3 201.8L312.8 200.7L313.3 199.3L313.8 197.1L314.3 193.5L314.8 187.3L315.3 176.2L315.8 157.3L316.3 128.5L317.3 49.9L317.8 20.4L318.3 18.2L318.8 44.6L319.8 123.7L320.3 154.0L320.8 174.2L321.3 186.4L321.8 193.2L322.3 197.0L322.8 199.3L323.3 200.9L323.8 202.0M373.3 202.6L373.8 199.6L374.3 194.4L374.8 185.7L375.3 172.8L376.3 139.8L376.8 129.3L377.3 131.0L377.8 143.8L378.8 176.6L379.3 188.4L379.8 196.2L380.3 200.7L380.8 203.3" fill="none" stroke="#000" stroke-width="1.25"/>
<path d="M175.3 202.2L175.8 200.9L176.3 198.9L176.8 195.8L177.8 187.6L178.3 184.9L178.8 184.6L179.3 185.6L179.8 185.8L180.3 183.9L181.3 176.3L181.8 175.6M192.8 202.7L193.3 201.5L193.8 199.6L195.3 190.7L195.8 189.9M208.8 202.5L209.3 200.6L209.8 197.4L210.8 188.2L211.3 184.6L211.8 184.2M288.3 205.4L289.3 203.4L289.8 202.6M311.3 203.3L312.3 201.8M351.8 205.9L352.8 203.5L353.3 202.9M371.8 206.0L372.3 205.3L372.8 204.3L373.3 202.6M412.3 207.5L413.8 204.0L414.3 203.6M420.3 207.8L420.8 206.6L422.3 201.0L422.8 200.3" fill="none" stroke="#1a1a1a" stroke-width="0.95"/>
<path d="M88.3 219.9L88.3 201.0L94.3 201.7L99.3 202.7L102.3 202.8L111.8 203.6L119.3 204.0L125.3 204.8L129.3 204.7L133.8 205.1L138.3 205.1L155.8 205.8L161.8 205.7L165.8 205.8L171.3 205.6L172.8 205.4L173.8 205.2L174.8 204.7L175.3 204.3L175.8 203.6L176.3 202.4L176.8 200.4L177.3 197.4L178.3 189.4L178.8 186.9L179.3 186.9L179.8 188.5L180.3 189.5L180.8 188.7L181.8 183.4L182.3 183.0L182.8 186.1L183.8 195.8L184.3 199.6L184.8 202.2L185.3 203.7L185.8 204.5L186.8 205.3L188.3 205.8L190.3 206.0L191.8 205.9L192.8 205.5L193.3 205.0L193.8 203.9L194.3 202.2L195.8 194.3L196.3 193.6L196.8 195.2L198.3 203.1L198.8 204.6L199.3 205.4L199.8 205.8L200.8 206.2L204.8 206.6L206.8 206.5L207.8 206.2L208.3 205.8L208.8 205.2L209.3 204.1L209.8 202.1L210.3 199.0L211.8 186.0L212.3 185.6L212.8 188.8L213.8 198.3L214.3 201.8L214.8 204.0L215.3 205.3L215.8 206.0L216.8 206.6L217.8 206.9L220.8 207.1L222.8 207.0L223.8 206.4L225.3 204.9L225.8 204.9L227.3 206.4L228.3 207.1L234.3 207.8L238.3 208.0L243.3 208.3L246.8 208.3L249.8 208.5L252.8 208.3L257.3 208.7L263.8 208.6L267.8 209.1L272.3 209.1L281.3 209.0L287.3 208.6L288.3 208.2L288.8 207.7L290.3 204.9L290.8 204.5L291.3 204.9L292.3 206.9L292.8 207.8L293.3 208.3L293.8 208.6L294.8 208.9L302.8 208.9L305.8 208.6L308.3 207.9L309.3 207.5L310.3 206.8L311.8 205.2L312.8 203.7L313.8 201.1L314.3 199.0L314.8 195.6L315.3 189.7L315.8 179.1L316.3 161.1L316.8 133.2L318.3 23.3L318.8 17.8L319.3 42.0L320.8 152.7L321.3 174.0L321.8 186.9L322.3 194.2L322.8 198.3L323.3 200.8L323.8 202.4L324.8 204.6L325.8 206.0L326.8 206.9L327.8 207.7L329.3 208.4L330.8 208.9L332.3 209.1L337.3 209.2L342.3 210.0L344.3 210.2L349.8 209.9L350.8 209.7L351.3 209.4L351.8 208.9L352.3 208.1L353.3 205.9L353.8 205.1L354.3 205.2L355.8 208.4L356.3 209.1L356.8 209.6L357.3 209.9L358.3 210.1L364.8 210.2L366.3 210.1L367.8 209.9L369.3 209.4L370.8 208.7L371.8 208.0L372.8 206.9L373.3 205.9L373.8 204.4L374.3 201.6L374.8 196.7L375.3 188.4L375.8 175.8L376.8 142.7L377.3 131.2L377.8 131.5L378.3 143.6L379.3 176.9L379.8 189.2L380.3 197.4L380.8 202.2L381.3 205.0L381.8 206.5L382.3 207.5L382.8 208.1L383.8 208.9L385.3 209.7L387.3 210.3L392.3 211.1L398.8 211.1L402.3 211.3L407.3 211.2L411.3 211.3L412.3 211.0L412.8 210.6L413.3 209.9L413.8 208.8L414.8 206.3L415.3 205.8L415.8 206.3L416.8 208.7L417.3 209.8L417.8 210.4L418.3 210.8L418.8 210.9L419.8 210.9L420.3 210.7L420.8 210.3L421.3 209.6L421.8 208.5L422.3 206.7L423.3 202.7L423.8 201.9L424.3 202.8L425.3 206.9L425.8 208.7L426.3 209.8L426.8 210.5L427.3 210.9L428.8 211.3L434.8 212.0L448.8 212.3L452.8 212.2L457.8 212.5L463.3 212.2L467.8 212.6L471.8 212.6L475.3 212.7L479.3 212.4L480.3 212.1L481.8 211.5L482.3 211.4L482.8 211.6L484.3 212.5L485.3 212.8L489.8 212.7L492.8 212.8L492.9 219.9Z"/>
<path d="M312.8 203.7L313.3 202.6L313.8 201.1L314.3 199.0L314.8 195.6L315.3 189.7L315.8 179.1L316.3 161.1L316.8 133.2L317.8 54.8L318.3 23.3L318.8 17.8L319.3 42.0L320.3 121.3L320.8 152.7L321.3 174.0L321.8 186.9L322.3 194.2L322.8 198.3L323.3 200.8L323.8 202.4L324.3 203.6M373.8 204.4L374.3 201.6L374.8 196.7L375.3 188.4L375.8 175.8L376.8 142.7L377.3 131.2L377.8 131.5L378.3 143.6L379.3 176.9L379.8 189.2L380.3 197.4L380.8 202.2L381.3 205.0" fill="none" stroke="#000" stroke-width="1.25"/>
<path d="M175.8 203.6L176.3 202.4L176.8 200.4L177.3 197.4L178.3 189.4L178.8 186.9L179.3 186.9M180.3 189.5L180.8 188.7L181.8 183.4L182.3 183.0M193.3 205.0L193.8 203.9L194.3 202.2L195.8 194.3L196.3 193.6M208.8 205.2L209.3 204.1L209.8 202.1L210.3 199.0L211.3 189.7L211.8 186.0L212.3 185.6M289.3 206.9L290.3 204.9L290.8 204.5M311.3 205.8L312.3 204.5L312.8 203.7M352.3 208.1L353.3 205.9L353.8 205.1M372.3 207.5L372.8 206.9L373.3 205.9L373.8 204.4M413.8 208.8L414.8 206.3L415.3 205.8M421.3 209.6L421.8 208.5L422.3 206.7L423.3 202.7L423.8 201.9" fill="none" stroke="#1a1a1a" stroke-width="0.95"/>
<path d="M88.8 221.8L88.8 202.5L93.8 203.4L100.8 204.2L109.3 205.0L114.8 205.1L123.3 206.0L128.8 206.0L137.8 206.8L142.8 206.7L148.8 207.2L156.3 207.3L160.3 207.6L162.8 207.6L166.3 207.3L170.8 207.6L173.3 207.4L174.8 206.9L175.8 206.3L176.3 205.6L176.8 204.4L177.3 202.4L177.8 199.3L178.8 191.3L179.3 188.6L179.8 188.5L180.3 190.0L180.8 190.8L181.3 189.8L182.3 184.1L182.8 183.7L183.3 186.8L184.3 197.0L184.8 200.9L185.3 203.5L185.8 205.1L186.3 206.0L186.8 206.5L187.8 207.0L189.3 207.4L191.3 207.6L192.3 207.5L193.3 207.1L193.8 206.6L194.3 205.5L194.8 203.8L196.3 195.8L196.8 195.1L197.3 196.7L198.8 204.6L199.3 206.0L199.8 206.9L200.3 207.3L201.3 207.8L203.3 208.2L204.8 208.4L206.3 208.4L207.3 208.2L208.3 207.9L208.8 207.5L209.3 207.0L209.8 205.9L210.3 204.1L210.8 201.1L212.3 188.8L212.8 188.5L213.3 191.5L214.3 200.4L214.8 203.6L215.3 205.7L215.8 206.9L216.3 207.5L217.3 208.1L218.3 208.3L221.3 208.8L223.3 208.7L224.3 208.2L225.8 206.9L226.3 206.9L227.8 208.2L228.8 208.8L236.8 209.9L246.8 209.9L254.8 210.3L258.8 210.3L263.3 210.1L271.3 210.7L275.8 210.5L279.3 210.6L283.3 210.4L286.8 210.5L288.3 210.3L288.8 210.0L289.3 209.5L291.3 205.9L291.8 205.9L293.3 208.9L293.8 209.6L294.3 210.0L294.8 210.3L295.8 210.5L300.8 210.8L303.3 210.6L309.3 209.4L310.3 209.0L311.3 208.3L312.3 207.3L313.3 205.7L314.3 203.2L314.8 201.2L315.3 197.9L315.8 192.3L316.3 182.3L316.8 165.1L317.3 138.1L318.8 26.8L319.3 18.1L319.8 39.8L321.3 151.6L321.8 174.0L322.3 187.6L322.8 195.4L323.3 199.8L323.8 202.4L324.8 205.4L325.3 206.4L326.3 207.8L327.3 208.7L328.3 209.4L329.3 209.9L330.8 210.4L338.8 211.6L344.3 211.9L349.3 211.9L350.8 211.7L351.8 211.3L352.3 210.9L352.8 210.2L354.3 206.9L354.8 206.6L355.3 207.1L356.3 209.4L356.8 210.3L357.3 210.9L358.3 211.4L359.8 211.7L362.3 211.9L366.8 211.8L368.8 211.5L370.3 211.1L371.3 210.7L372.3 210.0L373.3 208.9L373.8 208.0L374.3 206.5L374.8 203.8L375.3 199.1L375.8 191.2L376.3 179.0L377.3 145.7L377.8 133.2L378.3 132.2L378.8 143.3L379.8 176.8L380.3 189.6L380.8 198.2L381.3 203.3L381.8 206.2L382.3 207.9L382.8 208.9L383.3 209.6L384.3 210.6L385.3 211.2L386.3 211.7L387.8 212.1L389.3 212.3L397.8 212.9L402.3 212.8L406.3 213.3L408.3 213.2L412.3 212.9L413.3 212.6L413.8 212.2L414.3 211.6L415.8 208.4L416.3 207.9L416.8 208.4L417.8 210.8L418.3 211.8L418.8 212.5L419.3 212.9L419.8 213.1L420.8 213.0L421.3 212.9L421.8 212.5L422.3 211.8L422.8 210.6L423.3 208.9L424.3 204.7L424.8 203.8L425.3 204.6L426.3 208.5L426.8 210.2L427.3 211.4L427.8 212.1L428.3 212.5L429.3 212.9L430.3 213.1L437.8 213.7L442.8 213.6L447.8 214.0L456.8 214.1L466.3 214.4L471.3 214.1L476.3 214.2L479.8 214.1L480.8 213.9L482.3 213.2L482.8 213.1L483.3 213.2L484.8 213.9L485.8 214.1L493.3 214.4L493.4 221.8Z"/>
<path d="M313.3 205.7L313.8 204.7L314.3 203.2L314.8 201.2L315.3 197.9L315.8 192.3L316.3 182.3L316.8 165.1L317.3 138.1L318.8 26.8L319.3 18.1L319.8 39.8L320.8 119.0L321.3 151.6L321.8 174.0L322.3 187.6L322.8 195.4L323.3 199.8L323.8 202.4L324.3 204.2L324.8 205.4M374.3 206.5L374.8 203.8L375.3 199.1L375.8 191.2L376.3 179.0L377.3 145.7L377.8 133.2L378.3 132.2L378.8 143.3L379.8 176.8L380.3 189.6L380.8 198.2L381.3 203.3L381.8 206.2" fill="none" stroke="#000" stroke-width="1.25"/>
<path d="M176.3 205.6L176.8 204.4L177.3 202.4L177.8 199.3L178.8 191.3L179.3 188.6L179.8 188.5M180.8 190.8L181.3 189.8L182.3 184.1L182.8 183.7M193.8 206.6L194.3 205.5L194.8 203.8L196.3 195.8L196.8 195.1M209.3 207.0L209.8 205.9L210.3 204.1L210.8 201.1L211.8 192.3L212.3 188.8L212.8 188.5M289.8 208.8L290.8 206.6L291.3 205.9M311.8 207.9L312.8 206.6L313.3 205.7M352.8 210.2L354.3 206.9L354.8 206.6M372.8 209.5L373.3 208.9L373.8 208.0L374.3 206.5M414.3 211.6L415.8 208.4L416.3 207.9M422.3 211.8L422.8 210.6L423.3 208.9L424.3 204.7L424.8 203.8" fill="none" stroke="#1a1a1a" stroke-width="0.95"/>
<path d="M89.2 223.8L89.2 204.7L96.7 206.2L103.7 206.7L111.7 207.7L117.7 207.6L129.7 208.2L133.7 208.7L139.7 209.1L152.2 209.5L157.2 209.5L162.7 209.8L166.7 209.7L173.7 209.4L175.2 208.9L176.2 208.3L176.7 207.6L177.2 206.5L177.7 204.6L178.2 201.7L179.2 194.0L179.7 191.5L180.2 191.3L180.7 192.5L181.2 193.0L181.7 191.6L182.7 185.3L183.2 184.8L183.7 188.1L184.7 198.9L185.2 203.1L185.7 205.9L186.2 207.6L186.7 208.5L187.7 209.4L189.2 209.8L191.2 210.0L192.7 209.8L193.7 209.3L194.2 208.7L194.7 207.7L195.2 206.0L196.7 198.3L197.2 197.6L197.7 199.1L199.2 206.9L199.7 208.4L200.2 209.3L200.7 209.8L201.2 210.0L202.2 210.4L203.2 210.5L207.2 210.4L208.2 210.2L209.2 209.8L209.7 209.3L210.2 208.3L210.7 206.6L211.2 203.7L212.7 192.0L213.2 191.7L213.7 194.5L214.7 202.9L215.2 206.0L215.7 208.0L216.2 209.1L216.7 209.7L217.7 210.4L219.2 210.8L221.7 211.1L223.7 211.0L224.7 210.6L226.2 209.4L226.7 209.4L228.7 211.2L229.7 211.6L231.2 211.8L236.7 212.1L240.7 211.9L250.2 212.1L254.7 212.7L258.7 212.6L263.7 212.7L272.7 213.0L277.2 212.8L281.7 213.1L287.7 213.0L288.7 212.8L289.2 212.6L289.7 212.2L290.2 211.5L291.7 208.4L292.2 208.0L292.7 208.5L294.2 211.5L294.7 212.1L295.2 212.4L296.2 212.6L300.2 212.4L304.2 212.6L306.2 212.4L307.7 212.1L309.2 211.7L310.7 211.0L311.7 210.2L312.7 209.3L313.7 207.8L314.7 205.4L315.2 203.4L315.7 200.4L316.2 195.1L316.7 185.7L317.2 169.4L317.7 143.5L319.2 31.3L319.7 19.5L320.2 38.5L321.7 151.0L322.2 174.4L322.7 188.8L323.2 197.0L323.7 201.6L324.2 204.3L325.2 207.5L325.7 208.5L326.7 209.9L327.7 210.9L329.2 211.9L330.7 212.5L332.2 213.0L339.2 213.8L345.7 213.9L349.7 214.2L351.7 214.0L352.7 213.4L353.2 212.8L353.7 211.9L354.7 209.5L355.2 208.8L355.7 209.0L357.2 212.3L357.7 213.1L358.2 213.5L358.7 213.8L359.7 214.1L365.2 214.2L370.2 213.7L371.2 213.4L372.2 212.9L373.2 212.0L373.7 211.3L374.2 210.4L374.7 208.9L375.2 206.3L375.7 201.7L376.2 194.0L376.7 182.2L378.2 135.4L378.7 133.0L379.2 143.3L380.7 190.4L381.2 199.5L381.7 205.0L382.2 208.1L382.7 209.9L383.7 211.8L385.2 213.3L386.2 213.8L387.2 214.2L390.2 214.6L394.2 214.9L399.2 214.9L403.2 215.3L406.7 215.5L410.2 215.4L413.2 215.0L414.2 214.6L414.7 214.2L415.2 213.6L415.7 212.7L416.7 210.5L417.2 210.0L417.7 210.4L419.2 213.6L419.7 214.3L420.2 214.6L420.7 214.8L421.7 214.9L422.2 214.8L422.7 214.5L423.2 213.9L423.7 212.8L425.2 206.9L425.7 205.9L426.2 206.6L427.7 212.5L428.2 213.8L428.7 214.5L429.2 214.9L430.7 215.3L433.2 215.6L444.2 216.0L447.7 216.0L452.2 215.7L456.7 216.0L460.7 215.9L464.7 216.2L468.2 216.3L472.2 216.7L476.2 216.3L480.2 216.4L481.2 216.2L482.7 215.6L483.2 215.5L485.2 216.3L486.2 216.5L491.2 216.7L493.7 216.7L493.8 223.8Z"/>
<path d="M313.7 207.8L314.2 206.8L314.7 205.4L315.2 203.4L315.7 200.4L316.2 195.1L316.7 185.7L317.2 169.4L317.7 143.5L319.2 31.3L319.7 19.5L320.2 38.5L321.2 117.4L321.7 151.0L322.2 174.4L322.7 188.8L323.2 197.0L323.7 201.6L324.2 204.3L324.7 206.1L325.2 207.5M374.7 208.9L375.2 206.3L375.7 201.7L376.2 194.0L376.7 182.2L377.7 148.8L378.2 135.4L378.7 133.0L379.2 143.3L380.2 177.0L380.7 190.4L381.2 199.5L381.7 205.0L382.2 208.1L382.7 209.9" fill="none" stroke="#000" stroke-width="1.25"/>
<path d="M176.7 207.6L177.2 206.5L177.7 204.6L178.2 201.7L179.2 194.0L179.7 191.5L180.2 191.3M181.2 193.0L181.7 191.6L182.7 185.3L183.2 184.8M194.2 208.7L194.7 207.7L195.2 206.0L196.7 198.3L197.2 197.6M209.7 209.3L210.2 208.3L210.7 206.6L211.2 203.7L212.2 195.4L212.7 192.0L213.2 191.7M290.7 210.6L291.7 208.4L292.2 208.0M312.7 209.3L313.7 207.8M353.7 211.9L354.7 209.5L355.2 208.8M373.2 212.0L373.7 211.3L374.2 210.4L374.7 208.9M415.7 212.7L416.7 210.5L417.2 210.0M423.7 212.8L424.2 211.1L425.2 206.9L425.7 205.9" fill="none" stroke="#1a1a1a" stroke-width="0.95"/>
<path d="M89.7 225.7L89.7 207.0L98.2 208.7L102.7 208.9L106.7 209.3L112.7 209.5L117.7 210.1L121.2 210.1L124.7 210.5L128.2 210.5L135.2 211.0L139.7 210.9L145.2 211.4L151.2 211.4L159.2 212.0L163.7 211.8L167.2 212.1L168.7 212.1L175.2 211.3L176.2 210.9L176.7 210.6L177.2 209.9L177.7 208.7L178.2 206.7L178.7 203.7L179.7 195.8L180.2 193.1L180.7 193.0L181.2 194.3L181.7 194.9L182.2 193.6L183.2 187.3L183.7 186.8L184.2 190.1L185.2 200.9L185.7 205.1L186.2 207.9L186.7 209.6L187.2 210.5L188.2 211.4L189.7 211.9L191.7 212.1L193.2 212.0L194.2 211.6L194.7 211.0L195.2 210.0L195.7 208.2L197.2 200.4L197.7 199.8L198.2 201.3L199.7 209.0L200.2 210.4L200.7 211.3L201.2 211.7L201.7 212.0L202.7 212.2L204.2 212.4L208.2 212.1L209.2 211.8L209.7 211.5L210.2 210.9L210.7 209.7L211.2 207.6L211.7 204.3L213.2 190.4L213.7 190.1L214.2 193.6L215.2 203.7L215.7 207.4L216.2 209.8L216.7 211.1L217.2 211.9L218.2 212.5L219.2 212.8L222.7 213.2L224.2 213.2L225.2 212.7L226.7 211.3L227.2 211.3L229.2 213.2L230.2 213.5L236.7 213.9L241.7 214.4L244.2 214.5L248.7 214.3L253.7 214.6L258.2 214.4L263.2 214.9L266.7 214.9L272.7 215.1L277.7 214.8L285.2 215.1L288.7 214.8L289.7 214.5L290.2 214.3L290.7 213.8L291.2 213.1L292.2 211.1L292.7 210.5L293.2 210.6L294.7 213.5L295.2 214.2L296.2 214.8L297.2 215.0L304.2 214.7L308.2 214.2L310.2 213.7L311.2 213.2L312.2 212.5L313.2 211.5L314.2 210.0L315.2 207.6L315.7 205.6L316.2 202.6L316.7 197.6L317.2 188.6L317.7 173.0L318.2 148.1L319.7 35.2L320.2 20.3L320.7 36.5L322.2 149.5L322.7 174.0L323.2 189.2L323.7 198.0L324.2 202.9L324.7 205.7L325.7 209.0L326.2 210.0L327.2 211.5L328.2 212.5L329.7 213.5L331.7 214.5L333.7 215.0L336.7 215.4L344.7 215.6L348.7 215.9L351.7 215.8L352.7 215.5L353.2 215.3L353.7 214.8L354.2 214.1L355.7 210.8L356.2 210.7L356.7 211.4L357.7 213.7L358.2 214.6L358.7 215.1L359.2 215.5L360.2 215.7L365.2 216.1L368.2 215.7L370.7 215.2L372.2 214.7L373.2 214.1L374.2 213.1L374.7 212.2L375.2 210.9L375.7 208.5L376.2 204.3L376.7 197.0L377.2 185.5L378.7 138.1L379.2 134.4L379.7 143.7L380.7 177.6L381.2 191.5L381.7 201.1L382.2 206.9L382.7 210.2L383.2 212.1L383.7 213.2L384.2 214.0L385.2 215.0L386.2 215.6L387.7 216.1L389.7 216.4L393.2 216.8L397.7 216.8L402.2 217.2L406.7 217.2L411.2 217.0L414.7 217.1L415.7 216.7L416.2 216.3L417.7 213.5L418.2 212.9L418.7 213.1L420.2 215.7L420.7 216.2L421.7 216.7L422.7 216.7L423.7 216.3L424.2 215.8L424.7 214.8L426.2 209.5L426.7 208.6L427.2 209.2L428.7 214.6L429.2 215.8L429.7 216.6L430.2 217.0L431.2 217.4L432.7 217.6L436.2 217.9L440.2 218.0L444.7 217.7L450.7 217.9L454.2 218.2L461.2 217.9L468.7 218.4L472.7 218.3L478.7 218.4L481.2 218.2L483.2 217.3L483.7 217.2L484.2 217.3L485.7 218.1L486.7 218.4L490.7 218.4L494.2 218.6L494.3 225.7Z"/>
<path d="M314.7 208.9L315.2 207.6L315.7 205.6L316.2 202.6L316.7 197.6L317.2 188.6L317.7 173.0L318.2 148.1L319.7 35.2L320.2 20.3L320.7 36.5L322.2 149.5L322.7 174.0L323.2 189.2L323.7 198.0L324.2 202.9L324.7 205.7L325.2 207.6L325.7 209.0L326.2 210.0M375.2 210.9L375.7 208.5L376.2 204.3L376.7 197.0L377.2 185.5L378.7 138.1L379.2 134.4L379.7 143.7L380.7 177.6L381.2 191.5L381.7 201.1L382.2 206.9L382.7 210.2" fill="none" stroke="#000" stroke-width="1.25"/>
<path d="M177.2 209.9L177.7 208.7L178.2 206.7L178.7 203.7L179.7 195.8L180.2 193.1L180.7 193.0M181.7 194.9L182.2 193.6L183.2 187.3L183.7 186.8M195.2 210.0L195.7 208.2L197.2 200.4L197.7 199.8M210.2 210.9L210.7 209.7L211.2 207.6L211.7 204.3L212.7 194.4L213.2 190.4L213.7 190.1M291.2 213.1L292.2 211.1L292.7 210.5M312.7 212.1L313.7 210.8L314.7 208.9M354.2 214.1L355.7 210.8M373.7 213.7L374.2 213.1L374.7 212.2L375.2 210.9M416.7 215.5L417.7 213.5L418.2 212.9M424.7 214.8L425.2 213.3L426.2 209.5L426.7 208.6" fill="none" stroke="#1a1a1a" stroke-width="0.95"/>
<path d="M90.1 227.6L90.1 208.8L97.1 209.8L101.6 210.6L112.1 211.4L121.1 211.7L129.6 212.8L135.1 212.7L142.6 213.3L149.6 213.5L159.1 213.6L163.6 213.9L167.6 213.7L172.1 213.8L175.1 213.5L176.1 213.2L177.1 212.7L177.6 212.1L178.1 211.0L178.6 209.3L179.1 206.6L180.1 199.5L180.6 197.2L181.1 197.0L181.6 198.0L182.1 198.4L182.6 197.0L183.6 190.7L184.1 190.2L184.6 193.3L185.6 203.5L186.1 207.5L186.6 210.1L187.1 211.6L187.6 212.4L188.6 213.2L190.1 213.6L192.1 213.8L193.6 213.8L194.6 213.4L195.1 212.8L195.6 211.8L196.1 210.0L197.6 201.8L198.1 201.1L198.6 202.7L200.1 210.7L200.6 212.2L201.1 213.1L201.6 213.6L202.6 214.1L204.1 214.5L205.6 214.7L208.1 214.4L209.1 214.1L210.1 213.5L210.6 212.9L211.1 211.7L211.6 209.7L212.1 206.4L213.6 192.8L214.1 192.4L214.6 195.8L215.6 205.6L216.1 209.2L216.6 211.5L217.1 212.8L217.6 213.5L218.6 214.2L219.6 214.5L223.1 215.0L224.6 215.0L225.6 214.6L227.1 213.2L227.6 213.2L228.1 213.5L229.1 214.4L230.1 215.1L232.1 215.6L234.1 215.9L238.1 215.9L245.6 216.3L250.1 216.0L253.6 216.3L263.1 216.4L268.6 216.9L274.1 216.6L279.6 216.5L289.6 216.6L290.6 216.4L291.1 216.1L291.6 215.5L293.1 212.7L293.6 212.4L294.1 213.0L295.6 215.7L296.1 216.2L297.1 216.7L299.1 216.9L304.1 216.6L306.6 216.3L310.6 215.3L311.6 214.8L312.6 214.2L313.6 213.2L314.6 211.8L315.6 209.5L316.1 207.7L316.6 204.9L317.1 200.2L317.6 191.8L318.1 176.9L318.6 152.9L320.1 39.7L320.6 21.8L321.1 35.0L322.6 148.1L323.1 173.7L323.6 189.8L324.1 199.1L324.6 204.3L325.1 207.4L325.6 209.3L326.1 210.7L327.1 212.6L328.1 213.9L329.6 215.2L331.1 215.9L336.6 217.2L341.1 217.7L348.6 218.0L352.1 217.9L353.6 217.6L354.1 217.2L354.6 216.5L356.1 213.2L356.6 212.7L357.1 213.2L358.6 216.6L359.1 217.3L360.1 218.0L361.1 218.3L363.6 218.2L369.1 217.7L370.6 217.4L372.1 217.0L373.1 216.5L374.1 215.7L374.6 215.2L375.1 214.3L375.6 213.0L376.1 210.8L376.6 206.7L377.1 199.7L377.6 188.7L379.1 140.6L379.6 135.5L380.1 143.6L381.1 177.4L381.6 191.8L382.1 201.9L382.6 208.1L383.1 211.6L383.6 213.6L384.1 214.8L384.6 215.6L385.6 216.6L386.6 217.2L387.6 217.6L392.1 218.6L394.1 218.9L398.6 219.1L402.1 219.3L407.6 219.2L414.1 219.5L415.6 219.4L416.6 219.0L417.1 218.6L418.6 216.5L419.1 216.0L419.6 216.2L421.1 218.3L421.6 218.7L422.6 219.1L423.6 219.1L424.6 218.8L425.1 218.3L425.6 217.6L427.1 213.6L427.6 212.8L428.1 213.2L429.6 217.3L430.1 218.3L430.6 218.8L431.1 219.2L432.6 219.5L442.6 220.1L444.1 220.1L448.1 219.6L450.1 219.5L455.6 220.1L461.1 220.1L470.6 220.4L475.6 220.1L481.1 220.0L482.1 219.9L483.6 219.4L484.1 219.4L485.6 220.2L486.6 220.5L487.6 220.5L491.6 220.3L494.6 220.4L494.7 227.6Z"/>
<path d="M315.1 210.8L315.6 209.5L316.1 207.7L316.6 204.9L317.1 200.2L317.6 191.8L318.1 176.9L318.6 152.9L319.1 118.7L320.1 39.7L320.6 21.8L321.1 35.0L322.6 148.1L323.1 173.7L323.6 189.8L324.1 199.1L324.6 204.3L325.1 207.4L325.6 209.3L326.1 210.7L326.6 211.8M375.6 213.0L376.1 210.8L376.6 206.7L377.1 199.7L377.6 188.7L379.1 140.6L379.6 135.5L380.1 143.6L381.1 177.4L381.6 191.8L382.1 201.9L382.6 208.1L383.1 211.6L383.6 213.6" fill="none" stroke="#000" stroke-width="1.25"/>
<path d="M177.6 212.1L178.1 211.0L178.6 209.3L179.1 206.6L180.1 199.5L180.6 197.2L181.1 197.0M182.1 198.4L182.6 197.0L183.6 190.7L184.1 190.2M195.1 212.8L195.6 211.8L196.1 210.0L197.6 201.8L198.1 201.1M210.6 212.9L211.1 211.7L211.6 209.7L212.1 206.4L213.1 196.7L213.6 192.8L214.1 192.4M292.1 214.6L293.1 212.7M313.6 213.2L314.6 211.8L315.1 210.8M355.1 215.6L356.1 213.2L356.6 212.7M374.1 215.7L374.6 215.2L375.1 214.3L375.6 213.0M418.1 217.2L418.6 216.5L419.1 216.0M425.6 217.6L426.1 216.5L427.1 213.6L427.6 212.8" fill="none" stroke="#1a1a1a" stroke-width="0.95"/>
<path d="M90.6 229.6L90.6 210.9L97.1 211.5L102.6 212.4L112.6 213.2L117.1 213.8L123.1 214.2L128.1 214.2L138.1 215.0L143.6 215.2L148.6 215.2L153.1 215.5L158.6 215.3L167.6 215.8L174.1 215.5L175.6 215.3L176.6 215.1L177.6 214.5L178.1 213.8L178.6 212.6L179.1 210.7L179.6 207.7L180.6 200.1L181.1 197.6L181.6 197.6L182.1 199.0L182.6 199.8L183.1 198.8L184.1 193.4L184.6 193.0L185.1 196.0L186.1 205.7L186.6 209.4L187.1 211.9L187.6 213.3L188.1 214.1L189.1 214.8L190.1 215.1L192.1 215.3L194.1 215.3L195.1 215.0L195.6 214.5L196.1 213.5L196.6 211.8L198.1 204.0L198.6 203.3L199.1 205.0L200.6 213.0L201.1 214.6L201.6 215.5L202.1 216.0L203.1 216.4L205.1 216.7L206.6 216.6L208.6 216.3L209.6 216.0L210.6 215.5L211.1 214.9L211.6 213.8L212.1 211.9L212.6 208.8L214.1 196.1L214.6 195.8L215.1 199.0L216.1 208.3L216.6 211.7L217.1 213.8L217.6 215.0L218.1 215.7L218.6 216.0L219.6 216.3L224.1 216.7L225.1 216.7L226.1 216.2L227.6 215.0L228.1 215.0L230.6 217.1L232.1 217.7L233.6 217.9L241.6 217.7L249.1 218.3L258.6 218.2L263.6 218.5L268.1 218.5L274.6 218.8L287.6 218.7L290.6 218.5L291.6 218.2L292.1 217.7L292.6 216.9L293.6 215.0L294.1 214.4L294.6 214.7L296.1 217.6L296.6 218.3L297.1 218.6L297.6 218.8L298.6 219.0L303.6 218.7L305.6 218.4L311.1 217.3L312.1 216.9L313.1 216.3L314.1 215.4L315.1 213.9L316.1 211.6L316.6 209.8L317.1 207.1L317.6 202.7L318.1 194.7L318.6 180.6L319.1 157.6L320.6 44.3L321.1 23.6L321.6 33.8L323.1 146.7L323.6 173.5L324.1 190.5L324.6 200.4L325.1 206.0L325.6 209.2L326.1 211.3L326.6 212.8L327.1 213.9L328.1 215.4L329.1 216.4L330.6 217.3L333.1 218.2L335.6 218.9L340.1 219.6L344.6 219.7L349.1 220.0L351.1 220.0L353.1 219.8L354.1 219.5L354.6 219.3L355.1 218.8L355.6 218.0L356.6 215.7L357.1 214.9L357.6 214.9L359.1 218.0L359.6 218.8L360.1 219.2L361.1 219.6L366.6 219.9L370.6 219.4L372.1 219.1L373.1 218.8L374.1 218.2L375.1 217.2L375.6 216.4L376.1 215.1L376.6 213.0L377.1 209.1L377.6 202.4L378.1 191.7L379.6 143.3L380.1 136.9L380.6 143.9L382.1 192.6L382.6 203.2L383.1 209.8L383.6 213.5L384.1 215.6L384.6 216.9L385.1 217.6L386.1 218.6L387.1 219.2L388.6 219.7L395.1 220.7L398.6 221.1L404.1 221.2L409.1 220.8L413.6 221.1L416.6 221.1L417.6 220.8L418.1 220.6L419.6 219.0L420.1 218.6L420.6 218.7L422.1 220.4L422.6 220.8L423.6 221.2L424.6 221.3L425.6 221.1L426.1 220.8L426.6 220.2L428.1 217.3L428.6 216.7L429.1 216.9L430.6 220.0L431.1 220.8L432.1 221.5L433.6 221.8L443.6 221.7L449.1 222.0L455.1 221.8L461.1 222.2L465.1 222.1L470.1 222.1L474.1 222.5L478.1 222.3L481.1 222.5L482.6 222.2L484.1 221.4L484.6 221.3L485.1 221.3L486.6 222.1L488.1 222.4L495.1 222.5L495.2 229.6Z"/>
<path d="M315.6 212.9L316.1 211.6L316.6 209.8L317.1 207.1L317.6 202.7L318.1 194.7L318.6 180.6L319.1 157.6L319.6 124.3L320.6 44.3L321.1 23.6L321.6 33.8L323.1 146.7L323.6 173.5L324.1 190.5L324.6 200.4L325.1 206.0L325.6 209.2L326.1 211.3L326.6 212.8L327.1 213.9M376.1 215.1L376.6 213.0L377.1 209.1L377.6 202.4L378.1 191.7L379.6 143.3L380.1 136.9L380.6 143.9L382.1 192.6L382.6 203.2L383.1 209.8L383.6 213.5L384.1 215.6" fill="none" stroke="#000" stroke-width="1.25"/>
<path d="M178.1 213.8L178.6 212.6L179.1 210.7L179.6 207.7L180.6 200.1L181.1 197.6L181.6 197.6M182.6 199.8L183.1 198.8L184.1 193.4L184.6 193.0M195.6 214.5L196.1 213.5L196.6 211.8L198.1 204.0L198.6 203.3M211.1 214.9L211.6 213.8L212.1 211.9L212.6 208.8L213.6 199.8L214.1 196.1L214.6 195.8M292.6 216.9L293.6 215.0L294.1 214.4M314.1 215.4L315.1 213.9L315.6 212.9M355.6 218.0L356.6 215.7L357.1 214.9M374.6 217.8L375.1 217.2L375.6 216.4L376.1 215.1M427.1 219.4L428.1 217.3L428.6 216.7" fill="none" stroke="#1a1a1a" stroke-width="0.95"/>
<path d="M91.0 231.5L91.0 213.0L98.0 214.1L108.0 214.7L115.5 215.5L123.5 215.9L128.5 216.5L134.0 216.4L143.5 217.0L149.0 217.1L152.5 217.0L156.5 217.6L158.5 217.8L163.5 217.8L167.0 217.7L172.0 218.0L174.5 217.7L177.0 216.9L178.0 216.1L178.5 215.4L179.0 214.2L179.5 212.2L180.0 209.0L181.0 200.9L181.5 198.3L182.0 198.2L182.5 199.6L183.0 200.4L183.5 199.2L184.5 193.0L185.0 192.5L185.5 195.8L186.5 206.6L187.0 210.8L187.5 213.5L188.0 215.1L188.5 216.0L189.0 216.5L190.0 217.1L191.5 217.5L193.0 217.7L194.5 217.7L195.5 217.3L196.0 216.7L196.5 215.5L197.0 213.6L198.5 204.9L199.0 204.1L199.5 205.9L201.0 214.6L201.5 216.2L202.0 217.1L202.5 217.6L203.5 218.1L206.0 218.5L207.5 218.4L209.0 218.2L210.0 217.9L211.0 217.4L211.5 216.9L212.0 215.9L212.5 214.1L213.0 211.2L214.5 199.4L215.0 199.1L215.5 202.1L216.5 210.9L217.0 214.1L217.5 216.1L218.0 217.3L218.5 218.0L219.5 218.7L220.5 219.0L222.5 219.1L225.5 218.8L226.5 218.3L228.0 216.9L228.5 216.9L230.0 218.5L231.0 219.2L232.0 219.5L234.0 219.7L236.0 219.8L241.0 219.5L247.5 219.9L251.0 220.3L257.0 220.2L261.0 220.4L264.5 220.3L269.5 220.7L274.0 220.7L278.5 220.9L283.0 220.6L290.0 220.8L291.5 220.6L292.0 220.4L292.5 220.0L293.0 219.3L294.5 216.5L295.0 216.3L295.5 216.9L296.5 218.9L297.0 219.6L297.5 220.1L298.5 220.5L304.0 220.7L306.5 220.5L311.0 219.6L312.5 219.0L313.5 218.4L314.5 217.4L315.5 215.9L316.5 213.6L317.0 211.8L317.5 209.2L318.0 205.0L318.5 197.4L319.0 184.1L319.5 162.0L321.0 49.2L321.5 25.8L322.0 32.8L323.5 145.2L324.0 173.1L324.5 191.1L325.0 201.6L325.5 207.4L326.0 210.8L326.5 212.9L327.0 214.4L327.5 215.5L328.5 217.1L329.5 218.1L331.0 219.2L333.0 220.2L334.5 220.7L336.5 221.1L346.0 221.8L353.0 221.8L354.5 221.6L355.0 221.4L355.5 221.0L356.0 220.3L357.5 217.0L358.0 216.7L358.5 217.3L360.0 220.5L360.5 221.0L361.0 221.3L362.0 221.6L365.5 221.9L369.5 221.8L371.0 221.7L372.5 221.3L373.5 220.8L374.5 220.1L375.5 219.1L376.0 218.3L376.5 217.1L377.0 215.1L377.5 211.5L378.0 205.1L378.5 194.8L379.0 180.1L380.0 146.0L380.5 138.3L381.0 143.9L382.5 192.7L383.0 203.7L383.5 210.6L384.0 214.6L384.5 216.9L385.0 218.2L385.5 219.1L386.0 219.7L387.0 220.6L388.0 221.2L389.0 221.6L391.5 222.1L395.5 222.3L405.0 223.2L410.5 223.4L418.0 223.3L419.0 222.9L421.0 221.3L421.5 221.4L423.5 222.9L424.5 223.2L425.5 223.2L426.5 223.0L427.0 222.8L427.5 222.3L429.0 219.7L429.5 219.1L430.0 219.3L431.5 221.9L432.0 222.5L432.5 222.9L433.0 223.1L434.0 223.3L439.0 223.7L448.5 223.8L457.0 224.2L461.0 224.0L465.5 224.4L470.5 224.2L482.0 224.2L483.0 223.9L484.5 223.2L485.0 223.1L485.5 223.2L487.0 223.9L488.0 224.1L495.5 224.4L495.6 231.5Z"/>
<path d="M316.0 214.9L316.5 213.6L317.0 211.8L317.5 209.2L318.0 205.0L318.5 197.4L319.0 184.1L319.5 162.0L320.0 129.7L321.0 49.2L321.5 25.8L322.0 32.8L322.5 65.8L323.5 145.2L324.0 173.1L324.5 191.1L325.0 201.6L325.5 207.4L326.0 210.8L326.5 212.9L327.0 214.4L327.5 215.5M376.5 217.1L377.0 215.1L377.5 211.5L378.0 205.1L378.5 194.8L379.0 180.1L380.0 146.0L380.5 138.3L381.0 143.9L382.5 192.7L383.0 203.7L383.5 210.6L384.0 214.6L384.5 216.9" fill="none" stroke="#000" stroke-width="1.25"/>
<path d="M178.5 215.4L179.0 214.2L179.5 212.2L180.0 209.0L181.0 200.9L181.5 198.3L182.0 198.2M183.0 200.4L183.5 199.2L184.5 193.0L185.0 192.5M196.0 216.7L196.5 215.5L197.0 213.6L198.5 204.9L199.0 204.1M211.5 216.9L212.0 215.9L212.5 214.1L213.0 211.2L214.0 202.8L214.5 199.4L215.0 199.1M293.5 218.4L294.5 216.5M314.0 218.0L315.0 216.7L316.0 214.9M356.0 220.3L357.5 217.0L358.0 216.7M375.0 219.6L375.5 219.1L376.0 218.3L376.5 217.1M428.5 220.7L429.0 219.7L429.5 219.1" fill="none" stroke="#1a1a1a" stroke-width="0.95"/>
<path d="M91.5 233.5L91.5 214.8L97.5 215.7L103.5 216.2L108.5 217.0L112.5 217.1L121.5 218.0L129.0 218.3L135.0 218.3L140.0 218.7L145.0 218.6L157.0 219.6L171.5 219.6L174.5 219.5L176.5 219.3L177.5 219.0L178.5 218.4L179.0 217.7L179.5 216.6L180.0 214.6L180.5 211.7L181.5 203.9L182.0 201.4L182.5 201.3L183.0 202.6L183.5 203.4L184.0 202.3L185.0 196.6L185.5 196.1L186.0 199.2L187.0 209.4L187.5 213.3L188.0 215.9L188.5 217.4L189.0 218.2L190.0 218.9L191.0 219.2L193.0 219.3L195.0 219.2L196.0 218.8L196.5 218.3L197.0 217.3L197.5 215.5L199.0 207.5L199.5 206.8L200.0 208.4L201.5 216.6L202.0 218.1L202.5 219.0L203.0 219.5L203.5 219.8L204.5 220.1L206.0 220.3L209.5 220.2L210.5 220.0L211.5 219.5L212.0 218.9L212.5 217.9L213.0 215.9L213.5 212.8L215.0 199.8L215.5 199.4L216.0 202.6L217.0 212.1L217.5 215.5L218.0 217.7L218.5 219.0L219.0 219.6L220.0 220.3L221.5 220.7L224.0 221.0L225.0 221.0L226.0 220.9L227.0 220.2L228.5 218.7L229.0 218.7L231.0 220.8L231.5 221.0L232.5 221.2L237.0 221.3L241.5 221.9L246.5 221.9L251.5 222.4L257.0 222.1L263.0 222.5L271.5 222.4L275.5 222.6L286.0 222.9L290.5 222.6L292.5 222.2L293.0 221.9L293.5 221.3L295.0 218.4L295.5 217.8L296.0 218.1L297.5 221.1L298.0 221.8L299.0 222.4L300.0 222.6L304.5 222.5L309.0 222.1L311.0 221.6L312.5 221.1L313.5 220.6L314.5 219.9L315.5 218.9L316.5 217.2L317.5 214.4L318.0 211.9L318.5 207.9L319.0 200.8L319.5 188.1L320.0 166.9L320.5 135.5L321.5 54.5L322.0 28.5L322.5 32.3L323.0 63.4L324.0 143.8L324.5 172.8L325.0 191.7L325.5 202.8L326.0 209.1L326.5 212.6L327.0 214.9L327.5 216.4L328.5 218.6L329.5 219.9L330.5 220.8L332.0 221.6L333.5 222.1L336.0 222.6L339.0 223.1L343.5 223.2L350.5 223.9L353.5 223.7L354.5 223.6L355.5 223.3L356.0 222.9L356.5 222.3L358.0 219.0L358.5 218.4L359.0 218.7L360.5 222.0L361.0 222.8L361.5 223.2L362.0 223.5L363.0 223.7L366.5 223.8L372.5 223.3L374.0 222.8L375.0 222.2L376.0 221.2L376.5 220.4L377.0 219.3L377.5 217.3L378.0 213.9L378.5 207.9L379.0 198.0L379.5 183.6L380.5 149.1L381.0 140.1L381.5 144.4L383.0 193.2L383.5 204.8L384.0 212.1L384.5 216.4L385.0 218.8L385.5 220.3L386.0 221.2L387.0 222.3L388.5 223.2L390.0 223.6L396.5 224.7L400.0 225.1L418.5 225.2L420.0 224.8L422.0 223.6L422.5 223.7L424.5 224.8L425.5 225.0L426.5 225.0L427.5 224.9L428.5 224.4L430.0 222.7L430.5 222.3L431.0 222.4L432.5 224.2L433.5 225.0L435.0 225.4L437.5 225.7L443.5 225.7L447.0 225.8L450.5 225.6L454.0 225.9L458.5 225.8L463.5 226.3L471.5 226.0L478.5 226.3L482.5 226.1L483.5 225.8L485.0 225.2L485.5 225.1L486.0 225.2L487.5 225.9L488.5 226.1L493.5 226.5L496.0 226.6L496.1 233.5Z"/>
<path d="M316.5 217.2L317.0 216.0L317.5 214.4L318.0 211.9L318.5 207.9L319.0 200.8L319.5 188.1L320.0 166.9L320.5 135.5L321.5 54.5L322.0 28.5L322.5 32.3L323.0 63.4L324.0 143.8L324.5 172.8L325.0 191.7L325.5 202.8L326.0 209.1L326.5 212.6L327.0 214.9L327.5 216.4L328.0 217.6M377.0 219.3L377.5 217.3L378.0 213.9L378.5 207.9L379.0 198.0L379.5 183.6L380.5 149.1L381.0 140.1L381.5 144.4L383.0 193.2L383.5 204.8L384.0 212.1L384.5 216.4L385.0 218.8" fill="none" stroke="#000" stroke-width="1.25"/>
<path d="M179.0 217.7L179.5 216.6L180.0 214.6L180.5 211.7L181.5 203.9L182.0 201.4L182.5 201.3M183.5 203.4L184.0 202.3L185.0 196.6L185.5 196.1M196.5 218.3L197.0 217.3L197.5 215.5L199.0 207.5L199.5 206.8M212.0 218.9L212.5 217.9L213.0 215.9L213.5 212.8L214.5 203.5L215.0 199.8L215.5 199.4M294.0 220.5L295.0 218.4L295.5 217.8M315.0 219.4L316.0 218.2L316.5 217.2M357.0 221.4L358.0 219.0L358.5 218.4M375.5 221.7L376.5 220.4L377.0 219.3" fill="none" stroke="#1a1a1a" stroke-width="0.95"/>
<path d="M92.0 235.4L92.0 216.7L99.5 217.7L105.5 218.2L110.0 218.7L114.0 218.9L119.5 219.4L122.5 219.4L124.0 219.2L124.5 219.1L125.0 218.7L125.5 218.0L126.0 216.7L126.5 214.9L127.5 210.6L128.0 209.7L128.5 210.6L130.0 216.9L130.5 218.2L131.0 218.9L132.0 219.6L133.5 220.0L135.5 220.3L139.0 220.7L148.5 220.7L159.5 221.6L170.5 221.5L177.0 222.1L184.5 222.1L192.5 222.5L199.5 222.6L205.0 222.6L213.0 223.1L223.0 223.2L233.0 223.6L242.5 223.5L247.5 223.9L260.0 224.3L266.5 224.7L275.5 224.3L281.0 224.8L285.5 224.5L292.5 224.7L307.0 224.5L309.0 224.2L311.5 223.6L313.5 222.9L314.5 222.3L315.5 221.4L316.5 220.0L317.5 217.8L318.0 216.1L318.5 213.7L319.0 209.9L319.5 203.1L320.0 191.0L320.5 170.8L321.0 140.3L322.0 59.3L322.5 30.9L323.0 31.4L323.5 60.5L324.5 141.5L325.0 171.6L325.5 191.6L326.0 203.5L326.5 210.1L327.0 213.9L327.5 216.3L328.0 217.9L329.0 220.1L330.0 221.5L331.0 222.4L332.5 223.4L334.0 224.0L335.5 224.4L339.5 225.2L344.0 225.4L349.0 226.0L353.0 225.8L362.5 226.1L370.5 225.9L373.0 225.3L374.5 224.7L376.0 223.7L377.0 222.3L377.5 221.2L378.0 219.3L378.5 216.0L379.0 210.2L379.5 200.7L381.0 151.7L381.5 141.6L382.0 144.6L383.5 193.5L384.0 205.6L384.5 213.4L385.0 218.0L385.5 220.6L386.0 222.1L386.5 223.1L387.5 224.2L389.0 225.1L391.5 226.0L393.0 226.1L396.5 226.2L401.0 226.7L405.0 226.6L409.5 227.0L418.5 227.2L420.5 227.1L423.0 226.5L423.5 226.6L425.5 227.3L426.5 227.5L429.0 227.2L431.5 226.3L432.0 226.3L433.5 227.1L434.5 227.4L438.5 227.6L443.0 227.7L447.0 227.6L451.5 228.0L457.0 227.6L467.5 228.1L475.0 228.2L486.5 228.0L490.5 228.3L496.5 228.3L496.6 235.4Z"/>
<path d="M317.0 219.0L317.5 217.8L318.0 216.1L318.5 213.7L319.0 209.9L319.5 203.1L320.0 191.0L320.5 170.8L321.0 140.3L322.0 59.3L322.5 30.9L323.0 31.4L323.5 60.5L324.5 141.5L325.0 171.6L325.5 191.6L326.0 203.5L326.5 210.1L327.0 213.9L327.5 216.3L328.0 217.9L328.5 219.1M377.5 221.2L378.0 219.3L378.5 216.0L379.0 210.2L379.5 200.7L380.0 186.7L381.0 151.7L381.5 141.6L382.0 144.6L382.5 158.9L383.5 193.5L384.0 205.6L384.5 213.4L385.0 218.0L385.5 220.6" fill="none" stroke="#000" stroke-width="1.25"/>
<path d="M125.5 218.0L126.0 216.7L126.5 214.9L127.5 210.6L128.0 209.7M315.5 221.4L316.5 220.0L317.0 219.0M376.0 223.7L377.0 222.3L377.5 221.2" fill="none" stroke="#1a1a1a" stroke-width="0.95"/>
<path d="M92.4 237.4L92.4 218.7L96.9 219.2L103.4 220.2L107.9 220.5L112.9 221.1L121.9 221.4L123.4 221.3L124.4 221.1L124.9 220.8L125.4 220.2L125.9 219.1L126.4 217.2L126.9 214.4L127.9 207.9L128.4 206.5L128.9 207.9L130.4 217.2L130.9 219.1L131.4 220.2L131.9 220.8L132.9 221.4L134.9 222.0L137.4 222.5L148.9 222.9L153.9 222.7L157.9 223.2L161.4 223.4L166.9 223.2L171.9 223.7L176.4 223.7L178.4 223.5L179.4 223.1L179.9 222.8L180.4 222.1L180.9 221.0L181.4 219.3L182.4 214.8L182.9 213.3L183.4 213.2L183.9 214.0L184.4 214.4L184.9 213.8L185.9 211.2L186.4 211.3L186.9 213.2L187.9 218.4L188.4 220.2L188.9 221.4L189.4 222.0L189.9 222.2L190.4 222.0L190.9 221.5L191.4 220.3L191.9 218.4L193.4 210.1L193.9 209.9L194.4 212.0L195.4 218.2L195.9 220.4L196.4 221.9L196.9 222.7L197.4 223.2L198.4 223.6L199.9 223.8L201.4 223.9L202.9 223.8L203.9 223.3L204.4 222.8L204.9 221.8L205.4 220.3L206.9 213.9L207.4 213.7L207.9 215.2L208.9 219.8L209.4 221.5L209.9 222.5L210.4 223.1L210.9 223.3L211.4 223.4L211.9 223.2L212.4 222.8L212.9 221.8L213.4 220.1L214.9 212.1L215.4 211.4L215.9 213.0L217.4 221.2L217.9 222.8L218.4 223.6L218.9 224.1L219.4 224.4L220.4 224.6L232.9 225.6L237.9 225.6L241.4 226.0L247.9 225.9L252.9 225.7L258.9 226.0L260.4 225.8L262.4 224.6L262.9 224.6L264.9 225.9L265.9 226.1L267.4 226.2L270.9 225.9L275.9 226.5L279.4 226.4L282.4 226.5L283.4 226.4L284.4 226.1L285.4 225.0L286.4 223.3L286.9 222.9L287.4 223.3L288.9 225.4L289.4 225.8L290.4 226.0L291.4 225.7L291.9 225.2L293.4 223.2L293.9 223.1L294.4 223.7L295.4 225.1L295.9 225.6L296.4 225.9L297.4 226.0L298.4 225.7L298.9 225.4L300.4 223.6L300.9 223.4L301.4 223.8L302.4 225.1L303.4 225.8L304.4 226.0L307.9 226.1L309.4 226.0L311.4 225.5L313.9 224.4L315.4 223.3L316.4 222.3L317.4 220.8L318.4 218.2L318.9 216.0L319.4 212.4L319.9 206.1L320.4 194.8L320.9 175.5L321.4 146.1L322.4 65.4L322.9 34.8L323.4 31.9L323.9 58.7L324.9 139.8L325.4 171.0L325.9 191.9L326.4 204.4L326.9 211.4L327.4 215.4L327.9 217.8L328.4 219.5L329.4 221.7L330.4 223.1L331.4 223.9L332.4 224.2L332.9 224.1L333.4 223.8L334.4 222.7L334.9 222.6L335.4 223.1L336.9 225.6L337.4 226.1L338.4 226.6L339.4 226.7L339.9 226.6L340.9 225.9L341.9 224.9L342.4 224.7L342.9 225.1L344.4 226.8L345.4 227.3L347.9 227.6L351.4 227.7L356.9 228.1L359.9 228.1L364.4 227.8L368.4 228.1L369.9 228.0L372.4 227.3L374.9 226.4L376.4 225.5L377.4 224.4L377.9 223.3L378.4 221.6L378.9 218.5L379.4 213.0L379.9 203.8L380.4 190.1L381.4 154.8L381.9 143.4L382.4 145.0L382.9 158.5L383.9 193.5L384.4 206.2L384.9 214.5L385.4 219.4L385.9 222.2L386.4 223.8L386.9 224.8L387.4 225.5L388.4 226.4L389.4 227.0L391.4 227.7L392.9 228.2L394.4 228.4L396.4 228.6L404.4 228.4L408.4 229.0L412.4 229.2L420.9 228.9L425.4 229.3L432.4 229.4L433.9 229.0L435.9 227.8L436.4 227.8L438.4 229.1L439.9 229.5L441.4 229.4L442.4 229.2L444.4 228.0L444.9 227.9L445.4 228.1L446.9 229.1L448.4 229.4L457.4 229.5L468.9 230.2L476.9 230.0L480.4 230.1L484.4 229.9L488.9 230.0L492.9 230.2L496.9 230.1L497.0 237.4Z"/>
<path d="M317.4 220.8L317.9 219.7L318.4 218.2L318.9 216.0L319.4 212.4L319.9 206.1L320.4 194.8L320.9 175.5L321.4 146.1L322.4 65.4L322.9 34.8L323.4 31.9L323.9 58.7L324.9 139.8L325.4 171.0L325.9 191.9L326.4 204.4L326.9 211.4L327.4 215.4L327.9 217.8L328.4 219.5L328.9 220.7M378.4 221.6L378.9 218.5L379.4 213.0L379.9 203.8L380.4 190.1L381.4 154.8L381.9 143.4L382.4 145.0L382.9 158.5L383.9 193.5L384.4 206.2L384.9 214.5L385.4 219.4L385.9 222.2" fill="none" stroke="#000" stroke-width="1.25"/>
<path d="M125.9 219.1L126.4 217.2L126.9 214.4L127.9 207.9L128.4 206.5M180.9 221.0L181.4 219.3L182.4 214.8L182.9 213.3L183.4 213.2M184.4 214.4L184.9 213.8L185.9 211.2M190.9 221.5L191.4 220.3L191.9 218.4L192.9 212.5L193.4 210.1L193.9 209.9M204.9 221.8L205.4 220.3L206.4 215.7L206.9 213.9L207.4 213.7M212.4 222.8L212.9 221.8L213.4 220.1L214.9 212.1L215.4 211.4M292.4 224.6L293.4 223.2M315.9 222.9L316.9 221.6L317.4 220.8M376.9 225.0L377.4 224.4L377.9 223.3L378.4 221.6" fill="none" stroke="#1a1a1a" stroke-width="0.95"/>
<path d="M92.9 239.3L92.9 220.2L95.4 220.6L99.4 221.6L103.4 222.0L106.9 222.1L118.9 223.0L123.4 222.9L124.9 222.6L125.4 222.4L125.9 221.8L126.4 220.7L126.9 218.8L127.4 216.1L128.4 209.5L128.9 208.1L129.4 209.4L130.4 216.0L130.9 218.7L131.4 220.6L131.9 221.8L132.4 222.4L132.9 222.8L133.9 223.3L136.4 223.9L142.9 224.6L152.9 224.4L159.9 224.7L164.4 225.2L168.4 225.4L175.4 225.2L176.9 225.1L178.4 224.7L179.4 224.4L180.4 223.6L180.9 222.7L181.4 221.1L181.9 218.9L182.9 212.9L183.4 210.9L183.9 210.7L184.4 211.7L184.9 212.1L185.4 211.1L186.4 207.1L186.9 207.3L187.4 210.1L188.4 217.6L188.9 220.3L189.4 221.9L189.9 222.7L190.4 222.9L190.9 222.6L191.4 221.7L191.9 220.0L192.4 217.1L193.9 204.9L194.4 204.6L194.9 207.7L195.9 216.8L196.4 220.2L196.9 222.3L197.4 223.5L197.9 224.2L198.4 224.6L199.4 224.9L201.9 225.2L203.4 225.2L203.9 225.0L204.4 224.8L204.9 224.1L205.4 223.0L205.9 221.0L207.4 212.9L207.9 212.6L208.4 214.5L209.4 220.3L209.9 222.4L210.4 223.7L210.9 224.4L211.4 224.6L211.9 224.7L212.4 224.4L212.9 223.7L213.4 222.2L213.9 219.8L215.4 208.6L215.9 207.6L216.4 209.9L217.9 221.2L218.4 223.3L218.9 224.5L219.4 225.2L219.9 225.6L221.4 226.1L223.4 226.5L226.4 226.8L230.4 226.8L234.4 226.8L240.9 227.4L247.9 227.3L252.4 227.7L259.4 227.7L260.4 227.6L260.9 227.4L262.9 225.5L263.4 225.5L265.4 227.5L266.4 227.9L270.4 227.9L274.9 228.1L281.9 228.3L283.9 228.1L284.9 227.8L285.4 227.3L285.9 226.6L286.9 224.6L287.4 223.9L287.9 224.0L289.4 226.7L289.9 227.2L290.4 227.5L290.9 227.6L291.4 227.5L291.9 227.3L292.4 226.8L293.9 224.0L294.4 223.7L294.9 224.2L296.4 227.2L296.9 227.7L297.4 228.0L297.9 228.1L298.4 228.1L298.9 227.8L299.4 227.4L299.9 226.6L300.9 224.5L301.4 223.9L301.9 224.2L303.4 226.8L303.9 227.3L304.9 227.7L309.9 227.5L311.9 227.3L313.9 226.8L314.9 226.3L315.9 225.6L316.9 224.5L317.9 222.9L318.9 220.2L319.4 218.0L319.9 214.6L320.4 208.5L320.9 197.8L321.4 179.4L321.9 151.1L323.4 38.4L323.9 32.3L324.4 56.8L325.9 170.4L326.4 192.4L326.9 205.7L327.4 213.2L327.9 217.4L328.4 220.0L328.9 221.7L329.4 222.9L330.4 224.5L330.9 225.1L331.9 225.8L332.9 226.0L333.4 225.8L333.9 225.3L334.9 223.7L335.4 223.1L335.9 223.4L337.4 226.6L337.9 227.4L338.9 228.1L339.9 228.3L340.4 228.2L340.9 227.8L341.4 227.1L342.4 225.2L342.9 224.7L343.4 225.0L344.9 227.9L345.4 228.4L345.9 228.8L346.9 229.0L349.9 229.0L352.9 229.4L355.9 229.6L362.4 229.8L366.4 229.4L370.4 229.8L372.4 229.7L374.4 229.1L375.9 228.3L376.9 227.5L377.9 226.3L378.4 225.2L378.9 223.5L379.4 220.6L379.9 215.4L380.4 206.6L380.9 193.3L381.9 158.1L382.4 145.7L382.9 145.9L383.4 158.6L384.4 194.0L384.9 207.2L385.4 215.9L385.9 221.1L386.4 224.0L386.9 225.7L387.4 226.7L387.9 227.4L388.9 228.4L389.9 229.0L390.9 229.4L392.9 229.9L398.4 230.2L402.9 230.4L408.4 231.0L413.4 230.8L416.9 230.9L424.4 230.9L430.4 231.1L432.9 231.1L433.9 230.8L434.9 230.1L436.4 227.9L436.9 227.8L437.4 228.2L438.9 230.1L439.9 230.6L440.9 230.8L441.9 230.8L442.9 230.6L443.9 229.7L444.9 228.4L445.4 228.1L445.9 228.2L447.4 230.2L448.4 230.9L449.4 231.2L451.9 231.5L458.9 231.5L463.4 231.9L472.9 231.7L477.9 231.7L485.4 232.1L490.4 231.7L493.9 231.9L497.4 232.0L497.5 239.3Z"/>
<path d="M317.9 222.9L318.4 221.8L318.9 220.2L319.4 218.0L319.9 214.6L320.4 208.5L320.9 197.8L321.4 179.4L321.9 151.1L322.9 70.9L323.4 38.4L323.9 32.3L324.4 56.8L325.4 138.1L325.9 170.4L326.4 192.4L326.9 205.7L327.4 213.2L327.9 217.4L328.4 220.0L328.9 221.7L329.4 222.9M378.9 223.5L379.4 220.6L379.9 215.4L380.4 206.6L380.9 193.3L381.9 158.1L382.4 145.7L382.9 145.9L383.4 158.6L384.4 194.0L384.9 207.2L385.4 215.9L385.9 221.1L386.4 224.0" fill="none" stroke="#000" stroke-width="1.25"/>
<path d="M125.9 221.8L126.4 220.7L126.9 218.8L128.4 209.5L128.9 208.1M180.4 223.6L180.9 222.7L181.4 221.1L181.9 218.9L182.9 212.9L183.4 210.9L183.9 210.7M184.9 212.1L185.4 211.1L186.4 207.1L186.9 207.3M190.9 222.6L191.4 221.7L191.9 220.0L192.4 217.1L193.4 208.4L193.9 204.9L194.4 204.6M204.9 224.1L205.4 223.0L205.9 221.0L206.9 215.2L207.4 212.9L207.9 212.6M212.4 224.4L212.9 223.7L213.4 222.2L213.9 219.8L215.4 208.6L215.9 207.6M285.9 226.6L286.9 224.6L287.4 223.9M292.9 226.0L293.9 224.0L294.4 223.7M299.9 226.6L300.9 224.5L301.4 223.9M316.4 225.1L317.4 223.8L317.9 222.9M333.4 225.8L333.9 225.3L334.9 223.7L335.4 223.1M341.4 227.1L342.4 225.2L342.9 224.7M376.9 227.5L377.9 226.3L378.4 225.2L378.9 223.5" fill="none" stroke="#1a1a1a" stroke-width="0.95"/>
<path d="M93.3 241.3L93.3 222.4L96.3 223.0L100.8 223.3L106.8 224.2L113.8 224.5L117.8 225.2L123.3 224.9L124.8 224.6L125.8 224.0L126.3 223.4L126.8 222.3L127.3 220.4L127.8 217.7L128.8 211.3L129.3 210.0L129.8 211.4L130.8 218.1L131.3 220.9L131.8 222.8L132.3 223.9L132.8 224.5L133.8 225.1L135.8 225.5L141.3 225.9L146.3 226.1L150.3 226.6L155.3 226.8L160.3 227.1L167.3 227.1L172.8 227.4L177.3 227.0L178.8 226.8L179.8 226.5L180.3 226.2L180.8 225.7L181.3 224.8L181.8 223.4L182.3 221.1L183.3 215.3L183.8 213.4L184.3 213.2L184.8 214.1L185.3 214.6L185.8 213.8L186.8 210.1L187.3 210.4L187.8 213.0L188.8 220.2L189.3 222.7L189.8 224.3L190.3 225.1L190.8 225.3L191.3 225.1L191.8 224.3L192.3 222.7L192.8 220.0L194.3 208.9L194.8 208.6L195.3 211.4L196.3 219.6L196.8 222.6L197.3 224.6L197.8 225.7L198.3 226.3L199.3 226.8L201.3 227.4L202.8 227.5L203.8 227.3L204.3 227.0L204.8 226.5L205.3 225.7L205.8 224.3L206.3 222.1L207.8 213.2L208.3 212.9L208.8 215.1L209.8 221.6L210.3 223.9L210.8 225.4L211.3 226.2L211.8 226.5L212.3 226.5L212.8 226.3L213.3 225.6L213.8 224.2L214.3 222.0L215.8 211.5L216.3 210.5L216.8 212.7L218.3 223.4L218.8 225.4L219.3 226.5L219.8 227.2L220.3 227.6L221.8 228.2L223.8 228.6L226.8 228.9L231.8 228.5L232.8 228.0L233.3 227.5L234.8 225.3L235.3 225.2L237.3 228.2L238.3 228.8L240.8 229.2L249.8 229.8L251.8 229.8L254.8 229.5L258.8 229.6L260.3 229.5L261.3 229.2L261.8 228.9L263.3 227.5L263.8 227.4L264.3 227.7L265.8 229.2L266.3 229.5L267.3 229.7L269.8 229.9L276.3 230.0L281.3 230.3L283.8 230.3L284.8 230.1L285.8 229.5L286.3 229.0L287.8 226.4L288.3 226.2L288.8 226.8L289.8 228.6L290.3 229.3L290.8 229.7L291.8 229.8L292.3 229.7L292.8 229.3L293.3 228.6L294.3 226.7L294.8 226.0L295.3 226.2L296.8 228.8L297.3 229.3L297.8 229.6L298.8 229.8L299.3 229.6L299.8 229.3L300.3 228.6L301.8 225.7L302.3 225.7L303.8 228.7L304.3 229.4L304.8 229.8L305.8 230.2L308.8 230.2L311.8 229.8L314.3 229.0L315.3 228.4L316.3 227.7L317.3 226.7L318.3 225.2L319.3 222.7L319.8 220.6L320.3 217.3L320.8 211.5L321.3 201.3L321.8 183.7L322.3 156.3L323.8 42.2L324.3 32.8L324.8 54.6L326.3 169.1L326.8 192.2L327.3 206.2L327.8 214.2L328.3 218.7L328.8 221.4L329.8 224.5L330.3 225.5L331.3 226.9L331.8 227.4L332.8 228.1L333.3 228.2L333.8 228.1L334.3 227.8L335.8 225.7L336.3 225.7L338.3 229.4L338.8 229.9L339.8 230.3L340.8 230.3L341.3 229.9L341.8 229.3L343.3 226.7L343.8 226.7L345.3 229.6L345.8 230.3L346.3 230.7L347.3 231.1L348.8 231.2L358.8 231.3L364.3 231.9L367.8 231.8L374.8 230.9L375.8 230.6L376.8 230.0L377.8 229.1L378.3 228.4L378.8 227.4L379.3 225.8L379.8 223.0L380.3 218.0L380.8 209.5L381.3 196.7L382.3 161.4L382.8 148.1L383.3 146.8L383.8 158.6L384.8 194.1L385.3 207.8L385.8 217.0L386.3 222.5L386.8 225.6L387.3 227.3L387.8 228.4L388.3 229.1L389.3 230.0L390.8 230.9L392.3 231.4L394.8 231.9L398.3 232.3L403.3 232.5L408.3 232.8L411.8 232.8L414.8 233.0L418.8 232.7L421.8 232.7L426.3 233.2L427.8 233.3L430.3 233.2L433.3 233.2L434.3 233.0L434.8 232.6L435.3 232.1L436.8 229.5L437.3 229.2L437.8 229.5L438.8 231.2L439.8 232.4L440.3 232.7L441.3 232.8L442.8 232.8L443.8 232.3L444.3 231.8L445.8 229.7L446.3 229.7L448.3 232.5L449.3 233.0L450.3 233.2L455.8 233.6L460.3 233.4L463.8 233.6L471.3 233.7L482.8 234.2L489.3 234.0L494.8 234.2L497.8 234.1L497.9 241.3Z"/>
<path d="M318.3 225.2L318.8 224.1L319.3 222.7L319.8 220.6L320.3 217.3L320.8 211.5L321.3 201.3L321.8 183.7L322.3 156.3L323.8 42.2L324.3 32.8L324.8 54.6L325.8 135.7L326.3 169.1L326.8 192.2L327.3 206.2L327.8 214.2L328.3 218.7L328.8 221.4L329.3 223.2L329.8 224.5L330.3 225.5M379.3 225.8L379.8 223.0L380.3 218.0L380.8 209.5L381.3 196.7L382.3 161.4L382.8 148.1L383.3 146.8L383.8 158.6L384.8 194.1L385.3 207.8L385.8 217.0L386.3 222.5L386.8 225.6L387.3 227.3" fill="none" stroke="#000" stroke-width="1.25"/>
<path d="M126.3 223.4L126.8 222.3L127.3 220.4L128.8 211.3L129.3 210.0M180.8 225.7L181.3 224.8L181.8 223.4L182.3 221.1L183.3 215.3L183.8 213.4L184.3 213.2M185.3 214.6L185.8 213.8L186.8 210.1L187.3 210.4M191.3 225.1L191.8 224.3L192.3 222.7L192.8 220.0L193.8 212.1L194.3 208.9L194.8 208.6M205.3 225.7L205.8 224.3L206.3 222.1L207.3 215.7L207.8 213.2L208.3 212.9M212.8 226.3L213.3 225.6L213.8 224.2L214.3 222.0L215.8 211.5L216.3 210.5M233.8 226.8L234.8 225.3M286.8 228.2L287.8 226.4M293.3 228.6L294.3 226.7L294.8 226.0M300.3 228.6L301.3 226.5L301.8 225.7M316.8 227.3L317.8 226.0L318.3 225.2M334.3 227.8L335.8 225.7M341.8 229.3L342.8 227.4L343.3 226.7M377.3 229.6L378.3 228.4L378.8 227.4L379.3 225.8M436.3 230.4L436.8 229.5L437.3 229.2M444.8 231.1L445.3 230.3L445.8 229.7" fill="none" stroke="#1a1a1a" stroke-width="0.95"/>
<path d="M93.8 243.2L93.8 224.1L97.8 224.9L101.8 225.3L107.3 226.1L120.8 226.9L123.3 226.8L125.3 226.6L126.3 226.1L126.8 225.6L127.3 224.7L127.8 223.0L128.3 220.6L129.3 214.7L129.8 213.5L130.3 214.8L131.3 220.8L131.8 223.4L132.3 225.1L132.8 226.1L133.3 226.7L134.3 227.2L141.3 228.4L151.8 228.8L153.3 228.8L157.3 228.6L160.8 228.6L165.3 229.0L169.8 228.9L174.3 229.4L178.8 228.9L179.8 228.7L180.8 228.2L181.3 227.7L181.8 226.8L182.3 225.3L182.8 222.9L183.8 216.9L184.3 214.8L184.8 214.6L185.3 215.4L185.8 215.7L186.3 214.6L187.3 210.1L187.8 210.3L188.3 213.2L189.3 221.1L189.8 223.9L190.3 225.7L190.8 226.6L191.3 227.0L191.8 226.8L192.3 226.1L192.8 224.6L193.3 222.0L194.8 211.1L195.3 210.8L195.8 213.7L196.8 222.0L197.3 225.0L197.8 227.0L198.3 228.1L198.8 228.7L199.8 229.2L200.8 229.4L202.8 229.6L204.3 229.4L205.3 228.8L205.8 228.1L206.3 226.9L206.8 224.9L208.3 217.0L208.8 216.7L209.3 218.7L210.3 224.3L210.8 226.3L211.3 227.6L211.8 228.3L212.3 228.6L212.8 228.6L213.3 228.3L213.8 227.6L214.3 226.3L214.8 224.0L216.3 213.3L216.8 212.4L217.3 214.6L218.8 225.7L219.3 227.7L219.8 228.9L220.3 229.6L221.3 230.2L222.3 230.4L229.8 230.8L232.3 230.7L232.8 230.5L233.3 230.1L233.8 229.4L235.3 226.4L235.8 226.4L236.3 227.1L237.3 229.3L237.8 230.1L238.3 230.6L238.8 230.9L240.8 231.3L245.8 231.4L249.8 231.7L257.8 231.7L260.8 231.5L261.8 231.2L262.3 230.9L263.8 229.3L264.3 229.0L264.8 229.2L266.3 230.8L266.8 231.1L268.3 231.8L270.3 232.2L273.3 232.4L283.8 232.2L285.3 232.0L286.3 231.5L286.8 231.0L287.3 230.2L288.3 228.1L288.8 227.6L289.3 228.0L290.8 230.8L291.3 231.3L291.8 231.5L292.3 231.6L292.8 231.5L293.3 231.2L293.8 230.6L295.3 228.0L295.8 227.9L296.3 228.6L297.3 230.6L297.8 231.2L298.3 231.6L298.8 231.8L299.8 231.7L300.3 231.4L300.8 230.9L302.3 228.3L302.8 228.0L303.3 228.5L304.3 230.5L304.8 231.2L305.3 231.6L305.8 231.9L306.8 232.1L309.8 231.9L312.8 231.4L314.8 230.7L316.8 229.5L317.8 228.6L318.8 227.2L319.8 224.8L320.3 222.9L320.8 219.8L321.3 214.5L321.8 205.0L322.3 188.3L322.8 162.0L324.3 47.2L324.8 34.7L325.3 53.6L326.8 168.4L327.3 192.4L327.8 207.2L328.3 215.6L328.8 220.3L329.3 223.0L330.3 226.2L330.8 227.2L331.8 228.7L332.8 229.6L333.3 229.9L333.8 230.1L334.3 230.1L334.8 229.8L335.3 229.2L336.3 227.4L336.8 227.0L337.3 227.5L338.3 229.8L339.3 231.5L340.3 232.2L341.3 232.3L341.8 232.1L342.3 231.6L343.8 228.6L344.3 228.2L344.8 228.9L345.8 231.2L346.3 232.0L346.8 232.5L347.8 232.8L353.8 233.5L364.3 233.8L371.8 233.4L373.8 233.0L376.3 232.2L377.8 231.3L378.8 230.2L379.3 229.2L379.8 227.7L380.3 225.1L380.8 220.3L381.3 212.3L381.8 199.8L383.3 150.3L383.8 147.7L384.3 158.3L385.8 208.2L386.3 217.9L386.8 223.7L387.3 227.1L387.8 229.0L388.3 230.1L388.8 230.9L390.3 232.3L391.3 233.0L392.8 233.6L394.3 234.0L395.8 234.2L402.3 234.3L407.8 234.8L413.3 234.5L425.3 235.0L430.3 234.9L434.3 234.6L435.3 234.2L435.8 233.6L436.3 232.8L437.3 230.6L437.8 230.0L438.3 230.2L439.8 233.2L440.3 233.9L440.8 234.2L441.8 234.5L443.3 234.5L444.3 234.0L444.8 233.5L446.3 231.0L446.8 230.8L447.3 231.3L448.8 234.0L449.3 234.6L449.8 234.9L450.8 235.2L453.3 235.5L456.3 235.7L462.8 235.5L467.3 235.7L470.8 235.6L475.3 236.0L480.3 235.7L485.3 235.8L489.3 235.5L490.8 235.6L494.8 236.2L498.3 236.2L498.4 243.2Z"/>
<path d="M318.8 227.2L319.3 226.2L319.8 224.8L320.3 222.9L320.8 219.8L321.3 214.5L321.8 205.0L322.3 188.3L322.8 162.0L324.3 47.2L324.8 34.7L325.3 53.6L326.3 134.1L326.8 168.4L327.3 192.4L327.8 207.2L328.3 215.6L328.8 220.3L329.3 223.0L329.8 224.9L330.8 227.2M379.8 227.7L380.3 225.1L380.8 220.3L381.3 212.3L381.8 199.8L382.8 164.7L383.3 150.3L383.8 147.7L384.3 158.3L385.3 194.0L385.8 208.2L386.3 217.9L386.8 223.7L387.3 227.1L387.8 229.0" fill="none" stroke="#000" stroke-width="1.25"/>
<path d="M127.3 224.7L127.8 223.0L128.3 220.6L129.3 214.7L129.8 213.5M181.8 226.8L182.3 225.3L182.8 222.9L183.8 216.9L184.3 214.8L184.8 214.6M185.8 215.7L186.3 214.6L187.3 210.1L187.8 210.3M191.8 226.8L192.3 226.1L192.8 224.6L193.3 222.0L194.3 214.2L194.8 211.1L195.3 210.8M205.8 228.1L206.3 226.9L206.8 224.9L207.8 219.3L208.3 217.0L208.8 216.7M213.3 228.3L213.8 227.6L214.3 226.3L214.8 224.0L216.3 213.3L216.8 212.4M234.3 228.4L234.8 227.3L235.3 226.4M287.3 230.2L288.3 228.1L288.8 227.6M294.3 229.8L295.3 228.0M301.3 230.1L302.3 228.3M317.8 228.6L318.8 227.2M334.8 229.8L335.3 229.2L336.3 227.4L336.8 227.0M342.3 231.6L343.8 228.6L344.3 228.2M378.3 230.8L378.8 230.2L379.3 229.2L379.8 227.7M436.3 232.8L437.3 230.6L437.8 230.0M445.3 232.7L446.3 231.0" fill="none" stroke="#1a1a1a" stroke-width="0.95"/>
<path d="M94.3 245.1L94.3 226.0L96.8 226.5L102.8 227.3L108.8 227.6L115.3 228.2L123.3 228.4L125.3 228.3L126.3 228.1L126.8 227.8L127.3 227.1L127.8 225.9L128.3 223.8L128.8 220.7L129.8 213.4L130.3 211.9L130.8 213.4L131.8 220.8L132.3 224.0L132.8 226.2L133.3 227.5L133.8 228.2L134.3 228.7L135.3 229.1L136.8 229.5L138.3 229.7L142.8 229.8L146.8 229.8L151.3 230.3L156.3 230.3L160.8 230.8L165.8 230.8L170.3 231.2L179.3 230.7L180.3 230.5L181.3 230.0L181.8 229.4L182.3 228.4L182.8 226.7L183.3 224.1L184.3 217.5L184.8 215.2L185.3 215.1L185.8 216.1L186.3 216.6L186.8 215.6L187.8 211.3L188.3 211.6L188.8 214.6L189.8 222.9L190.3 225.9L190.8 227.7L191.3 228.7L191.8 229.0L192.3 228.8L192.8 228.1L193.3 226.5L193.8 223.8L195.3 212.5L195.8 212.2L196.3 215.0L197.3 223.3L197.8 226.3L198.3 228.3L198.8 229.4L199.3 230.0L200.3 230.6L201.8 231.0L203.3 231.2L204.8 231.0L205.8 230.4L206.3 229.7L206.8 228.4L207.3 226.4L208.8 217.8L209.3 217.6L209.8 219.7L210.8 225.8L211.3 227.9L211.8 229.3L212.3 230.0L212.8 230.2L213.3 230.2L213.8 229.9L214.3 229.2L214.8 227.8L215.3 225.3L216.8 214.0L217.3 213.0L217.8 215.3L219.3 226.9L219.8 229.0L220.3 230.3L220.8 231.0L221.3 231.4L222.3 231.8L224.3 232.4L226.3 232.6L230.3 232.6L231.8 232.5L232.8 232.3L233.8 231.6L234.3 230.9L235.8 228.1L236.3 228.0L236.8 228.7L237.8 230.9L238.3 231.7L238.8 232.2L239.3 232.5L240.3 232.8L242.8 233.2L244.3 233.3L247.8 233.3L251.8 233.5L260.8 233.5L261.8 233.3L262.8 232.8L264.3 231.1L264.8 230.8L265.3 230.9L266.8 232.5L267.3 232.9L268.3 233.3L274.8 234.2L283.3 234.0L285.8 233.8L286.8 233.5L287.3 233.1L287.8 232.5L288.8 230.8L289.3 230.2L289.8 230.3L291.3 232.7L291.8 233.2L292.3 233.5L292.8 233.6L293.3 233.5L293.8 233.2L294.3 232.7L295.8 229.6L296.3 229.2L296.8 229.7L298.3 232.7L298.8 233.2L299.3 233.4L299.8 233.5L300.8 233.2L301.3 232.7L301.8 232.0L302.8 230.0L303.3 229.4L303.8 229.7L305.3 232.4L305.8 232.9L306.8 233.4L308.3 233.6L310.3 233.8L312.3 233.5L315.3 232.5L317.3 231.3L318.3 230.4L319.3 229.0L320.3 226.6L320.8 224.7L321.3 221.8L321.8 216.7L322.3 207.6L322.8 191.8L323.3 166.5L324.8 51.3L325.3 35.7L325.8 51.8L327.3 167.0L327.8 192.1L328.3 207.8L328.8 216.7L329.3 221.7L329.8 224.7L330.8 228.0L331.3 229.1L332.3 230.6L333.8 232.0L334.3 232.2L334.8 232.3L335.3 232.1L335.8 231.5L336.8 229.6L337.3 228.9L337.8 229.1L339.3 232.3L339.8 233.0L340.8 233.6L341.8 233.7L342.3 233.6L342.8 233.2L343.3 232.6L344.3 230.7L344.8 230.2L345.3 230.6L346.8 233.5L347.3 234.1L348.3 234.7L353.3 235.3L357.8 235.3L361.8 235.6L370.3 235.3L374.3 234.8L375.8 234.4L377.3 233.8L378.3 233.1L379.3 232.1L379.8 231.2L380.3 229.7L380.8 227.3L381.3 222.8L381.8 215.2L382.3 203.2L383.8 153.2L384.3 149.1L384.8 158.6L385.8 194.3L386.3 209.0L386.8 219.1L387.3 225.3L387.8 228.9L388.3 230.9L388.8 232.1L389.3 232.9L390.3 233.9L391.3 234.6L392.8 235.1L398.8 235.8L403.8 236.3L408.3 236.4L415.8 236.8L432.3 236.8L434.8 236.6L435.8 236.1L436.3 235.6L436.8 234.8L437.8 232.6L438.3 231.7L438.8 231.7L440.8 235.6L441.3 236.1L441.8 236.4L443.3 236.6L444.3 236.4L444.8 236.1L445.3 235.5L446.8 232.5L447.3 232.0L447.8 232.3L449.3 235.5L449.8 236.2L450.8 236.8L452.3 237.1L466.8 237.6L471.8 237.4L479.3 237.5L486.8 237.8L498.8 238.1L498.9 245.1Z"/>
<path d="M319.3 229.0L319.8 228.0L320.3 226.6L320.8 224.7L321.3 221.8L321.8 216.7L322.3 207.6L322.8 191.8L323.3 166.5L324.8 51.3L325.3 35.7L325.8 51.8L327.3 167.0L327.8 192.1L328.3 207.8L328.8 216.7L329.3 221.7L329.8 224.7L330.3 226.6L330.8 228.0L331.3 229.1M380.3 229.7L380.8 227.3L381.3 222.8L381.8 215.2L382.3 203.2L383.8 153.2L384.3 149.1L384.8 158.6L385.8 194.3L386.3 209.0L386.8 219.1L387.3 225.3L387.8 228.9L388.3 230.9" fill="none" stroke="#000" stroke-width="1.25"/>
<path d="M127.3 227.1L127.8 225.9L128.3 223.8L129.8 213.4L130.3 211.9M181.8 229.4L182.3 228.4L182.8 226.7L183.3 224.1L184.3 217.5L184.8 215.2L185.3 215.1M186.3 216.6L186.8 215.6L187.8 211.3L188.3 211.6M192.3 228.8L192.8 228.1L193.3 226.5L193.8 223.8L194.8 215.8L195.3 212.5L195.8 212.2M206.3 229.7L206.8 228.4L207.3 226.4L208.3 220.3L208.8 217.8L209.3 217.6M213.8 229.9L214.3 229.2L214.8 227.8L215.3 225.3L216.8 214.0L217.3 213.0M234.3 230.9L235.3 228.9L235.8 228.1M288.3 231.7L288.8 230.8L289.3 230.2M294.8 231.8L295.8 229.6L296.3 229.2M301.8 232.0L302.8 230.0L303.3 229.4M318.3 230.4L319.3 229.0M335.3 232.1L335.8 231.5L336.8 229.6L337.3 228.9M342.8 233.2L343.3 232.6L344.3 230.7L344.8 230.2M378.8 232.7L379.3 232.1L379.8 231.2L380.3 229.7M436.8 234.8L437.8 232.6L438.3 231.7M445.8 234.7L446.8 232.5L447.3 232.0" fill="none" stroke="#1a1a1a" stroke-width="0.95"/>
<path d="M94.7 247.1L94.7 228.9L104.7 230.5L115.2 230.8L121.7 231.4L125.2 231.4L126.7 231.1L127.2 230.9L127.7 230.4L128.2 229.4L128.7 227.8L129.2 225.4L130.2 219.7L130.7 218.5L131.2 219.8L132.2 225.6L132.7 228.0L133.2 229.7L133.7 230.7L134.2 231.3L135.2 231.8L137.7 232.3L139.7 232.6L144.7 232.8L149.7 232.7L157.7 233.3L179.7 233.3L180.7 233.1L181.7 232.6L182.2 232.0L182.7 231.1L183.2 229.5L183.7 227.1L184.7 220.8L185.2 218.7L185.7 218.6L186.2 219.6L186.7 220.1L187.2 219.2L188.2 215.3L188.7 215.5L189.2 218.3L190.2 225.9L190.7 228.6L191.2 230.3L191.7 231.1L192.2 231.3L192.7 231.1L193.2 230.3L193.7 228.6L194.2 225.8L195.7 214.2L196.2 213.9L196.7 216.9L197.7 225.5L198.2 228.7L198.7 230.7L199.2 231.9L199.7 232.5L200.2 232.9L201.2 233.3L202.7 233.6L204.2 233.7L205.2 233.6L206.2 233.0L206.7 232.3L207.2 231.0L207.7 228.9L209.2 220.3L209.7 220.1L210.2 222.2L211.2 228.3L211.7 230.5L212.2 231.8L212.7 232.5L213.2 232.8L213.7 232.8L214.2 232.5L214.7 231.9L215.2 230.6L215.7 228.4L217.2 218.4L217.7 217.6L218.2 219.6L219.7 229.9L220.2 231.8L220.7 232.9L221.2 233.6L222.2 234.3L223.7 234.8L224.7 234.8L227.7 234.7L232.2 235.0L233.2 234.9L234.2 234.4L234.7 233.8L236.2 231.3L236.7 231.2L238.7 234.4L239.7 235.1L241.2 235.3L245.2 235.3L248.2 235.7L252.2 235.6L257.2 236.3L259.2 236.2L262.7 235.6L263.7 235.0L265.2 233.6L265.7 233.6L267.7 235.6L268.2 235.9L269.2 236.1L271.7 236.3L286.2 236.2L287.2 236.0L287.7 235.7L288.2 235.1L289.7 232.4L290.2 232.2L290.7 232.8L291.7 234.7L292.2 235.3L292.7 235.7L293.2 235.9L293.7 235.9L294.2 235.7L294.7 235.3L295.2 234.6L296.2 232.7L296.7 232.1L297.2 232.2L298.7 234.9L299.2 235.5L299.7 235.8L300.2 235.9L301.2 235.7L301.7 235.4L302.2 234.7L303.7 231.8L304.2 231.8L305.7 234.8L306.2 235.5L306.7 235.9L307.7 236.2L310.2 236.2L313.2 235.7L316.2 234.9L317.7 234.1L318.7 233.1L319.7 231.7L320.7 229.3L321.2 227.4L321.7 224.5L322.2 219.8L322.7 211.2L323.2 196.2L323.7 172.0L325.2 56.8L325.7 38.2L326.2 51.2L327.7 166.3L328.2 192.5L328.7 209.1L329.2 218.6L329.7 224.0L330.2 227.1L330.7 229.2L331.2 230.6L331.7 231.7L332.7 233.2L333.2 233.7L334.2 234.5L335.2 234.8L335.7 234.6L336.2 234.3L337.7 232.0L338.2 232.0L340.2 235.6L340.7 236.1L341.7 236.4L342.7 236.3L343.2 235.9L343.7 235.3L345.2 232.7L345.7 232.8L347.2 235.6L347.7 236.3L348.7 236.9L357.2 237.9L360.2 237.9L363.7 238.0L367.7 237.7L372.2 237.6L374.2 237.4L376.2 236.9L377.7 236.3L378.7 235.6L379.7 234.5L380.2 233.6L380.7 232.3L381.2 229.9L381.7 225.7L382.2 218.4L382.7 206.8L384.2 156.3L384.7 150.7L385.2 159.0L386.2 194.5L386.7 209.7L387.2 220.3L387.7 226.9L388.2 230.6L388.7 232.8L389.2 234.0L389.7 234.9L390.7 235.9L392.2 236.8L393.7 237.3L400.7 238.5L402.7 238.8L409.2 238.6L417.2 239.2L421.7 239.1L428.2 239.1L434.2 238.9L435.7 238.7L436.2 238.4L436.7 237.9L437.2 237.1L438.7 233.4L439.2 233.0L439.7 233.8L441.2 237.7L441.7 238.4L442.2 238.8L443.2 239.1L444.2 239.1L444.7 238.9L445.2 238.6L445.7 238.1L446.2 237.2L447.2 234.8L447.7 234.0L448.2 234.1L449.7 237.4L450.2 238.2L450.7 238.7L451.2 238.9L452.2 239.1L457.7 239.7L461.2 239.7L464.2 239.8L471.7 239.6L478.2 239.9L482.2 239.7L487.2 240.0L495.2 239.9L499.2 240.1L499.3 247.1Z"/>
<path d="M320.2 230.6L320.7 229.3L321.2 227.4L321.7 224.5L322.2 219.8L322.7 211.2L323.2 196.2L323.7 172.0L324.2 137.3L325.2 56.8L325.7 38.2L326.2 51.2L327.7 166.3L328.2 192.5L328.7 209.1L329.2 218.6L329.7 224.0L330.2 227.1L330.7 229.2L331.2 230.6M380.7 232.3L381.2 229.9L381.7 225.7L382.2 218.4L382.7 206.8L384.2 156.3L384.7 150.7L385.2 159.0L386.2 194.5L386.7 209.7L387.2 220.3L387.7 226.9L388.2 230.6L388.7 232.8" fill="none" stroke="#000" stroke-width="1.25"/>
<path d="M128.2 229.4L128.7 227.8L129.2 225.4L130.2 219.7L130.7 218.5M182.7 231.1L183.2 229.5L183.7 227.1L184.7 220.8L185.2 218.7L185.7 218.6M186.7 220.1L187.2 219.2L188.2 215.3L188.7 215.5M192.7 231.1L193.2 230.3L193.7 228.6L194.2 225.8L195.2 217.5L195.7 214.2L196.2 213.9M206.7 232.3L207.2 231.0L207.7 228.9L208.7 222.8L209.2 220.3L209.7 220.1M214.7 231.9L215.2 230.6L215.7 228.4L217.2 218.4L217.7 217.6M235.2 233.0L236.2 231.3M288.7 234.3L289.7 232.4M295.7 233.7L296.2 232.7L296.7 232.1M302.2 234.7L303.2 232.6L303.7 231.8M318.7 233.1L319.7 231.7L320.2 230.6M336.2 234.3L337.7 232.0M343.7 235.3L344.7 233.5L345.2 232.7M379.2 235.1L379.7 234.5L380.2 233.6L380.7 232.3M437.2 237.1L438.7 233.4L439.2 233.0M446.2 237.2L447.2 234.8L447.7 234.0" fill="none" stroke="#1a1a1a" stroke-width="0.95"/>
<path d="M95.2 249.0L95.2 230.5L102.2 231.5L106.7 231.8L113.2 232.7L118.7 233.1L124.7 233.2L126.2 233.1L127.2 232.9L127.7 232.6L128.2 232.1L128.7 231.2L129.2 229.6L129.7 227.1L130.7 221.4L131.2 220.2L131.7 221.4L132.7 227.3L133.2 229.7L133.7 231.4L134.2 232.3L134.7 232.8L135.7 233.3L139.2 234.0L145.2 234.1L149.2 234.6L154.7 235.1L158.7 235.0L165.2 235.0L172.2 235.3L178.2 235.2L180.2 235.0L181.2 234.8L182.2 234.2L182.7 233.7L183.2 232.7L183.7 231.1L184.2 228.6L185.2 222.4L185.7 220.3L186.2 220.2L186.7 221.2L187.2 221.8L187.7 221.0L188.7 217.3L189.2 217.5L189.7 220.3L190.7 227.6L191.2 230.3L191.7 231.9L192.2 232.7L192.7 232.9L193.2 232.6L193.7 231.8L194.2 230.1L194.7 227.4L196.2 215.8L196.7 215.5L197.2 218.6L198.2 227.4L198.7 230.6L199.2 232.6L199.7 233.8L200.2 234.4L200.7 234.8L201.7 235.3L203.7 235.6L204.7 235.6L205.7 235.4L206.7 234.8L207.2 234.1L207.7 232.8L208.2 230.8L209.7 222.7L210.2 222.4L210.7 224.4L211.7 230.3L212.2 232.4L212.7 233.6L213.2 234.3L213.7 234.5L214.2 234.5L214.7 234.2L215.2 233.4L215.7 231.8L216.2 229.1L217.7 216.9L218.2 215.9L218.7 218.4L220.2 230.8L220.7 233.1L221.2 234.4L221.7 235.2L222.2 235.6L223.2 236.1L225.2 236.6L227.2 236.8L230.2 236.7L232.7 236.8L233.7 236.7L234.2 236.5L234.7 236.0L235.2 235.3L236.7 232.3L237.2 232.2L237.7 232.9L238.7 235.0L239.2 235.8L239.7 236.2L240.2 236.5L241.2 236.8L244.7 237.3L249.7 237.7L262.7 237.9L263.7 237.5L264.2 237.2L265.7 235.5L266.2 235.4L266.7 235.7L268.2 237.2L269.2 237.7L270.2 237.8L272.7 238.0L280.2 238.3L287.2 237.9L288.2 237.5L288.7 237.0L290.2 234.1L290.7 233.6L291.2 234.0L292.7 237.0L293.2 237.5L293.7 237.8L294.2 237.8L294.7 237.7L295.2 237.3L295.7 236.7L297.2 234.0L297.7 233.9L298.2 234.5L299.2 236.4L299.7 237.1L300.2 237.5L301.2 237.8L301.7 237.7L302.2 237.5L302.7 237.0L304.2 234.4L304.7 234.2L305.2 234.7L306.7 237.3L307.7 238.0L308.7 238.2L311.2 238.2L314.2 237.7L316.2 236.9L318.2 235.6L319.2 234.6L320.2 233.2L321.2 231.0L321.7 229.2L322.2 226.5L322.7 221.9L323.2 213.8L323.7 199.6L324.2 176.4L325.7 61.4L326.2 40.0L326.7 49.9L328.2 164.7L328.7 192.0L329.2 209.5L329.7 219.7L330.2 225.4L330.7 228.7L331.2 230.9L331.7 232.4L332.2 233.5L333.2 235.0L333.7 235.5L334.7 236.3L335.7 236.6L336.2 236.6L336.7 236.3L337.2 235.7L338.2 234.2L338.7 233.9L339.2 234.4L340.2 236.3L341.2 237.7L341.7 238.0L342.7 238.3L343.2 238.2L343.7 238.0L344.2 237.5L345.7 234.8L346.2 234.5L346.7 235.1L348.2 238.0L348.7 238.6L349.2 238.9L350.2 239.2L352.7 239.7L354.2 239.9L359.7 239.6L365.2 239.7L374.2 239.4L376.2 239.0L377.7 238.4L379.2 237.5L380.2 236.4L380.7 235.6L381.2 234.3L381.7 232.0L382.2 228.0L382.7 221.1L383.2 209.9L384.7 159.1L385.2 152.2L385.7 159.2L387.2 210.2L387.7 221.3L388.2 228.3L388.7 232.3L389.2 234.6L389.7 235.9L390.2 236.8L390.7 237.5L391.7 238.4L392.7 238.9L394.2 239.4L399.2 240.2L403.2 240.6L408.2 240.6L412.2 240.4L421.2 240.9L425.2 240.5L429.7 241.0L434.2 241.0L435.2 240.9L436.2 240.6L437.2 239.9L437.7 239.1L438.2 238.1L439.2 235.6L439.7 235.0L440.2 235.4L441.7 238.9L442.2 239.7L442.7 240.1L443.2 240.4L444.7 240.6L445.7 240.1L446.2 239.6L446.7 238.7L448.2 234.8L448.7 234.6L449.2 235.5L450.2 238.4L450.7 239.5L451.2 240.2L451.7 240.6L452.2 240.9L453.2 241.1L458.2 241.5L464.2 241.7L468.7 241.6L473.2 241.9L481.2 241.8L489.2 242.0L494.2 241.8L499.7 242.0L499.8 249.0Z"/>
<path d="M320.7 232.3L321.2 231.0L321.7 229.2L322.2 226.5L322.7 221.9L323.2 213.8L323.7 199.6L324.2 176.4L324.7 142.6L325.7 61.4L326.2 40.0L326.7 49.9L328.2 164.7L328.7 192.0L329.2 209.5L329.7 219.7L330.2 225.4L330.7 228.7L331.2 230.9L331.7 232.4M381.2 234.3L381.7 232.0L382.2 228.0L382.7 221.1L383.2 209.9L384.7 159.1L385.2 152.2L385.7 159.2L387.2 210.2L387.7 221.3L388.2 228.3L388.7 232.3L389.2 234.6" fill="none" stroke="#000" stroke-width="1.25"/>
<path d="M128.7 231.2L129.2 229.6L129.7 227.1L130.7 221.4L131.2 220.2M183.2 232.7L183.7 231.1L184.2 228.6L185.2 222.4L185.7 220.3L186.2 220.2M187.2 221.8L187.7 221.0L188.7 217.3L189.2 217.5M193.2 232.6L193.7 231.8L194.2 230.1L194.7 227.4L195.7 219.1L196.2 215.8L196.7 215.5M207.2 234.1L207.7 232.8L208.2 230.8L209.2 225.0L209.7 222.7L210.2 222.4M214.7 234.2L215.2 233.4L215.7 231.8L216.2 229.1L217.7 216.9L218.2 215.9M235.7 234.3L236.7 232.3M289.2 236.2L290.2 234.1L290.7 233.6M296.2 235.9L297.2 234.0M303.2 236.3L304.2 234.4M319.2 234.6L320.2 233.2L320.7 232.3M336.7 236.3L337.2 235.7L338.2 234.2M344.7 236.7L345.7 234.8M379.7 237.0L380.2 236.4L380.7 235.6L381.2 234.3M437.7 239.1L439.2 235.6L439.7 235.0M446.7 238.7L448.2 234.8L448.7 234.6" fill="none" stroke="#1a1a1a" stroke-width="0.95"/>
<path d="M95.6 251.0L95.6 232.3L98.1 232.7L103.6 233.1L108.6 233.8L115.6 234.1L120.6 234.9L122.1 234.9L127.1 234.3L128.1 233.9L128.6 233.3L129.1 232.2L129.6 230.5L130.1 227.8L131.1 221.6L131.6 220.3L132.1 221.7L133.1 228.1L133.6 230.8L134.1 232.7L134.6 233.9L135.1 234.5L136.1 235.1L137.1 235.3L140.1 235.5L146.1 236.1L151.1 236.2L167.1 237.1L173.6 236.8L178.6 236.9L180.6 236.8L181.6 236.6L182.6 236.1L183.1 235.6L183.6 234.8L184.1 233.3L184.6 231.0L185.6 225.1L186.1 223.1L186.6 222.8L187.1 223.5L187.6 223.7L188.1 222.4L189.1 217.8L189.6 218.0L190.1 221.0L191.1 229.0L191.6 231.9L192.1 233.6L192.6 234.5L193.1 234.8L193.6 234.5L194.1 233.6L194.6 231.8L195.1 228.8L196.6 216.1L197.1 215.8L197.6 219.0L198.6 228.5L199.1 231.9L199.6 234.1L200.1 235.4L200.6 236.1L201.6 236.8L203.1 237.2L204.6 237.4L206.1 237.2L207.1 236.6L207.6 235.9L208.1 234.7L208.6 232.6L210.1 224.1L210.6 223.8L211.1 225.8L212.1 231.8L212.6 233.9L213.1 235.3L213.6 236.0L214.1 236.2L214.6 236.2L215.1 236.0L215.6 235.2L216.1 233.7L216.6 231.2L218.1 219.4L218.6 218.4L219.1 220.8L220.6 232.8L221.1 235.0L221.6 236.2L222.1 236.9L222.6 237.3L223.6 237.8L226.1 238.4L228.1 238.7L230.1 238.7L232.6 238.6L234.1 238.3L234.6 238.0L235.1 237.6L235.6 236.8L237.1 233.5L237.6 233.4L238.1 234.2L239.1 236.7L239.6 237.6L240.1 238.1L240.6 238.5L242.1 238.9L246.1 239.2L251.1 239.1L256.6 239.7L262.6 239.5L264.1 239.1L264.6 238.7L266.1 237.0L266.6 236.9L267.1 237.1L268.6 238.9L269.6 239.4L270.6 239.7L275.1 239.8L279.6 240.2L287.6 239.9L288.6 239.6L289.1 239.2L289.6 238.5L290.6 236.5L291.1 235.8L291.6 235.9L293.1 238.6L293.6 239.2L294.1 239.5L295.1 239.5L295.6 239.3L296.1 238.8L296.6 238.1L297.6 236.3L298.1 235.9L298.6 236.3L300.1 238.9L300.6 239.3L301.6 239.5L302.6 239.2L303.1 238.7L303.6 238.0L304.6 235.8L305.1 235.2L305.6 235.6L306.6 237.8L307.1 238.7L307.6 239.3L308.6 239.8L310.1 239.9L313.1 239.6L315.1 239.2L317.1 238.5L319.1 237.2L320.1 236.1L321.1 234.5L322.1 231.6L322.6 229.1L323.1 224.8L323.6 217.3L324.1 203.9L324.6 181.9L326.1 68.6L326.6 44.7L327.1 51.4L328.6 164.0L329.1 192.2L329.6 210.3L330.1 221.0L330.6 226.9L331.1 230.3L331.6 232.4L332.1 233.9L332.6 235.0L333.6 236.6L335.1 237.9L336.1 238.4L336.6 238.4L337.1 238.2L337.6 237.7L338.6 236.1L339.1 235.6L339.6 235.8L341.1 238.7L341.6 239.4L342.1 239.8L343.1 240.1L344.1 240.0L344.6 239.6L345.1 239.0L346.1 237.2L346.6 236.7L347.1 237.0L348.6 239.6L349.6 240.6L351.1 241.1L353.1 241.3L370.1 241.4L373.1 241.3L376.6 240.9L378.1 240.6L379.6 239.7L380.6 238.6L381.1 237.8L381.6 236.5L382.1 234.4L382.6 230.6L383.1 223.9L383.6 213.2L384.1 197.8L385.1 162.1L385.6 153.9L386.1 159.6L387.6 210.7L388.1 222.4L388.6 229.7L389.1 234.0L389.6 236.4L390.1 237.8L390.6 238.7L391.6 239.8L393.1 240.6L395.6 241.3L409.6 242.7L426.1 242.9L432.1 242.5L435.6 242.4L437.1 242.1L437.6 241.7L438.1 241.0L438.6 240.0L439.6 237.1L440.1 236.2L440.6 236.4L442.1 240.4L442.6 241.4L443.1 241.9L443.6 242.3L444.1 242.4L445.1 242.5L446.1 242.1L446.6 241.5L447.1 240.5L447.6 239.1L448.6 235.7L449.1 235.0L449.6 235.8L450.6 239.4L451.1 240.8L451.6 241.8L452.1 242.4L452.6 242.8L454.1 243.2L457.1 243.4L463.6 243.4L468.6 243.1L476.6 243.8L493.6 243.8L497.6 243.6L500.1 243.7L500.2 251.0Z"/>
<path d="M321.1 234.5L321.6 233.3L322.1 231.6L322.6 229.1L323.1 224.8L323.6 217.3L324.1 203.9L324.6 181.9L325.1 149.5L326.1 68.6L326.6 44.7L327.1 51.4L327.6 84.2L328.6 164.0L329.1 192.2L329.6 210.3L330.1 221.0L330.6 226.9L331.1 230.3L331.6 232.4L332.1 233.9L332.6 235.0M381.6 236.5L382.1 234.4L382.6 230.6L383.1 223.9L383.6 213.2L384.1 197.8L385.1 162.1L385.6 153.9L386.1 159.6L387.6 210.7L388.1 222.4L388.6 229.7L389.1 234.0L389.6 236.4" fill="none" stroke="#000" stroke-width="1.25"/>
<path d="M128.6 233.3L129.1 232.2L129.6 230.5L131.1 221.6L131.6 220.3M183.6 234.8L184.1 233.3L184.6 231.0L185.6 225.1L186.1 223.1L186.6 222.8M187.6 223.7L188.1 222.4L189.1 217.8L189.6 218.0M193.6 234.5L194.1 233.6L194.6 231.8L195.1 228.8L196.1 219.7L196.6 216.1L197.1 215.8M207.6 235.9L208.1 234.7L208.6 232.6L209.6 226.6L210.1 224.1L210.6 223.8M215.1 236.0L215.6 235.2L216.1 233.7L216.6 231.2L218.1 219.4L218.6 218.4M235.6 236.8L236.6 234.4L237.1 233.5M290.1 237.6L290.6 236.5L291.1 235.8M296.6 238.1L297.6 236.3L298.1 235.9M303.6 238.0L304.6 235.8L305.1 235.2M319.6 236.7L320.6 235.4L321.1 234.5M337.1 238.2L337.6 237.7L338.6 236.1L339.1 235.6M345.1 239.0L346.1 237.2L346.6 236.7M380.1 239.3L380.6 238.6L381.1 237.8L381.6 236.5M438.1 241.0L438.6 240.0L439.6 237.1L440.1 236.2M447.1 240.5L448.6 235.7L449.1 235.0" fill="none" stroke="#1a1a1a" stroke-width="0.95"/>
<path d="M96.1 252.9L96.1 234.3L98.1 234.7L100.1 235.0L111.1 235.7L117.1 236.3L121.1 236.8L126.1 236.9L127.1 236.8L128.1 236.5L128.6 236.1L129.1 235.5L129.6 234.3L130.1 232.3L130.6 229.3L131.6 222.2L132.1 220.8L132.6 222.2L133.6 229.3L134.1 232.3L134.6 234.3L135.1 235.6L135.6 236.3L136.6 236.9L138.6 237.4L146.1 238.3L151.1 238.2L157.6 238.6L161.6 238.6L166.1 238.8L172.1 238.9L178.6 239.0L181.6 238.8L182.6 238.5L183.1 238.2L183.6 237.7L184.1 236.8L184.6 235.3L185.1 233.0L186.1 227.0L186.6 225.0L187.1 224.9L187.6 225.7L188.1 226.1L188.6 225.2L189.6 221.3L190.1 221.5L190.6 224.2L191.6 231.5L192.1 234.0L192.6 235.6L193.1 236.4L193.6 236.7L194.1 236.5L194.6 235.7L195.1 234.1L195.6 231.3L197.1 219.5L197.6 219.2L198.1 222.2L199.1 231.0L199.6 234.2L200.1 236.2L200.6 237.3L201.1 237.9L202.1 238.5L203.6 238.8L205.6 239.0L206.6 238.9L207.6 238.4L208.1 237.7L208.6 236.5L209.1 234.5L210.6 226.4L211.1 226.2L211.6 228.2L212.6 234.0L213.1 236.1L213.6 237.4L214.1 238.1L214.6 238.4L215.1 238.4L215.6 238.1L216.1 237.3L216.6 235.9L217.1 233.4L218.6 221.9L219.1 220.9L219.6 223.3L221.1 235.0L221.6 237.2L222.1 238.5L222.6 239.2L223.1 239.6L224.1 240.0L231.1 240.6L233.1 240.6L234.6 240.4L235.6 239.9L236.1 239.2L237.6 236.5L238.1 236.5L238.6 237.1L239.6 239.1L240.1 239.8L240.6 240.3L241.6 240.7L247.6 241.2L255.6 241.2L259.6 241.7L263.6 241.4L264.6 241.2L265.1 240.9L266.6 239.2L267.1 238.9L267.6 239.0L269.1 240.7L270.1 241.2L274.6 242.0L282.1 242.2L288.1 241.9L289.1 241.6L289.6 241.3L290.1 240.6L291.6 237.5L292.1 237.2L292.6 237.9L293.6 240.0L294.1 240.7L294.6 241.2L295.6 241.4L296.1 241.3L296.6 241.0L297.1 240.5L298.1 238.7L298.6 238.2L299.1 238.3L300.6 240.6L301.1 241.1L302.1 241.3L303.1 241.1L303.6 240.8L304.1 240.2L305.6 237.6L306.1 237.6L307.6 240.4L308.1 241.0L309.1 241.7L310.1 241.9L312.6 241.7L315.1 241.3L317.1 240.6L319.1 239.5L320.1 238.5L321.1 237.2L322.1 235.1L322.6 233.5L323.1 231.2L323.6 227.3L324.1 220.5L324.6 208.3L325.1 188.0L325.6 157.7L326.6 79.4L327.1 53.9L327.6 57.1L328.1 86.9L329.1 164.8L329.6 193.0L330.1 211.5L330.6 222.4L331.1 228.6L331.6 232.1L332.1 234.3L332.6 235.9L333.6 237.9L334.6 239.2L336.1 240.2L337.1 240.4L337.6 240.3L338.1 239.9L339.6 237.5L340.1 237.4L340.6 238.1L341.6 240.2L342.1 240.9L342.6 241.4L343.1 241.7L344.1 241.9L344.6 241.8L345.1 241.5L345.6 240.9L347.1 238.2L347.6 238.2L349.1 241.2L349.6 241.9L350.6 242.6L353.1 243.0L362.6 243.6L366.6 243.4L370.6 243.7L372.1 243.6L376.1 242.6L379.1 242.0L380.1 241.5L381.1 240.5L381.6 239.7L382.1 238.5L382.6 236.5L383.1 232.9L383.6 226.7L384.1 216.5L384.6 201.8L385.6 166.3L386.1 156.9L386.6 161.2L388.1 211.2L388.6 223.2L389.1 230.8L389.6 235.3L390.1 237.8L390.6 239.2L391.1 240.2L391.6 240.8L392.6 241.8L393.6 242.3L395.1 242.9L399.6 244.0L401.6 244.2L408.1 244.2L414.1 244.5L418.1 244.3L423.6 244.8L428.1 244.5L432.6 244.7L435.6 244.6L437.1 244.3L438.1 243.7L438.6 243.0L439.1 241.9L440.6 237.5L441.1 237.3L441.6 238.4L442.6 241.6L443.1 242.8L443.6 243.6L444.1 244.0L444.6 244.2L445.6 244.2L446.6 243.8L447.1 243.3L447.6 242.4L448.1 241.0L449.1 237.4L449.6 236.3L450.1 236.8L451.6 242.0L452.1 243.2L452.6 243.9L453.1 244.3L454.1 244.7L460.1 245.0L465.1 245.0L469.6 245.5L474.1 245.3L478.1 245.5L482.1 245.4L485.6 245.5L489.6 245.3L500.6 245.8L500.7 252.9Z"/>
<path d="M321.6 236.3L322.1 235.1L322.6 233.5L323.1 231.2L323.6 227.3L324.1 220.5L324.6 208.3L325.1 188.0L325.6 157.7L326.6 79.4L327.1 53.9L327.6 57.1L328.1 86.9L329.1 164.8L329.6 193.0L330.1 211.5L330.6 222.4L331.1 228.6L331.6 232.1L332.1 234.3L332.6 235.9L333.1 237.0M382.1 238.5L382.6 236.5L383.1 232.9L383.6 226.7L384.1 216.5L384.6 201.8L385.6 166.3L386.1 156.9L386.6 161.2L388.1 211.2L388.6 223.2L389.1 230.8L389.6 235.3L390.1 237.8" fill="none" stroke="#000" stroke-width="1.25"/>
<path d="M129.1 235.5L129.6 234.3L130.1 232.3L131.6 222.2L132.1 220.8M184.1 236.8L184.6 235.3L185.1 233.0L186.1 227.0L186.6 225.0L187.1 224.9M188.1 226.1L188.6 225.2L189.6 221.3L190.1 221.5M194.1 236.5L194.6 235.7L195.1 234.1L195.6 231.3L196.6 222.9L197.1 219.5L197.6 219.2M208.1 237.7L208.6 236.5L209.1 234.5L210.1 228.8L210.6 226.4L211.1 226.2M215.6 238.1L216.1 237.3L216.6 235.9L217.1 233.4L218.6 221.9L219.1 220.9M236.6 238.3L237.6 236.5M290.6 239.7L291.6 237.5L292.1 237.2M297.6 239.7L298.1 238.7L298.6 238.2M304.1 240.2L305.1 238.3L305.6 237.6M320.1 238.5L321.1 237.2L321.6 236.3M338.1 239.9L339.6 237.5M345.6 240.9L346.6 239.0L347.1 238.2M380.6 241.1L381.1 240.5L381.6 239.7L382.1 238.5M438.6 243.0L439.1 241.9L440.1 238.8L440.6 237.5L441.1 237.3M447.6 242.4L448.1 241.0L449.1 237.4L449.6 236.3" fill="none" stroke="#1a1a1a" stroke-width="0.95"/>
<path d="M96.5 254.9L96.5 236.0L99.0 236.4L105.5 236.9L110.5 237.6L113.5 237.8L118.0 238.5L123.5 238.5L126.5 238.6L128.0 238.5L129.0 238.0L129.5 237.5L130.0 236.4L130.5 234.7L131.0 232.2L132.0 226.2L132.5 225.0L133.0 226.2L134.0 232.3L134.5 234.8L135.0 236.6L135.5 237.6L136.0 238.2L137.0 238.7L140.5 239.4L146.5 239.8L154.0 239.9L158.0 240.2L163.5 240.2L169.0 240.7L175.0 240.4L179.5 240.5L181.5 240.4L182.5 240.2L183.5 239.7L184.0 239.1L184.5 238.2L185.0 236.7L185.5 234.4L186.5 228.4L187.0 226.3L187.5 226.1L188.0 226.8L188.5 226.8L189.0 225.3L190.0 220.3L190.5 220.5L191.0 223.6L192.0 232.3L192.5 235.3L193.0 237.2L193.5 238.2L194.0 238.6L194.5 238.4L195.0 237.6L195.5 236.1L196.0 233.4L197.5 222.3L198.0 222.0L198.5 224.8L199.5 233.1L200.0 236.1L200.5 238.1L201.0 239.3L201.5 240.0L202.0 240.4L203.0 240.9L204.5 241.3L206.0 241.3L207.0 241.1L208.0 240.5L208.5 239.7L209.0 238.4L209.5 236.2L211.0 227.5L211.5 227.2L212.0 229.3L213.0 235.5L213.5 237.7L214.0 239.1L214.5 239.8L215.0 240.1L215.5 240.1L216.0 239.8L216.5 239.0L217.0 237.6L217.5 235.1L219.0 223.7L219.5 222.8L220.0 225.2L221.5 237.0L222.0 239.2L222.5 240.5L223.0 241.2L223.5 241.6L224.5 242.0L226.0 242.1L230.0 242.0L234.0 242.4L235.0 242.2L235.5 242.0L236.0 241.6L236.5 240.9L238.0 238.2L238.5 238.1L239.0 238.8L240.0 240.8L240.5 241.5L241.0 242.0L241.5 242.3L242.5 242.6L245.0 242.9L254.0 243.0L261.0 243.6L263.0 243.6L264.5 243.3L265.5 242.9L267.5 241.1L268.0 241.2L269.5 242.8L270.0 243.1L271.0 243.3L273.5 243.4L278.5 243.8L284.5 243.8L288.0 243.7L289.0 243.6L290.0 243.2L290.5 242.8L292.0 240.2L292.5 239.7L293.0 240.0L294.5 242.6L295.0 243.0L295.5 243.2L296.5 243.2L297.0 242.9L297.5 242.3L299.0 239.8L299.5 239.6L300.0 240.2L301.0 242.0L301.5 242.6L302.0 243.0L302.5 243.2L303.5 243.1L304.0 242.9L304.5 242.4L305.0 241.7L306.0 239.8L306.5 239.5L307.0 240.0L308.5 242.7L309.0 243.1L310.0 243.5L312.0 243.5L316.5 243.1L318.0 242.7L319.5 241.8L321.0 240.4L322.0 238.8L323.0 236.2L323.5 234.1L324.0 230.6L324.5 224.4L325.0 213.5L325.5 194.9L326.0 167.0L327.0 92.2L327.5 65.6L328.0 65.7L328.5 92.2L329.5 167.0L330.0 194.9L330.5 213.5L331.0 224.5L331.5 230.7L332.0 234.2L332.5 236.4L333.0 237.9L334.0 239.9L335.0 241.1L336.5 242.1L337.5 242.4L338.0 242.3L338.5 242.0L339.0 241.5L340.0 239.8L340.5 239.5L341.0 240.0L342.5 242.9L343.0 243.5L343.5 243.8L344.5 244.1L345.0 244.0L345.5 243.7L346.0 243.2L347.5 240.3L348.0 240.0L348.5 240.6L350.0 243.5L350.5 244.1L351.0 244.4L352.5 244.7L358.5 245.2L363.5 245.4L372.5 245.5L375.5 245.2L378.5 244.4L380.0 243.8L381.0 243.1L382.0 241.8L382.5 240.7L383.0 238.8L383.5 235.5L384.0 229.7L384.5 220.2L386.0 171.1L386.5 160.7L387.0 163.6L388.5 212.4L389.0 224.6L389.5 232.5L390.0 237.1L390.5 239.7L391.0 241.2L391.5 242.1L392.5 243.3L394.0 244.2L395.5 244.8L403.0 246.1L409.0 246.0L412.5 245.8L417.0 246.3L424.0 246.6L430.5 246.5L434.5 246.6L436.5 246.5L438.0 246.2L438.5 245.8L439.0 245.2L439.5 244.1L441.0 238.9L441.5 238.2L442.0 239.1L443.0 242.8L443.5 244.3L444.0 245.2L444.5 245.8L445.0 246.0L446.0 246.1L447.0 245.7L447.5 245.2L448.0 244.3L448.5 242.9L449.5 238.7L450.0 237.1L450.5 237.1L451.0 238.7L452.0 243.1L452.5 244.6L453.0 245.5L453.5 246.1L454.5 246.5L461.0 247.3L466.5 247.0L472.5 247.3L476.5 247.2L480.5 247.5L486.0 247.2L489.5 247.5L494.5 247.7L498.0 247.6L501.0 247.7L501.1 254.9Z"/>
<path d="M322.0 238.8L322.5 237.7L323.0 236.2L323.5 234.1L324.0 230.6L324.5 224.4L325.0 213.5L325.5 194.9L326.0 167.0L327.0 92.2L327.5 65.6L328.0 65.7L328.5 92.2L329.5 167.0L330.0 194.9L330.5 213.5L331.0 224.5L331.5 230.7L332.0 234.2L332.5 236.4L333.0 237.9L333.5 239.0M382.5 240.7L383.0 238.8L383.5 235.5L384.0 229.7L384.5 220.2L385.0 206.1L386.0 171.1L386.5 160.7L387.0 163.6L387.5 177.7L388.5 212.4L389.0 224.6L389.5 232.5L390.0 237.1L390.5 239.7" fill="none" stroke="#000" stroke-width="1.25"/>
<path d="M130.0 236.4L130.5 234.7L131.0 232.2L132.0 226.2L132.5 225.0M184.0 239.1L184.5 238.2L185.0 236.7L185.5 234.4L186.5 228.4L187.0 226.3L187.5 226.1L188.0 226.8L188.5 226.8L189.0 225.3L190.0 220.3L190.5 220.5M194.5 238.4L195.0 237.6L195.5 236.1L196.0 233.4L197.0 225.5L197.5 222.3L198.0 222.0M208.5 239.7L209.0 238.4L209.5 236.2L210.5 230.0L211.0 227.5L211.5 227.2M216.0 239.8L216.5 239.0L217.0 237.6L217.5 235.1L219.0 223.7L219.5 222.8M237.0 240.0L237.5 238.9L238.0 238.2M291.0 242.0L292.0 240.2L292.5 239.7M298.0 241.5L299.0 239.8M305.0 241.7L306.0 239.8M320.5 240.9L321.5 239.6L322.0 238.8M338.5 242.0L339.0 241.5L340.0 239.8M346.0 243.2L347.5 240.3L348.0 240.0M381.0 243.1L381.5 242.5L382.0 241.8L382.5 240.7M439.5 244.1L441.0 238.9L441.5 238.2M448.0 244.3L448.5 242.9L449.5 238.7L450.0 237.1L450.5 237.1" fill="none" stroke="#1a1a1a" stroke-width="0.95"/>
<path d="M97.0 256.8L97.0 237.7L101.5 238.4L107.0 239.0L112.0 239.7L121.5 240.1L126.0 240.4L128.0 240.4L129.0 240.1L129.5 239.8L130.0 239.2L130.5 238.2L131.0 236.3L131.5 233.7L132.5 227.4L133.0 226.1L133.5 227.4L134.5 233.7L135.0 236.4L135.5 238.2L136.0 239.4L136.5 240.0L137.5 240.5L139.0 240.8L146.5 241.6L159.5 242.1L165.0 242.7L170.0 242.8L175.0 242.4L180.0 242.5L181.5 242.4L183.0 242.1L184.0 241.6L184.5 241.1L185.0 240.2L185.5 238.7L186.0 236.5L187.0 230.7L187.5 228.7L188.0 228.4L188.5 229.2L189.0 229.3L189.5 228.1L190.5 223.5L191.0 223.7L191.5 226.7L192.5 234.7L193.0 237.5L193.5 239.3L194.0 240.2L194.5 240.5L195.0 240.3L195.5 239.5L196.0 237.9L196.5 235.1L198.0 223.5L198.5 223.1L199.0 226.1L200.0 234.8L200.5 238.0L201.0 240.0L201.5 241.2L202.0 241.9L203.0 242.4L204.0 242.7L206.0 242.8L207.5 242.6L208.5 242.1L209.0 241.5L209.5 240.3L210.0 238.4L211.5 230.5L212.0 230.2L212.5 232.1L213.5 237.7L214.0 239.7L214.5 241.0L215.0 241.7L215.5 241.9L216.0 241.9L216.5 241.6L217.0 240.9L217.5 239.4L218.0 236.9L219.5 225.2L220.0 224.2L220.5 226.6L222.0 238.4L222.5 240.6L223.0 241.9L223.5 242.6L224.5 243.2L225.5 243.5L229.0 243.9L234.5 244.3L235.5 244.2L236.0 244.0L236.5 243.6L237.0 242.8L238.5 239.7L239.0 239.6L239.5 240.3L240.5 242.5L241.0 243.3L241.5 243.8L242.0 244.1L243.0 244.3L250.5 245.0L255.0 245.0L264.5 245.3L265.5 245.1L266.0 244.9L266.5 244.5L268.0 242.9L268.5 242.9L270.5 244.6L271.5 245.0L273.5 245.5L280.5 245.8L284.5 245.7L289.0 245.8L290.0 245.6L291.0 244.9L291.5 244.2L292.5 242.1L293.0 241.4L293.5 241.4L295.0 244.1L295.5 244.6L296.0 244.9L296.5 245.1L297.0 245.0L297.5 244.8L298.0 244.4L299.5 241.7L300.0 241.3L300.5 241.7L302.0 244.5L302.5 245.0L303.5 245.4L304.5 245.3L305.0 244.9L305.5 244.3L306.5 242.5L307.0 242.0L307.5 242.3L309.0 244.8L309.5 245.3L310.5 245.6L313.0 245.5L316.5 244.9L319.0 244.3L320.5 243.5L321.5 242.7L322.5 241.3L323.5 239.0L324.0 237.0L324.5 233.9L325.0 228.4L325.5 218.6L326.0 202.0L326.5 176.6L327.5 106.7L328.0 80.0L328.5 77.1L329.0 100.1L330.0 170.4L330.5 197.6L331.0 215.9L331.5 226.8L332.0 233.0L332.5 236.5L333.0 238.6L333.5 240.1L334.5 241.9L335.5 243.1L337.0 244.1L338.0 244.4L338.5 244.4L339.0 244.2L339.5 243.6L340.5 241.8L341.0 241.1L341.5 241.3L343.0 244.4L343.5 245.1L344.0 245.5L344.5 245.7L345.5 245.9L346.0 245.7L346.5 245.4L347.0 244.9L348.0 243.2L348.5 242.8L349.0 243.1L350.5 245.7L351.0 246.2L351.5 246.6L352.5 246.9L355.0 247.1L359.5 247.0L363.5 247.2L367.0 247.3L374.0 247.2L376.5 246.8L378.5 246.3L380.5 245.4L381.5 244.7L382.5 243.6L383.0 242.6L383.5 240.9L384.0 237.9L384.5 232.5L385.0 223.6L385.5 210.4L386.5 176.0L387.0 164.7L387.5 166.1L388.0 179.2L389.0 213.3L389.5 225.7L390.0 233.8L390.5 238.6L391.0 241.3L391.5 242.9L392.0 243.9L392.5 244.6L393.5 245.6L394.5 246.2L396.0 246.9L397.5 247.3L398.5 247.4L401.0 247.4L405.5 247.8L415.0 248.3L422.5 248.2L431.5 248.7L437.0 248.4L438.5 248.0L439.0 247.7L439.5 247.1L440.0 246.0L441.5 240.2L442.0 239.0L442.5 239.5L444.0 245.4L444.5 246.6L445.0 247.3L445.5 247.7L446.5 247.9L447.5 247.6L448.0 247.2L448.5 246.4L449.0 245.1L450.5 239.3L451.0 238.8L451.5 239.9L453.0 245.8L453.5 247.0L454.0 247.6L454.5 248.1L455.5 248.5L456.5 248.8L461.0 249.1L477.5 249.1L481.5 249.4L485.5 249.3L489.0 249.5L493.5 249.4L501.5 249.6L501.6 256.8Z"/>
<path d="M130.0 239.2L130.5 238.2L131.0 236.3L132.5 227.4L133.0 226.1M184.5 241.1L185.0 240.2L185.5 238.7L186.0 236.5L187.0 230.7L187.5 228.7L188.0 228.4M189.0 229.3L189.5 228.1L190.5 223.5L191.0 223.7M195.0 240.3L195.5 239.5L196.0 237.9L196.5 235.1L197.5 226.8L198.0 223.5L198.5 223.1M209.0 241.5L209.5 240.3L210.0 238.4L211.0 232.7L211.5 230.5L212.0 230.2M216.5 241.6L217.0 240.9L217.5 239.4L218.0 236.9L219.5 225.2L220.0 224.2M237.0 242.8L238.5 239.7M291.5 244.2L292.5 242.1L293.0 241.4M298.5 243.7L299.5 241.7L300.0 241.3M305.5 244.3L306.5 242.5L307.0 242.0M321.5 242.7L322.5 241.3L323.0 240.3L323.5 239.0L324.0 237.0L324.5 233.9L325.0 228.4L325.5 218.6L326.0 202.0L326.5 176.6L327.5 106.7L328.0 80.0L328.5 77.1M339.0 244.2L339.5 243.6L340.5 241.8L341.0 241.1M347.0 244.9L348.0 243.2L348.5 242.8M382.0 244.2L382.5 243.6L383.0 242.6L383.5 240.9L384.0 237.9L384.5 232.5L385.0 223.6L385.5 210.4L386.5 176.0L387.0 164.7L387.5 166.1M440.0 246.0L440.5 244.3L441.5 240.2L442.0 239.0M448.5 246.4L449.0 245.1L450.5 239.3L451.0 238.8" fill="none" stroke="#1a1a1a" stroke-width="0.95"/>
</g>
<polygon points="97.2,258.6 97.2,238.4 64.5,100.6 64.3,121" fill="#000"/>
<g stroke="#111" stroke-width="1.5" fill="none">
<path d="M96.5 259.9H503.6"/>
<path d="M97.70 259.9l1.3 4.2" stroke-width="1.2"/>
<path d="M131.45 259.9l0.8 2.6" stroke-width="1.2"/>
<path d="M165.20 259.9l1.3 4.2" stroke-width="1.2"/>
<path d="M198.95 259.9l0.8 2.6" stroke-width="1.2"/>
<path d="M232.70 259.9l1.3 4.2" stroke-width="1.2"/>
<path d="M266.45 259.9l0.8 2.6" stroke-width="1.2"/>
<path d="M300.20 259.9l1.3 4.2" stroke-width="1.2"/>
<path d="M333.95 259.9l0.8 2.6" stroke-width="1.2"/>
<path d="M367.70 259.9l1.3 4.2" stroke-width="1.2"/>
<path d="M401.45 259.9l0.8 2.6" stroke-width="1.2"/>
<path d="M435.20 259.9l1.3 4.2" stroke-width="1.2"/>
<path d="M468.95 259.9l0.8 2.6" stroke-width="1.2"/>
<path d="M502.70 259.9l1.3 4.2" stroke-width="1.2"/>
</g>
<g stroke="#000" stroke-width="1.3" fill="none">
<path d="M85.2 260.3H97.7"/>
<path d="M88.3 247.8H94.8"/>
<path d="M79.3 235.2H91.8"/>
<path d="M82.4 222.7H88.9"/>
<path d="M73.5 210.2H86.0"/>
<path d="M76.5 197.7H83.0"/>
<path d="M67.6 185.1H80.1"/>
<path d="M70.7 172.6H77.2"/>
<path d="M61.7 160.1H74.2"/>
<path d="M64.8 147.5H71.3"/>
<path d="M55.8 135.0H68.3"/>
<path d="M58 123.2H66"/>
</g>
<g font-family="'Liberation Sans',Arial,sans-serif" fill="#000" stroke="#000" stroke-width="0.3">
<text x="83.30" y="266.00" font-size="16.80" text-anchor="end" >40</text>
<text x="76.50" y="241.30" font-size="16.80" text-anchor="end" >115</text>
<text x="69.90" y="216.30" font-size="16.80" text-anchor="end" >200</text>
<text x="64.80" y="191.90" font-size="16.80" text-anchor="end" >280</text>
<text x="58.80" y="167.50" font-size="16.80" text-anchor="end" >365</text>
<text x="52.30" y="143.10" font-size="16.80" text-anchor="end" >450</text>
<text x="50.40" y="127.70" font-size="16.80" text-anchor="end" >500</text>
<text x="96.80" y="281.50" font-size="16.80" text-anchor="start" >10</text>
<text x="164.30" y="281.50" font-size="16.80" text-anchor="start" >15</text>
<text x="231.80" y="281.50" font-size="16.80" text-anchor="start" >20</text>
<text x="299.30" y="281.50" font-size="16.80" text-anchor="start" >25</text>
<text x="366.80" y="281.50" font-size="16.80" text-anchor="start" >30</text>
<text x="434.30" y="281.50" font-size="16.80" text-anchor="start" >35</text>
<text x="501.80" y="281.50" font-size="16.80" text-anchor="start" >40</text>
<text x="63.60" y="22.60" font-size="22.30" text-anchor="start" textLength="29.8" lengthAdjust="spacingAndGlyphs" >(A)</text>
<text x="0.7" y="100.9" font-size="24.6"><tspan font-style="italic">T</tspan><tspan x="21.0" font-size="25.6" dy="0.4">(</tspan><tspan x="28.8" dy="-13.6" font-size="15.5">o</tspan><tspan x="38.1" dy="13.2" textLength="18.6" lengthAdjust="spacingAndGlyphs">C</tspan><tspan x="56.6" font-size="25.6" dy="0.4">)</tspan></text>
<text x="292.6" y="308.2" font-size="24.2">2<tspan x="306.8" font-family="'Liberation Serif',serif" font-size="24.6" textLength="12.6" lengthAdjust="spacingAndGlyphs">θ</tspan><tspan x="327.4" font-size="25.6" dy="0.4">(</tspan><tspan x="335.2" dy="-13.4" font-size="15.5">o</tspan><tspan x="346.0" dy="13.0" font-size="25.6">)</tspan></text>
</g>
<polygon points="133.7,239.4 138.1,248.6 129.3,248.6" fill="#000"/>
<polygon points="190.8,241.3 195.2,250.5 186.4,250.5" fill="#000"/>
<polygon points="198.3,241.3 202.7,250.5 193.9,250.5" fill="#000"/>
<polygon points="211.8,245.3 216.2,254.5 207.4,254.5" fill="#000"/>
<polygon points="219.9,245.3 224.3,254.5 215.5,254.5" fill="#000"/>
<polygon points="239.6,246.1 244.0,255.3 235.2,255.3" fill="#000"/>
<polygon points="268.3,246.5 272.7,255.7 263.9,255.7" fill="#000"/>
<polygon points="293.3,246.3 297.7,255.5 288.9,255.5" fill="#000"/>
<polygon points="299.8,245.9 304.2,255.1 295.4,255.1" fill="#000"/>
<polygon points="306.5,245.9 310.9,255.1 302.1,255.1" fill="#000"/>
<polygon points="340.2,245.1 344.6,254.3 335.8,254.3" fill="#000"/>
<polygon points="347.7,245.1 352.1,254.3 343.3,254.3" fill="#000"/>
<polygon points="442.0,248.0 446.4,257.2 437.6,257.2" fill="#000"/>
<polygon points="450.8,248.0 455.1,257.2 446.4,257.2" fill="#000"/>
<polygon points="178.3,185.7 186.7,185.7 182.5,194.1" fill="#000" stroke="#fff" stroke-width="1.5"/>
<polygon points="196.1,191.4 204.5,191.4 200.3,199.8" fill="#000" stroke="#fff" stroke-width="1.5"/>
<polygon points="209.3,190.0 217.7,190.0 213.5,198.4" fill="#000" stroke="#fff" stroke-width="1.5"/>
<polygon points="287.8,203.5 296.2,203.5 292.0,211.9" fill="#000" stroke="#fff" stroke-width="1.5"/>
<polygon points="351.0,204.8 359.4,204.8 355.2,213.2" fill="#000" stroke="#fff" stroke-width="1.5"/>
<polygon points="412.8,209.1 421.2,209.1 417.0,217.4" fill="#000" stroke="#fff" stroke-width="1.5"/>
<polygon points="422.1,205.1 430.4,205.1 426.2,213.4" fill="#000" stroke="#fff" stroke-width="1.5"/>
<polygon points="478.3,208.3 486.7,208.3 482.5,216.7" fill="#000" stroke="#fff" stroke-width="1.5"/>
<rect x="324.3" y="71.7" width="7" height="7" fill="#fff" stroke="#000" stroke-width="1.2"/>
<rect x="383.9" y="159.7" width="7" height="7" fill="#fff" stroke="#000" stroke-width="1.2"/>
<g stroke="#2e2e2e" stroke-width="1.4" fill="none">
<rect x="54.9" y="353.0" width="444.4" height="329.8"/>
<path d="M78.50 353.0v6.0"/>
<path d="M78.50 682.8v5.0"/>
<path d="M101.72 353.0v3.2"/>
<path d="M101.72 682.8v3.2"/>
<path d="M124.94 353.0v6.0"/>
<path d="M124.94 682.8v5.0"/>
<path d="M148.17 353.0v3.2"/>
<path d="M148.17 682.8v3.2"/>
<path d="M171.39 353.0v6.0"/>
<path d="M171.39 682.8v5.0"/>
<path d="M194.61 353.0v3.2"/>
<path d="M194.61 682.8v3.2"/>
<path d="M217.83 353.0v6.0"/>
<path d="M217.83 682.8v5.0"/>
<path d="M241.06 353.0v3.2"/>
<path d="M241.06 682.8v3.2"/>
<path d="M264.28 353.0v6.0"/>
<path d="M264.28 682.8v5.0"/>
<path d="M287.50 353.0v3.2"/>
<path d="M287.50 682.8v3.2"/>
<path d="M310.73 353.0v6.0"/>
<path d="M310.73 682.8v5.0"/>
<path d="M333.95 353.0v3.2"/>
<path d="M333.95 682.8v3.2"/>
<path d="M357.17 353.0v6.0"/>
<path d="M357.17 682.8v5.0"/>
<path d="M380.39 353.0v3.2"/>
<path d="M380.39 682.8v3.2"/>
<path d="M403.62 353.0v6.0"/>
<path d="M403.62 682.8v5.0"/>
<path d="M426.84 353.0v3.2"/>
<path d="M426.84 682.8v3.2"/>
<path d="M450.06 353.0v6.0"/>
<path d="M450.06 682.8v5.0"/>
<path d="M473.28 353.0v3.2"/>
<path d="M473.28 682.8v3.2"/>
<path d="M496.50 353.0v6.0"/>
<path d="M496.50 682.8v5.0"/>
</g>
<polyline points="68.8,384.5 76.5,379.0 84.3,377.5 92.0,377.8 99.8,379.2 107.6,380.8 115.3,382.2 123.1,382.0 130.9,380.0 138.6,380.2 146.4,381.2 154.2,382.8 161.9,384.0 169.7,386.2 177.5,387.0 185.2,387.2 193.0,388.0 200.8,389.5 208.5,392.0 216.3,393.0 224.1,394.8 231.8,396.8 239.6,401.2 247.4,403.8 255.1,409.2 262.9,532.5 270.7,570.0 278.4,568.0 286.2,577.0 294.0,583.0 301.7,581.0 309.5,581.5 317.3,582.5 325.0,583.0 332.8,583.2 340.6,584.0 348.3,585.5 356.1,586.0 363.9,583.4 371.6,585.0 379.4,589.0 387.2,591.0 394.9,594.2 402.7,610.1 410.5,625.1 418.2,626.2 426.0,626.2 433.8,611.5 441.5,610.4 449.3,627.7 457.1,636.0 464.8,637.2 472.6,629.1 480.3,639.8 488.1,636.6 495.9,622.8" fill="none" stroke="#a0a0a0" stroke-width="0.8"/>
<polyline points="68.8,526.2 76.5,523.2 84.3,522.8 92.0,522.8 99.8,523.8 107.6,525.2 115.3,526.8 123.1,528.0 130.9,535.8 138.6,536.8 146.4,537.5 154.2,538.2 161.9,538.9 169.7,539.8 177.5,540.6 185.2,541.4 193.0,542.0 200.8,542.5 208.5,543.2 216.3,544.2 224.1,545.2 231.8,547.0 239.6,548.5 247.4,550.4 255.1,552.8 262.9,612.5 270.7,630.0 278.4,629.0 286.2,634.2 294.0,636.2 301.7,636.5 309.5,636.8 317.3,636.8 325.0,636.8 332.8,636.8 340.6,636.8 348.3,637.0 356.1,636.5 363.9,638.4 371.6,639.8 379.4,638.9 387.2,641.2 394.9,642.7 402.7,645.9 410.5,643.3 418.2,657.4 426.0,658.0 433.8,654.8 441.5,656.2 449.3,656.5 457.1,652.2 464.8,647.0 472.6,656.2 480.3,660.3 488.1,656.0 495.9,654.2" fill="none" stroke="#a0a0a0" stroke-width="0.8"/>
<polyline points="68.8,651.2 76.5,650.8 84.3,650.8 92.0,651.0 99.8,651.5 107.6,652.0 115.3,653.0 123.1,655.0 130.9,677.0" fill="none" stroke="#a0a0a0" stroke-width="0.8"/>
<polyline points="130.9,656.2 138.6,651.2 146.4,652.0 154.2,652.5 161.9,652.5 169.7,652.8 177.5,653.0 185.2,653.2 193.0,653.3 200.8,653.4 208.5,653.6 216.3,654.0 224.1,654.4 231.8,655.0 239.6,655.6 247.4,657.0 255.1,659.0" fill="none" stroke="#a0a0a0" stroke-width="0.8"/>
<g fill="#fff" stroke="#000" stroke-width="1.55">
<rect x="65.8" y="381.5" width="6" height="6"/>
<rect x="73.5" y="376.0" width="6" height="6"/>
<rect x="81.3" y="374.5" width="6" height="6"/>
<rect x="89.0" y="374.8" width="6" height="6"/>
<rect x="96.8" y="376.2" width="6" height="6"/>
<rect x="104.6" y="377.8" width="6" height="6"/>
<rect x="112.3" y="379.2" width="6" height="6"/>
<rect x="120.1" y="379.0" width="6" height="6"/>
<rect x="127.9" y="377.0" width="6" height="6"/>
<rect x="135.6" y="377.2" width="6" height="6"/>
<rect x="143.4" y="378.2" width="6" height="6"/>
<rect x="151.2" y="379.8" width="6" height="6"/>
<rect x="158.9" y="381.0" width="6" height="6"/>
<rect x="166.7" y="383.2" width="6" height="6"/>
<rect x="174.5" y="384.0" width="6" height="6"/>
<rect x="182.2" y="384.2" width="6" height="6"/>
<rect x="190.0" y="385.0" width="6" height="6"/>
<rect x="197.8" y="386.5" width="6" height="6"/>
<rect x="205.5" y="389.0" width="6" height="6"/>
<rect x="213.3" y="390.0" width="6" height="6"/>
<rect x="221.1" y="391.8" width="6" height="6"/>
<rect x="228.8" y="393.8" width="6" height="6"/>
<rect x="236.6" y="398.2" width="6" height="6"/>
<rect x="244.4" y="400.8" width="6" height="6"/>
<rect x="252.1" y="406.2" width="6" height="6"/>
<rect x="259.9" y="529.5" width="6" height="6"/>
<rect x="267.7" y="567.0" width="6" height="6"/>
<rect x="275.4" y="565.0" width="6" height="6"/>
<rect x="283.2" y="574.0" width="6" height="6"/>
<rect x="291.0" y="580.0" width="6" height="6"/>
<rect x="298.7" y="578.0" width="6" height="6"/>
<rect x="306.5" y="578.5" width="6" height="6"/>
<rect x="314.3" y="579.5" width="6" height="6"/>
<rect x="322.0" y="580.0" width="6" height="6"/>
<rect x="329.8" y="580.2" width="6" height="6"/>
<rect x="337.6" y="581.0" width="6" height="6"/>
<rect x="345.3" y="582.5" width="6" height="6"/>
<rect x="353.1" y="583.0" width="6" height="6"/>
<rect x="360.9" y="580.4" width="6" height="6"/>
<rect x="368.6" y="582.0" width="6" height="6"/>
<rect x="376.4" y="586.0" width="6" height="6"/>
<rect x="384.2" y="588.0" width="6" height="6"/>
<rect x="391.9" y="591.2" width="6" height="6"/>
<rect x="399.7" y="607.1" width="6" height="6"/>
<rect x="407.5" y="622.1" width="6" height="6"/>
<rect x="415.2" y="623.2" width="6" height="6"/>
<rect x="423.0" y="623.2" width="6" height="6"/>
<rect x="430.8" y="608.5" width="6" height="6"/>
<rect x="438.5" y="607.4" width="6" height="6"/>
<rect x="446.3" y="624.7" width="6" height="6"/>
<rect x="454.1" y="633.0" width="6" height="6"/>
<rect x="461.8" y="634.2" width="6" height="6"/>
<rect x="469.6" y="626.1" width="6" height="6"/>
<rect x="477.3" y="636.8" width="6" height="6"/>
<rect x="485.1" y="633.6" width="6" height="6"/>
<rect x="492.9" y="619.8" width="6" height="6"/>
<polygon points="68.8,521.5 73.5,526.2 68.8,531.0 64.0,526.2"/>
<polygon points="76.5,518.5 81.2,523.2 76.5,528.0 71.8,523.2"/>
<polygon points="84.3,518.0 89.0,522.8 84.3,527.5 79.6,522.8"/>
<polygon points="92.0,518.0 96.7,522.8 92.0,527.5 87.3,522.8"/>
<polygon points="99.8,519.0 104.5,523.8 99.8,528.5 95.1,523.8"/>
<polygon points="107.6,520.5 112.3,525.2 107.6,530.0 102.9,525.2"/>
<polygon points="115.3,522.0 120.0,526.8 115.3,531.5 110.6,526.8"/>
<polygon points="123.1,523.3 127.8,528.0 123.1,532.7 118.4,528.0"/>
<polygon points="130.9,531.0 135.6,535.8 130.9,540.5 126.2,535.8"/>
<polygon points="138.6,532.0 143.3,536.8 138.6,541.5 133.9,536.8"/>
<polygon points="146.4,532.8 151.1,537.5 146.4,542.2 141.7,537.5"/>
<polygon points="154.2,533.5 158.9,538.2 154.2,543.0 149.5,538.2"/>
<polygon points="161.9,534.2 166.6,538.9 161.9,543.6 157.2,538.9"/>
<polygon points="169.7,535.0 174.4,539.8 169.7,544.5 165.0,539.8"/>
<polygon points="177.5,535.9 182.2,540.6 177.5,545.3 172.8,540.6"/>
<polygon points="185.2,536.7 189.9,541.4 185.2,546.1 180.5,541.4"/>
<polygon points="193.0,537.3 197.7,542.0 193.0,546.7 188.3,542.0"/>
<polygon points="200.8,537.8 205.5,542.5 200.8,547.2 196.1,542.5"/>
<polygon points="208.5,538.5 213.2,543.2 208.5,548.0 203.8,543.2"/>
<polygon points="216.3,539.5 221.0,544.2 216.3,549.0 211.6,544.2"/>
<polygon points="224.1,540.5 228.8,545.2 224.1,550.0 219.4,545.2"/>
<polygon points="231.8,542.3 236.5,547.0 231.8,551.7 227.1,547.0"/>
<polygon points="239.6,543.8 244.3,548.5 239.6,553.2 234.9,548.5"/>
<polygon points="247.4,545.7 252.1,550.4 247.4,555.1 242.7,550.4"/>
<polygon points="255.1,548.0 259.8,552.8 255.1,557.5 250.4,552.8"/>
<polygon points="262.9,607.8 267.6,612.5 262.9,617.2 258.2,612.5"/>
<polygon points="270.7,625.3 275.4,630.0 270.7,634.7 266.0,630.0"/>
<polygon points="278.4,624.3 283.1,629.0 278.4,633.7 273.7,629.0"/>
<polygon points="286.2,629.5 290.9,634.2 286.2,639.0 281.5,634.2"/>
<polygon points="294.0,631.5 298.7,636.2 294.0,641.0 289.3,636.2"/>
<polygon points="301.7,631.8 306.4,636.5 301.7,641.2 297.0,636.5"/>
<polygon points="309.5,632.0 314.2,636.8 309.5,641.5 304.8,636.8"/>
<polygon points="317.3,632.0 322.0,636.8 317.3,641.5 312.6,636.8"/>
<polygon points="325.0,632.0 329.7,636.8 325.0,641.5 320.3,636.8"/>
<polygon points="332.8,632.0 337.5,636.8 332.8,641.5 328.1,636.8"/>
<polygon points="340.6,632.0 345.3,636.8 340.6,641.5 335.9,636.8"/>
<polygon points="348.3,632.3 353.0,637.0 348.3,641.7 343.6,637.0"/>
<polygon points="356.1,631.8 360.8,636.5 356.1,641.2 351.4,636.5"/>
<polygon points="363.9,633.7 368.6,638.4 363.9,643.1 359.2,638.4"/>
<polygon points="371.6,635.1 376.3,639.8 371.6,644.5 366.9,639.8"/>
<polygon points="379.4,634.2 384.1,638.9 379.4,643.6 374.7,638.9"/>
<polygon points="387.2,636.5 391.9,641.2 387.2,645.9 382.5,641.2"/>
<polygon points="394.9,638.0 399.6,642.7 394.9,647.4 390.2,642.7"/>
<polygon points="402.7,641.2 407.4,645.9 402.7,650.6 398.0,645.9"/>
<polygon points="410.5,638.6 415.2,643.3 410.5,648.0 405.8,643.3"/>
<polygon points="418.2,652.7 422.9,657.4 418.2,662.1 413.5,657.4"/>
<polygon points="426.0,653.3 430.7,658.0 426.0,662.7 421.3,658.0"/>
<polygon points="433.8,650.1 438.5,654.8 433.8,659.5 429.1,654.8"/>
<polygon points="441.5,651.5 446.2,656.2 441.5,660.9 436.8,656.2"/>
<polygon points="449.3,651.8 454.0,656.5 449.3,661.2 444.6,656.5"/>
<polygon points="457.1,647.5 461.8,652.2 457.1,656.9 452.4,652.2"/>
<polygon points="464.8,642.3 469.5,647.0 464.8,651.7 460.1,647.0"/>
<polygon points="472.6,651.5 477.3,656.2 472.6,660.9 467.9,656.2"/>
<polygon points="480.3,655.6 485.0,660.3 480.3,665.0 475.6,660.3"/>
<polygon points="488.1,651.3 492.8,656.0 488.1,660.7 483.4,656.0"/>
<polygon points="495.9,649.5 500.6,654.2 495.9,658.9 491.2,654.2"/>
</g>
<polygon points="68.8,646.4 73.7,655.6 63.9,655.6" fill="#000"/>
<polygon points="76.5,645.9 81.4,655.1 71.6,655.1" fill="#000"/>
<polygon points="84.3,645.9 89.2,655.1 79.4,655.1" fill="#000"/>
<polygon points="92.0,646.1 96.9,655.3 87.1,655.3" fill="#000"/>
<polygon points="99.8,646.6 104.7,655.8 94.9,655.8" fill="#000"/>
<polygon points="107.6,647.1 112.5,656.3 102.7,656.3" fill="#000"/>
<polygon points="115.3,648.1 120.2,657.3 110.4,657.3" fill="#000"/>
<polygon points="123.1,650.1 128.0,659.3 118.2,659.3" fill="#000"/>
<polygon points="130.9,672.1 135.8,681.3 126.0,681.3" fill="#000"/>
<polygon points="126.0,651.9 135.8,651.9 130.9,661.1" fill="#000"/>
<polygon points="133.7,646.9 143.5,646.9 138.6,656.1" fill="#000"/>
<polygon points="141.5,647.7 151.3,647.7 146.4,656.9" fill="#000"/>
<polygon points="149.3,648.2 159.1,648.2 154.2,657.4" fill="#000"/>
<polygon points="157.0,648.2 166.8,648.2 161.9,657.4" fill="#000"/>
<polygon points="164.8,648.4 174.6,648.4 169.7,657.6" fill="#000"/>
<polygon points="172.6,648.7 182.4,648.7 177.5,657.9" fill="#000"/>
<polygon points="180.3,648.9 190.1,648.9 185.2,658.1" fill="#000"/>
<polygon points="188.1,649.0 197.9,649.0 193.0,658.2" fill="#000"/>
<polygon points="195.9,649.1 205.7,649.1 200.8,658.3" fill="#000"/>
<polygon points="203.6,649.3 213.4,649.3 208.5,658.5" fill="#000"/>
<polygon points="211.4,649.7 221.2,649.7 216.3,658.9" fill="#000"/>
<polygon points="219.2,650.1 229.0,650.1 224.1,659.3" fill="#000"/>
<polygon points="226.9,650.7 236.7,650.7 231.8,659.9" fill="#000"/>
<polygon points="234.7,651.3 244.5,651.3 239.6,660.5" fill="#000"/>
<polygon points="242.5,652.7 252.3,652.7 247.4,661.9" fill="#000"/>
<polygon points="250.2,654.7 260.0,654.7 255.1,663.9" fill="#000"/>
<g font-family="'Liberation Sans',Arial,sans-serif" fill="#000" stroke="#000" stroke-width="0.3">
<text x="9.90" y="362.70" font-size="23.30" text-anchor="start" textLength="34.8" lengthAdjust="spacingAndGlyphs" >(B)</text>
<text x="78.30" y="708.40" font-size="17.00" text-anchor="middle" >50</text>
<text x="124.74" y="708.40" font-size="17.00" text-anchor="middle" >100</text>
<text x="171.19" y="708.40" font-size="17.00" text-anchor="middle" >150</text>
<text x="217.63" y="708.40" font-size="17.00" text-anchor="middle" >200</text>
<text x="264.08" y="708.40" font-size="17.00" text-anchor="middle" >250</text>
<text x="310.53" y="708.40" font-size="17.00" text-anchor="middle" >300</text>
<text x="356.97" y="708.40" font-size="17.00" text-anchor="middle" >350</text>
<text x="403.42" y="708.40" font-size="17.00" text-anchor="middle" >400</text>
<text x="449.86" y="708.40" font-size="17.00" text-anchor="middle" >450</text>
<text x="496.31" y="708.40" font-size="17.00" text-anchor="middle" >500</text>
<text x="260.6" y="742.0" font-size="22.5"><tspan font-style="italic">T</tspan><tspan x="279.6" font-size="23.4" dy="0.3">(</tspan><tspan x="286.9" dy="-12.4" font-size="14.2">o</tspan><tspan x="295.2" dy="12.1" textLength="17.2" lengthAdjust="spacingAndGlyphs">C</tspan><tspan x="312.3" font-size="23.4" dy="0.3">)</tspan></text>
<text transform="translate(41.9 632.5) rotate(-90)" font-size="18.4">Integrated intensity (a.u.)</text>
<text x="56.6" y="372.7" font-size="18.4">Al+LiH <tspan dx="0.8">(2</tspan><tspan font-family="'Liberation Serif',serif">θ</tspan> ~ 27<tspan dy="-9" font-size="11.5">o</tspan><tspan dy="9">)</tspan></text>
<text x="56.6" y="514.7" font-size="18.4">Al+LiH+Al<tspan x="140" dy="7.2" font-size="10.5">1-<tspan font-style="italic">x</tspan></tspan><tspan x="155" dy="-7.2">Li</tspan><tspan x="168.8" dy="7.2" font-size="10.5" font-style="italic">x</tspan><tspan x="174.2" dy="-7.2">B</tspan><tspan x="185.2" dy="7.2" font-size="10.5">2</tspan><tspan x="197.8" dy="-7.2">(2</tspan><tspan font-family="'Liberation Serif',serif">θ</tspan> ~ 31<tspan dy="-9" font-size="11.5">o</tspan><tspan dy="9">)</tspan></text>
<text x="61.6" y="638.0" font-size="18.4"><tspan font-style="italic">o</tspan>-LiBH<tspan dy="7" font-size="10.5">4</tspan></text>
<text x="142.6" y="638.0" font-size="18.4"><tspan font-style="italic">h</tspan>-LiBH<tspan dy="7" font-size="10.5">4</tspan></text>
</g>
</svg></body></html>
